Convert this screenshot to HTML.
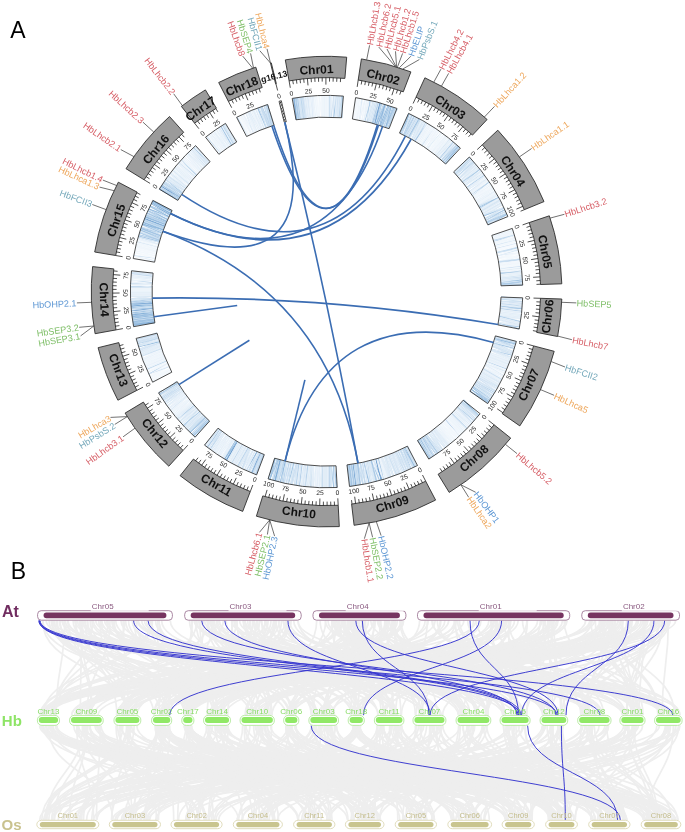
<!DOCTYPE html>
<html><head><meta charset="utf-8"><title>Figure</title>
<style>html,body{margin:0;padding:0;background:#fff;}svg{display:block;}</style>
</head><body>
<svg width="685" height="832" viewBox="0 0 685 832">
<rect width="685" height="832" fill="#fff"/>
<g id="circos">
<g fill="none" stroke-width="21.7">
<path d="M294.1,109.1A185.35,185.35 0 0 1 294.9,109.0" stroke="#b6d1ea"/>
<path d="M294.7,109.0A185.35,185.35 0 0 1 295.5,108.9" stroke="#6b9dcf"/>
<path d="M295.4,108.9A185.35,185.35 0 0 1 296.2,108.8" stroke="#7fadd8"/>
<path d="M296.0,108.8A185.35,185.35 0 0 1 296.8,108.7" stroke="#cde0f1"/>
<path d="M296.6,108.7A185.35,185.35 0 0 1 297.4,108.6" stroke="#9ec1e2"/>
<path d="M297.3,108.6A185.35,185.35 0 0 1 298.1,108.5" stroke="#9fc2e2"/>
<path d="M297.9,108.5A185.35,185.35 0 0 1 298.7,108.4" stroke="#cadef1"/>
<path d="M298.6,108.4A185.35,185.35 0 0 1 299.4,108.3" stroke="#a0c3e3"/>
<path d="M299.2,108.3A185.35,185.35 0 0 1 300.0,108.2" stroke="#c5dbef"/>
<path d="M299.8,108.2A185.35,185.35 0 0 1 300.6,108.1" stroke="#d4e5f4"/>
<path d="M300.5,108.1A185.35,185.35 0 0 1 301.3,108.0" stroke="#cce0f1"/>
<path d="M301.1,108.0A185.35,185.35 0 0 1 301.9,107.9" stroke="#d3e4f3"/>
<path d="M301.8,107.9A185.35,185.35 0 0 1 302.6,107.8" stroke="#b2cfe9"/>
<path d="M302.4,107.8A185.35,185.35 0 0 1 303.2,107.7" stroke="#c3daee"/>
<path d="M303.0,107.8A185.35,185.35 0 0 1 303.9,107.7" stroke="#cee1f2"/>
<path d="M303.7,107.7A185.35,185.35 0 0 1 304.5,107.6" stroke="#c1d8ee"/>
<path d="M304.3,107.6A185.35,185.35 0 0 1 305.1,107.5" stroke="#cde0f1"/>
<path d="M305.0,107.5A185.35,185.35 0 0 1 305.8,107.4" stroke="#dae8f5"/>
<path d="M305.6,107.4A185.35,185.35 0 0 1 306.4,107.4" stroke="#dbe9f5"/>
<path d="M306.3,107.4A185.35,185.35 0 0 1 307.1,107.3" stroke="#d7e7f4"/>
<path d="M306.9,107.3A185.35,185.35 0 0 1 307.7,107.2" stroke="#e4eef8"/>
<path d="M307.5,107.2A185.35,185.35 0 0 1 308.4,107.2" stroke="#e1ecf7"/>
<path d="M308.2,107.2A185.35,185.35 0 0 1 309.0,107.1" stroke="#deebf6"/>
<path d="M308.8,107.1A185.35,185.35 0 0 1 309.6,107.0" stroke="#dae8f5"/>
<path d="M309.5,107.0A185.35,185.35 0 0 1 310.3,107.0" stroke="#e3eef8"/>
<path d="M310.1,107.0A185.35,185.35 0 0 1 310.9,106.9" stroke="#e8f1f9"/>
<path d="M310.8,106.9A185.35,185.35 0 0 1 311.6,106.9" stroke="#eaf3fa"/>
<path d="M311.4,106.9A185.35,185.35 0 0 1 312.2,106.8" stroke="#e2edf8"/>
<path d="M312.1,106.8A185.35,185.35 0 0 1 312.9,106.8" stroke="#e2edf8"/>
<path d="M312.7,106.8A185.35,185.35 0 0 1 313.5,106.7" stroke="#e6f0f9"/>
<path d="M313.3,106.7A185.35,185.35 0 0 1 314.2,106.7" stroke="#e9f1fa"/>
<path d="M314.0,106.7A185.35,185.35 0 0 1 314.8,106.6" stroke="#e8f1f9"/>
<path d="M314.6,106.6A185.35,185.35 0 0 1 315.4,106.6" stroke="#edf4fb"/>
<path d="M315.3,106.6A185.35,185.35 0 0 1 316.1,106.5" stroke="#f1f7fc"/>
<path d="M315.9,106.6A185.35,185.35 0 0 1 316.7,106.5" stroke="#eef5fb"/>
<path d="M316.6,106.5A185.35,185.35 0 0 1 317.4,106.5" stroke="#edf4fb"/>
<path d="M317.2,106.5A185.35,185.35 0 0 1 318.0,106.4" stroke="#f0f6fc"/>
<path d="M317.9,106.5A185.35,185.35 0 0 1 318.7,106.4" stroke="#f3f8fc"/>
<path d="M318.5,106.4A185.35,185.35 0 0 1 319.3,106.4" stroke="#f2f7fc"/>
<path d="M319.2,106.4A185.35,185.35 0 0 1 320.0,106.4" stroke="#f2f7fc"/>
<path d="M319.8,106.4A185.35,185.35 0 0 1 320.6,106.3" stroke="#f2f7fc"/>
<path d="M320.5,106.4A185.35,185.35 0 0 1 321.3,106.3" stroke="#f0f6fc"/>
<path d="M321.1,106.3A185.35,185.35 0 0 1 321.9,106.3" stroke="#f2f7fc"/>
<path d="M321.7,106.3A185.35,185.35 0 0 1 322.6,106.3" stroke="#eef5fb"/>
<path d="M322.4,106.3A185.35,185.35 0 0 1 323.2,106.3" stroke="#ecf3fa"/>
<path d="M323.0,106.3A185.35,185.35 0 0 1 323.9,106.3" stroke="#eff5fb"/>
<path d="M323.7,106.3A185.35,185.35 0 0 1 324.5,106.3" stroke="#eef5fb"/>
<path d="M324.3,106.3A185.35,185.35 0 0 1 325.1,106.3" stroke="#e9f1fa"/>
<path d="M325.0,106.3A185.35,185.35 0 0 1 325.8,106.3" stroke="#eff5fb"/>
<path d="M325.6,106.3A185.35,185.35 0 0 1 326.4,106.3" stroke="#eef5fb"/>
<path d="M326.3,106.3A185.35,185.35 0 0 1 327.1,106.3" stroke="#ebf3fa"/>
<path d="M326.9,106.3A185.35,185.35 0 0 1 327.7,106.3" stroke="#f0f6fc"/>
<path d="M327.6,106.3A185.35,185.35 0 0 1 328.4,106.3" stroke="#ecf4fb"/>
<path d="M328.2,106.3A185.35,185.35 0 0 1 329.0,106.3" stroke="#e7f0f9"/>
<path d="M328.9,106.3A185.35,185.35 0 0 1 329.7,106.3" stroke="#eaf2fa"/>
<path d="M329.5,106.3A185.35,185.35 0 0 1 330.3,106.3" stroke="#accbe7"/>
<path d="M330.2,106.3A185.35,185.35 0 0 1 331.0,106.3" stroke="#e3eef8"/>
<path d="M330.8,106.3A185.35,185.35 0 0 1 331.6,106.3" stroke="#e1ecf7"/>
<path d="M331.5,106.3A185.35,185.35 0 0 1 332.3,106.3" stroke="#e4eef8"/>
<path d="M332.1,106.3A185.35,185.35 0 0 1 332.9,106.4" stroke="#ccdff1"/>
<path d="M332.7,106.4A185.35,185.35 0 0 1 333.6,106.4" stroke="#e4eef8"/>
<path d="M333.4,106.4A185.35,185.35 0 0 1 334.2,106.4" stroke="#d0e2f2"/>
<path d="M334.0,106.4A185.35,185.35 0 0 1 334.8,106.4" stroke="#e3eef8"/>
<path d="M334.7,106.4A185.35,185.35 0 0 1 335.5,106.5" stroke="#a0c3e3"/>
<path d="M335.3,106.5A185.35,185.35 0 0 1 336.1,106.5" stroke="#d9e7f5"/>
<path d="M336.0,106.5A185.35,185.35 0 0 1 336.8,106.5" stroke="#dfebf7"/>
<path d="M336.6,106.5A185.35,185.35 0 0 1 337.4,106.6" stroke="#dbe9f6"/>
<path d="M337.3,106.6A185.35,185.35 0 0 1 338.1,106.6" stroke="#cde0f2"/>
<path d="M337.9,106.6A185.35,185.35 0 0 1 338.7,106.6" stroke="#d4e4f3"/>
<path d="M338.6,106.6A185.35,185.35 0 0 1 339.4,106.7" stroke="#dbe9f6"/>
<path d="M339.2,106.7A185.35,185.35 0 0 1 340.0,106.7" stroke="#d1e3f3"/>
<path d="M339.9,106.7A185.35,185.35 0 0 1 340.7,106.8" stroke="#bad4eb"/>
<path d="M340.5,106.8A185.35,185.35 0 0 1 341.3,106.8" stroke="#d8e7f5"/>
<path d="M341.1,106.8A185.35,185.35 0 0 1 341.9,106.9" stroke="#c3daee"/>
<path d="M341.8,106.9A185.35,185.35 0 0 1 342.4,106.9" stroke="#88b3db"/>
<path d="M354.0,108.3A185.35,185.35 0 0 1 354.8,108.4" stroke="#f2f7fc"/>
<path d="M354.6,108.4A185.35,185.35 0 0 1 355.4,108.5" stroke="#f2f8fc"/>
<path d="M355.3,108.5A185.35,185.35 0 0 1 356.1,108.6" stroke="#f3f8fd"/>
<path d="M355.9,108.6A185.35,185.35 0 0 1 356.7,108.7" stroke="#f2f7fc"/>
<path d="M356.6,108.7A185.35,185.35 0 0 1 357.4,108.8" stroke="#f1f7fc"/>
<path d="M357.2,108.8A185.35,185.35 0 0 1 358.0,108.9" stroke="#f3f8fd"/>
<path d="M357.9,108.9A185.35,185.35 0 0 1 358.7,109.0" stroke="#eff5fb"/>
<path d="M358.5,109.0A185.35,185.35 0 0 1 359.3,109.2" stroke="#eff6fb"/>
<path d="M359.1,109.1A185.35,185.35 0 0 1 359.9,109.3" stroke="#eff5fb"/>
<path d="M359.8,109.2A185.35,185.35 0 0 1 360.6,109.4" stroke="#f0f6fc"/>
<path d="M360.4,109.4A185.35,185.35 0 0 1 361.2,109.5" stroke="#d8e7f5"/>
<path d="M361.1,109.5A185.35,185.35 0 0 1 361.9,109.6" stroke="#f1f6fc"/>
<path d="M361.7,109.6A185.35,185.35 0 0 1 362.5,109.8" stroke="#ecf3fa"/>
<path d="M362.4,109.7A185.35,185.35 0 0 1 363.1,109.9" stroke="#ecf3fa"/>
<path d="M363.0,109.9A185.35,185.35 0 0 1 363.8,110.0" stroke="#ebf3fa"/>
<path d="M363.6,110.0A185.35,185.35 0 0 1 364.4,110.2" stroke="#f0f6fc"/>
<path d="M364.3,110.1A185.35,185.35 0 0 1 365.1,110.3" stroke="#f0f6fc"/>
<path d="M364.9,110.3A185.35,185.35 0 0 1 365.7,110.4" stroke="#ecf4fb"/>
<path d="M365.5,110.4A185.35,185.35 0 0 1 366.3,110.6" stroke="#e8f1f9"/>
<path d="M366.2,110.5A185.35,185.35 0 0 1 367.0,110.7" stroke="#e8f1f9"/>
<path d="M366.8,110.7A185.35,185.35 0 0 1 367.6,110.8" stroke="#ecf3fa"/>
<path d="M367.5,110.8A185.35,185.35 0 0 1 368.2,111.0" stroke="#abcae6"/>
<path d="M368.1,111.0A185.35,185.35 0 0 1 368.9,111.1" stroke="#a9c9e6"/>
<path d="M368.7,111.1A185.35,185.35 0 0 1 369.5,111.3" stroke="#e4eff8"/>
<path d="M369.4,111.3A185.35,185.35 0 0 1 370.2,111.4" stroke="#dfebf7"/>
<path d="M370.0,111.4A185.35,185.35 0 0 1 370.8,111.6" stroke="#d0e2f2"/>
<path d="M370.6,111.6A185.35,185.35 0 0 1 371.4,111.8" stroke="#dbe9f6"/>
<path d="M371.3,111.7A185.35,185.35 0 0 1 372.1,111.9" stroke="#d3e4f3"/>
<path d="M371.9,111.9A185.35,185.35 0 0 1 372.7,112.1" stroke="#e0ecf7"/>
<path d="M372.5,112.0A185.35,185.35 0 0 1 373.3,112.2" stroke="#cee1f2"/>
<path d="M373.2,112.2A185.35,185.35 0 0 1 373.9,112.4" stroke="#deebf6"/>
<path d="M373.8,112.4A185.35,185.35 0 0 1 374.6,112.6" stroke="#c7dcf0"/>
<path d="M374.4,112.5A185.35,185.35 0 0 1 375.2,112.7" stroke="#d5e5f4"/>
<path d="M375.1,112.7A185.35,185.35 0 0 1 375.8,112.9" stroke="#92b9de"/>
<path d="M375.7,112.9A185.35,185.35 0 0 1 376.5,113.1" stroke="#c4dbef"/>
<path d="M376.3,113.0A185.35,185.35 0 0 1 377.1,113.3" stroke="#aecce7"/>
<path d="M376.9,113.2A185.35,185.35 0 0 1 377.7,113.4" stroke="#6497cc"/>
<path d="M377.6,113.4A185.35,185.35 0 0 1 378.3,113.6" stroke="#7fadd8"/>
<path d="M378.2,113.6A185.35,185.35 0 0 1 379.0,113.8" stroke="#c4daef"/>
<path d="M378.8,113.8A185.35,185.35 0 0 1 379.6,114.0" stroke="#abcae6"/>
<path d="M379.4,113.9A185.35,185.35 0 0 1 380.2,114.2" stroke="#b4d0e9"/>
<path d="M380.1,114.1A185.35,185.35 0 0 1 380.8,114.4" stroke="#8cb6dc"/>
<path d="M380.7,114.3A185.35,185.35 0 0 1 381.5,114.6" stroke="#accbe7"/>
<path d="M381.3,114.5A185.35,185.35 0 0 1 382.1,114.8" stroke="#8ab4db"/>
<path d="M381.9,114.7A185.35,185.35 0 0 1 382.7,114.9" stroke="#89b3db"/>
<path d="M382.6,114.9A185.35,185.35 0 0 1 383.3,115.1" stroke="#a5c6e4"/>
<path d="M383.2,115.1A185.35,185.35 0 0 1 384.0,115.3" stroke="#cbdff1"/>
<path d="M383.8,115.3A185.35,185.35 0 0 1 384.6,115.6" stroke="#78a8d5"/>
<path d="M384.4,115.5A185.35,185.35 0 0 1 385.2,115.8" stroke="#bed7ed"/>
<path d="M385.0,115.7A185.35,185.35 0 0 1 385.8,116.0" stroke="#91b9de"/>
<path d="M385.7,115.9A185.35,185.35 0 0 1 386.4,116.2" stroke="#b0cde8"/>
<path d="M386.3,116.1A185.35,185.35 0 0 1 387.0,116.4" stroke="#9dc1e2"/>
<path d="M386.9,116.3A185.35,185.35 0 0 1 387.7,116.6" stroke="#c1d9ee"/>
<path d="M387.5,116.5A185.35,185.35 0 0 1 388.3,116.8" stroke="#b6d1ea"/>
<path d="M388.1,116.8A185.35,185.35 0 0 1 388.9,117.0" stroke="#8db7dc"/>
<path d="M388.7,117.0A185.35,185.35 0 0 1 389.5,117.3" stroke="#a2c4e3"/>
<path d="M389.4,117.2A185.35,185.35 0 0 1 390.1,117.5" stroke="#8bb5dc"/>
<path d="M390.0,117.4A185.35,185.35 0 0 1 390.7,117.7" stroke="#a7c7e5"/>
<path d="M390.6,117.6A185.35,185.35 0 0 1 391.3,117.9" stroke="#b2cfe9"/>
<path d="M391.2,117.9A185.35,185.35 0 0 1 392.0,118.2" stroke="#bad4eb"/>
<path d="M391.8,118.1A185.35,185.35 0 0 1 392.6,118.4" stroke="#bbd4ec"/>
<path d="M392.4,118.3A185.35,185.35 0 0 1 393.0,118.6" stroke="#aecce7"/>
<path d="M404.1,123.2A185.35,185.35 0 0 1 404.8,123.5" stroke="#8eb7dd"/>
<path d="M404.6,123.5A185.35,185.35 0 0 1 405.4,123.8" stroke="#aacae6"/>
<path d="M405.2,123.8A185.35,185.35 0 0 1 406.0,124.1" stroke="#97bde0"/>
<path d="M405.8,124.0A185.35,185.35 0 0 1 406.6,124.4" stroke="#cbdff1"/>
<path d="M406.4,124.3A185.35,185.35 0 0 1 407.1,124.7" stroke="#cee0f2"/>
<path d="M407.0,124.6A185.35,185.35 0 0 1 407.7,124.9" stroke="#cfe1f2"/>
<path d="M407.6,124.9A185.35,185.35 0 0 1 408.3,125.2" stroke="#a7c7e5"/>
<path d="M408.2,125.2A185.35,185.35 0 0 1 408.9,125.5" stroke="#cee1f2"/>
<path d="M408.7,125.4A185.35,185.35 0 0 1 409.5,125.8" stroke="#b6d1ea"/>
<path d="M409.3,125.7A185.35,185.35 0 0 1 410.1,126.1" stroke="#adcbe7"/>
<path d="M409.9,126.0A185.35,185.35 0 0 1 410.6,126.4" stroke="#d1e2f2"/>
<path d="M410.5,126.3A185.35,185.35 0 0 1 411.2,126.7" stroke="#cce0f1"/>
<path d="M411.1,126.6A185.35,185.35 0 0 1 411.8,127.0" stroke="#b3cfe9"/>
<path d="M411.7,126.9A185.35,185.35 0 0 1 412.4,127.3" stroke="#d7e6f4"/>
<path d="M412.2,127.2A185.35,185.35 0 0 1 412.9,127.6" stroke="#cde0f2"/>
<path d="M412.8,127.5A185.35,185.35 0 0 1 413.5,127.9" stroke="#d8e7f5"/>
<path d="M413.4,127.8A185.35,185.35 0 0 1 414.1,128.2" stroke="#90b9dd"/>
<path d="M414.0,128.1A185.35,185.35 0 0 1 414.7,128.5" stroke="#abcae6"/>
<path d="M414.5,128.4A185.35,185.35 0 0 1 415.2,128.8" stroke="#cde0f1"/>
<path d="M415.1,128.7A185.35,185.35 0 0 1 415.8,129.1" stroke="#dceaf6"/>
<path d="M415.7,129.1A185.35,185.35 0 0 1 416.4,129.4" stroke="#c9def0"/>
<path d="M416.2,129.4A185.35,185.35 0 0 1 417.0,129.8" stroke="#ddeaf6"/>
<path d="M416.8,129.7A185.35,185.35 0 0 1 417.5,130.1" stroke="#dfecf7"/>
<path d="M417.4,130.0A185.35,185.35 0 0 1 418.1,130.4" stroke="#dbe9f6"/>
<path d="M417.9,130.3A185.35,185.35 0 0 1 418.7,130.7" stroke="#d9e8f5"/>
<path d="M418.5,130.6A185.35,185.35 0 0 1 419.2,131.0" stroke="#d3e4f3"/>
<path d="M419.1,131.0A185.35,185.35 0 0 1 419.8,131.4" stroke="#e3eef8"/>
<path d="M419.6,131.3A185.35,185.35 0 0 1 420.3,131.7" stroke="#ddeaf6"/>
<path d="M420.2,131.6A185.35,185.35 0 0 1 420.9,132.0" stroke="#b9d3eb"/>
<path d="M420.8,131.9A185.35,185.35 0 0 1 421.5,132.4" stroke="#a5c6e4"/>
<path d="M421.3,132.3A185.35,185.35 0 0 1 422.0,132.7" stroke="#e3eef8"/>
<path d="M421.9,132.6A185.35,185.35 0 0 1 422.6,133.0" stroke="#ecf3fa"/>
<path d="M422.4,132.9A185.35,185.35 0 0 1 423.1,133.4" stroke="#edf4fb"/>
<path d="M423.0,133.3A185.35,185.35 0 0 1 423.7,133.7" stroke="#eaf2fa"/>
<path d="M423.5,133.6A185.35,185.35 0 0 1 424.2,134.1" stroke="#eaf2fa"/>
<path d="M424.1,134.0A185.35,185.35 0 0 1 424.8,134.4" stroke="#edf4fb"/>
<path d="M424.7,134.3A185.35,185.35 0 0 1 425.3,134.7" stroke="#ebf3fa"/>
<path d="M425.2,134.7A185.35,185.35 0 0 1 425.9,135.1" stroke="#eff5fb"/>
<path d="M425.8,135.0A185.35,185.35 0 0 1 426.4,135.4" stroke="#eff6fb"/>
<path d="M426.3,135.4A185.35,185.35 0 0 1 427.0,135.8" stroke="#edf4fb"/>
<path d="M426.9,135.7A185.35,185.35 0 0 1 427.5,136.1" stroke="#eaf2fa"/>
<path d="M427.4,136.1A185.35,185.35 0 0 1 428.1,136.5" stroke="#ecf4fb"/>
<path d="M427.9,136.4A185.35,185.35 0 0 1 428.6,136.9" stroke="#d5e5f4"/>
<path d="M428.5,136.8A185.35,185.35 0 0 1 429.2,137.2" stroke="#f1f6fc"/>
<path d="M429.0,137.1A185.35,185.35 0 0 1 429.7,137.6" stroke="#edf4fb"/>
<path d="M429.6,137.5A185.35,185.35 0 0 1 430.2,137.9" stroke="#eef5fb"/>
<path d="M430.1,137.8A185.35,185.35 0 0 1 430.8,138.3" stroke="#f1f6fc"/>
<path d="M430.7,138.2A185.35,185.35 0 0 1 431.3,138.7" stroke="#eff5fb"/>
<path d="M431.2,138.6A185.35,185.35 0 0 1 431.9,139.0" stroke="#edf4fb"/>
<path d="M431.7,138.9A185.35,185.35 0 0 1 432.4,139.4" stroke="#eff5fb"/>
<path d="M432.3,139.3A185.35,185.35 0 0 1 432.9,139.8" stroke="#edf4fb"/>
<path d="M432.8,139.7A185.35,185.35 0 0 1 433.5,140.2" stroke="#eef5fb"/>
<path d="M433.3,140.1A185.35,185.35 0 0 1 434.0,140.5" stroke="#eff5fb"/>
<path d="M433.9,140.4A185.35,185.35 0 0 1 434.5,140.9" stroke="#dceaf6"/>
<path d="M434.4,140.8A185.35,185.35 0 0 1 435.0,141.3" stroke="#f2f8fc"/>
<path d="M434.9,141.2A185.35,185.35 0 0 1 435.6,141.7" stroke="#f1f7fc"/>
<path d="M435.4,141.6A185.35,185.35 0 0 1 436.1,142.1" stroke="#f2f7fc"/>
<path d="M436.0,142.0A185.35,185.35 0 0 1 436.6,142.4" stroke="#edf4fb"/>
<path d="M436.5,142.3A185.35,185.35 0 0 1 437.1,142.8" stroke="#f0f6fc"/>
<path d="M437.0,142.7A185.35,185.35 0 0 1 437.7,143.2" stroke="#f0f6fc"/>
<path d="M437.5,143.1A185.35,185.35 0 0 1 438.2,143.6" stroke="#f0f6fc"/>
<path d="M438.1,143.5A185.35,185.35 0 0 1 438.7,144.0" stroke="#eef5fb"/>
<path d="M438.6,143.9A185.35,185.35 0 0 1 439.2,144.4" stroke="#e7f1f9"/>
<path d="M439.1,144.3A185.35,185.35 0 0 1 439.7,144.8" stroke="#edf4fb"/>
<path d="M439.6,144.7A185.35,185.35 0 0 1 440.3,145.2" stroke="#ecf3fa"/>
<path d="M440.1,145.1A185.35,185.35 0 0 1 440.8,145.6" stroke="#eef5fb"/>
<path d="M440.6,145.5A185.35,185.35 0 0 1 441.3,146.0" stroke="#e8f1f9"/>
<path d="M441.2,145.9A185.35,185.35 0 0 1 441.8,146.4" stroke="#ebf3fa"/>
<path d="M441.7,146.3A185.35,185.35 0 0 1 442.3,146.8" stroke="#ecf4fb"/>
<path d="M442.2,146.7A185.35,185.35 0 0 1 442.8,147.2" stroke="#ebf3fa"/>
<path d="M442.7,147.1A185.35,185.35 0 0 1 443.3,147.6" stroke="#d1e2f2"/>
<path d="M443.2,147.5A185.35,185.35 0 0 1 443.8,148.0" stroke="#e9f1f9"/>
<path d="M443.7,147.9A185.35,185.35 0 0 1 444.3,148.4" stroke="#e4eff8"/>
<path d="M444.2,148.3A185.35,185.35 0 0 1 444.8,148.8" stroke="#e2eef8"/>
<path d="M444.7,148.7A185.35,185.35 0 0 1 445.3,149.3" stroke="#deebf7"/>
<path d="M445.2,149.2A185.35,185.35 0 0 1 445.8,149.7" stroke="#e5eff8"/>
<path d="M445.7,149.6A185.35,185.35 0 0 1 446.3,150.1" stroke="#e6f0f9"/>
<path d="M446.2,150.0A185.35,185.35 0 0 1 446.8,150.5" stroke="#9dc1e2"/>
<path d="M446.7,150.4A185.35,185.35 0 0 1 447.3,150.9" stroke="#d2e3f3"/>
<path d="M447.2,150.8A185.35,185.35 0 0 1 447.8,151.4" stroke="#d1e3f3"/>
<path d="M447.7,151.3A185.35,185.35 0 0 1 448.3,151.8" stroke="#dceaf6"/>
<path d="M448.2,151.7A185.35,185.35 0 0 1 448.8,152.2" stroke="#cee1f2"/>
<path d="M448.7,152.1A185.35,185.35 0 0 1 449.3,152.7" stroke="#bcd5ec"/>
<path d="M449.2,152.5A185.35,185.35 0 0 1 449.8,153.1" stroke="#c0d8ed"/>
<path d="M449.6,153.0A185.35,185.35 0 0 1 450.2,153.5" stroke="#b4d0e9"/>
<path d="M450.1,153.4A185.35,185.35 0 0 1 450.7,154.0" stroke="#a9c9e6"/>
<path d="M450.6,153.8A185.35,185.35 0 0 1 451.2,154.4" stroke="#bed6ed"/>
<path d="M451.1,154.3A185.35,185.35 0 0 1 451.7,154.8" stroke="#98bde0"/>
<path d="M451.6,154.7A185.35,185.35 0 0 1 452.2,155.3" stroke="#a3c5e4"/>
<path d="M452.1,155.2A185.35,185.35 0 0 1 452.7,155.7" stroke="#9cc1e1"/>
<path d="M452.5,155.6A185.35,185.35 0 0 1 453.0,156.0" stroke="#cce0f1"/>
<path d="M461.5,164.5A185.35,185.35 0 0 1 462.1,165.1" stroke="#c1d8ee"/>
<path d="M461.9,165.0A185.35,185.35 0 0 1 462.5,165.6" stroke="#cadef1"/>
<path d="M462.4,165.4A185.35,185.35 0 0 1 462.9,166.0" stroke="#d9e8f5"/>
<path d="M462.8,165.9A185.35,185.35 0 0 1 463.4,166.5" stroke="#b3cfe9"/>
<path d="M463.3,166.4A185.35,185.35 0 0 1 463.8,167.0" stroke="#c6dcef"/>
<path d="M463.7,166.9A185.35,185.35 0 0 1 464.3,167.5" stroke="#c8ddf0"/>
<path d="M464.2,167.4A185.35,185.35 0 0 1 464.7,168.0" stroke="#d0e2f2"/>
<path d="M464.6,167.8A185.35,185.35 0 0 1 465.1,168.5" stroke="#d2e3f3"/>
<path d="M465.0,168.3A185.35,185.35 0 0 1 465.6,168.9" stroke="#cde0f1"/>
<path d="M465.5,168.8A185.35,185.35 0 0 1 466.0,169.4" stroke="#b5d1ea"/>
<path d="M465.9,169.3A185.35,185.35 0 0 1 466.4,169.9" stroke="#dceaf6"/>
<path d="M466.3,169.8A185.35,185.35 0 0 1 466.9,170.4" stroke="#ddeaf6"/>
<path d="M466.7,170.3A185.35,185.35 0 0 1 467.3,170.9" stroke="#cbdff1"/>
<path d="M467.2,170.8A185.35,185.35 0 0 1 467.7,171.4" stroke="#d8e7f5"/>
<path d="M467.6,171.3A185.35,185.35 0 0 1 468.1,171.9" stroke="#dae8f5"/>
<path d="M468.0,171.8A185.35,185.35 0 0 1 468.5,172.4" stroke="#deebf6"/>
<path d="M468.4,172.3A185.35,185.35 0 0 1 469.0,172.9" stroke="#e0ecf7"/>
<path d="M468.9,172.8A185.35,185.35 0 0 1 469.4,173.4" stroke="#dae8f5"/>
<path d="M469.3,173.3A185.35,185.35 0 0 1 469.8,173.9" stroke="#d9e8f5"/>
<path d="M469.7,173.8A185.35,185.35 0 0 1 470.2,174.4" stroke="#e9f2fa"/>
<path d="M470.1,174.3A185.35,185.35 0 0 1 470.6,174.9" stroke="#ddeaf6"/>
<path d="M470.5,174.8A185.35,185.35 0 0 1 471.0,175.4" stroke="#e2eef8"/>
<path d="M470.9,175.3A185.35,185.35 0 0 1 471.4,176.0" stroke="#b0cee8"/>
<path d="M471.3,175.8A185.35,185.35 0 0 1 471.9,176.5" stroke="#b0cee8"/>
<path d="M471.8,176.3A185.35,185.35 0 0 1 472.3,177.0" stroke="#e8f1f9"/>
<path d="M472.2,176.8A185.35,185.35 0 0 1 472.7,177.5" stroke="#dbe9f6"/>
<path d="M472.6,177.4A185.35,185.35 0 0 1 473.1,178.0" stroke="#deebf6"/>
<path d="M473.0,177.9A185.35,185.35 0 0 1 473.5,178.5" stroke="#ddeaf6"/>
<path d="M473.4,178.4A185.35,185.35 0 0 1 473.9,179.0" stroke="#e7f1f9"/>
<path d="M473.8,178.9A185.35,185.35 0 0 1 474.3,179.6" stroke="#d4e4f3"/>
<path d="M474.2,179.4A185.35,185.35 0 0 1 474.6,180.1" stroke="#e4eff8"/>
<path d="M474.5,180.0A185.35,185.35 0 0 1 475.0,180.6" stroke="#e7f1f9"/>
<path d="M474.9,180.5A185.35,185.35 0 0 1 475.4,181.1" stroke="#e7f1f9"/>
<path d="M475.3,181.0A185.35,185.35 0 0 1 475.8,181.7" stroke="#accbe7"/>
<path d="M475.7,181.5A185.35,185.35 0 0 1 476.2,182.2" stroke="#e2edf8"/>
<path d="M476.1,182.0A185.35,185.35 0 0 1 476.6,182.7" stroke="#e2edf8"/>
<path d="M476.5,182.6A185.35,185.35 0 0 1 477.0,183.2" stroke="#e3eef8"/>
<path d="M476.9,183.1A185.35,185.35 0 0 1 477.4,183.8" stroke="#e9f2fa"/>
<path d="M477.3,183.6A185.35,185.35 0 0 1 477.7,184.3" stroke="#e3eef8"/>
<path d="M477.6,184.2A185.35,185.35 0 0 1 478.1,184.8" stroke="#ebf3fa"/>
<path d="M478.0,184.7A185.35,185.35 0 0 1 478.5,185.4" stroke="#d8e7f5"/>
<path d="M478.4,185.2A185.35,185.35 0 0 1 478.9,185.9" stroke="#e7f0f9"/>
<path d="M478.8,185.8A185.35,185.35 0 0 1 479.2,186.4" stroke="#e7f0f9"/>
<path d="M479.1,186.3A185.35,185.35 0 0 1 479.6,187.0" stroke="#edf4fb"/>
<path d="M479.5,186.8A185.35,185.35 0 0 1 480.0,187.5" stroke="#eef5fb"/>
<path d="M479.9,187.4A185.35,185.35 0 0 1 480.3,188.1" stroke="#e8f1f9"/>
<path d="M480.2,187.9A185.35,185.35 0 0 1 480.7,188.6" stroke="#bdd6ec"/>
<path d="M480.6,188.5A185.35,185.35 0 0 1 481.1,189.1" stroke="#bdd6ec"/>
<path d="M481.0,189.0A185.35,185.35 0 0 1 481.4,189.7" stroke="#ecf4fb"/>
<path d="M481.3,189.6A185.35,185.35 0 0 1 481.8,190.2" stroke="#f0f6fc"/>
<path d="M481.7,190.1A185.35,185.35 0 0 1 482.1,190.8" stroke="#edf4fb"/>
<path d="M482.0,190.6A185.35,185.35 0 0 1 482.5,191.3" stroke="#ecf3fa"/>
<path d="M482.4,191.2A185.35,185.35 0 0 1 482.8,191.9" stroke="#f0f6fc"/>
<path d="M482.8,191.7A185.35,185.35 0 0 1 483.2,192.4" stroke="#f0f6fc"/>
<path d="M483.1,192.3A185.35,185.35 0 0 1 483.5,193.0" stroke="#eef5fb"/>
<path d="M483.5,192.8A185.35,185.35 0 0 1 483.9,193.5" stroke="#eaf2fa"/>
<path d="M483.8,193.4A185.35,185.35 0 0 1 484.2,194.1" stroke="#eef5fb"/>
<path d="M484.1,194.0A185.35,185.35 0 0 1 484.6,194.7" stroke="#edf4fb"/>
<path d="M484.5,194.5A185.35,185.35 0 0 1 484.9,195.2" stroke="#ecf4fb"/>
<path d="M484.8,195.1A185.35,185.35 0 0 1 485.3,195.8" stroke="#eef5fb"/>
<path d="M485.2,195.6A185.35,185.35 0 0 1 485.6,196.3" stroke="#e6f0f9"/>
<path d="M485.5,196.2A185.35,185.35 0 0 1 485.9,196.9" stroke="#edf4fb"/>
<path d="M485.8,196.7A185.35,185.35 0 0 1 486.3,197.5" stroke="#e4eff8"/>
<path d="M486.2,197.3A185.35,185.35 0 0 1 486.6,198.0" stroke="#ecf4fb"/>
<path d="M486.5,197.9A185.35,185.35 0 0 1 486.9,198.6" stroke="#edf4fb"/>
<path d="M486.8,198.4A185.35,185.35 0 0 1 487.2,199.1" stroke="#ecf4fb"/>
<path d="M487.2,199.0A185.35,185.35 0 0 1 487.6,199.7" stroke="#eaf2fa"/>
<path d="M487.5,199.6A185.35,185.35 0 0 1 487.9,200.3" stroke="#e1edf7"/>
<path d="M487.8,200.1A185.35,185.35 0 0 1 488.2,200.8" stroke="#e7f0f9"/>
<path d="M488.1,200.7A185.35,185.35 0 0 1 488.5,201.4" stroke="#e4eff8"/>
<path d="M488.5,201.3A185.35,185.35 0 0 1 488.8,202.0" stroke="#cde0f1"/>
<path d="M488.8,201.8A185.35,185.35 0 0 1 489.2,202.6" stroke="#9cc0e1"/>
<path d="M489.1,202.4A185.35,185.35 0 0 1 489.5,203.1" stroke="#a6c7e5"/>
<path d="M489.4,203.0A185.35,185.35 0 0 1 489.8,203.7" stroke="#ddeaf6"/>
<path d="M489.7,203.6A185.35,185.35 0 0 1 490.1,204.3" stroke="#e5eff9"/>
<path d="M490.0,204.1A185.35,185.35 0 0 1 490.4,204.9" stroke="#e3eef8"/>
<path d="M490.3,204.7A185.35,185.35 0 0 1 490.7,205.4" stroke="#dae8f5"/>
<path d="M490.6,205.3A185.35,185.35 0 0 1 491.0,206.0" stroke="#cadef0"/>
<path d="M490.9,205.9A185.35,185.35 0 0 1 491.3,206.6" stroke="#ddeaf6"/>
<path d="M491.2,206.5A185.35,185.35 0 0 1 491.6,207.2" stroke="#e1ecf7"/>
<path d="M491.5,207.0A185.35,185.35 0 0 1 491.9,207.8" stroke="#e8f1f9"/>
<path d="M491.8,207.6A185.35,185.35 0 0 1 492.2,208.3" stroke="#d9e8f5"/>
<path d="M492.1,208.2A185.35,185.35 0 0 1 492.5,208.9" stroke="#dae8f5"/>
<path d="M492.4,208.8A185.35,185.35 0 0 1 492.8,209.5" stroke="#e4eef8"/>
<path d="M492.7,209.4A185.35,185.35 0 0 1 493.1,210.1" stroke="#e5eff8"/>
<path d="M493.0,210.0A185.35,185.35 0 0 1 493.4,210.7" stroke="#dae8f5"/>
<path d="M493.3,210.5A185.35,185.35 0 0 1 493.6,211.3" stroke="#d8e7f5"/>
<path d="M493.6,211.1A185.35,185.35 0 0 1 493.9,211.9" stroke="#d4e5f4"/>
<path d="M493.9,211.7A185.35,185.35 0 0 1 494.2,212.5" stroke="#98bee0"/>
<path d="M494.1,212.3A185.35,185.35 0 0 1 494.5,213.0" stroke="#dbe9f6"/>
<path d="M494.4,212.9A185.35,185.35 0 0 1 494.8,213.6" stroke="#cee0f2"/>
<path d="M494.7,213.5A185.35,185.35 0 0 1 495.0,214.2" stroke="#d9e8f5"/>
<path d="M495.0,214.1A185.35,185.35 0 0 1 495.3,214.8" stroke="#c6dcef"/>
<path d="M495.2,214.7A185.35,185.35 0 0 1 495.6,215.4" stroke="#a5c6e4"/>
<path d="M495.5,215.3A185.35,185.35 0 0 1 495.8,216.0" stroke="#bed6ed"/>
<path d="M495.8,215.9A185.35,185.35 0 0 1 496.1,216.6" stroke="#cce0f1"/>
<path d="M496.0,216.5A185.35,185.35 0 0 1 496.4,217.2" stroke="#d2e3f3"/>
<path d="M496.3,217.1A185.35,185.35 0 0 1 496.6,217.8" stroke="#b7d2ea"/>
<path d="M496.6,217.7A185.35,185.35 0 0 1 496.9,218.4" stroke="#a6c7e5"/>
<path d="M496.8,218.3A185.35,185.35 0 0 1 497.1,219.0" stroke="#afcde8"/>
<path d="M497.1,218.9A185.35,185.35 0 0 1 497.4,219.6" stroke="#bed7ed"/>
<path d="M497.3,219.5A185.35,185.35 0 0 1 497.7,220.2" stroke="#9abfe1"/>
<path d="M497.6,220.1A185.35,185.35 0 0 1 497.8,220.7" stroke="#cbdff1"/>
<path d="M502.1,231.9A185.35,185.35 0 0 1 502.3,232.6" stroke="#eaf2fa"/>
<path d="M502.3,232.5A185.35,185.35 0 0 1 502.5,233.3" stroke="#edf4fb"/>
<path d="M502.5,233.1A185.35,185.35 0 0 1 502.7,233.9" stroke="#e8f1f9"/>
<path d="M502.7,233.7A185.35,185.35 0 0 1 502.9,234.5" stroke="#f0f6fc"/>
<path d="M502.9,234.3A185.35,185.35 0 0 1 503.1,235.1" stroke="#ecf4fb"/>
<path d="M503.1,235.0A185.35,185.35 0 0 1 503.3,235.7" stroke="#eff5fb"/>
<path d="M503.3,235.6A185.35,185.35 0 0 1 503.5,236.4" stroke="#ebf3fa"/>
<path d="M503.5,236.2A185.35,185.35 0 0 1 503.7,237.0" stroke="#eff5fb"/>
<path d="M503.7,236.8A185.35,185.35 0 0 1 503.9,237.6" stroke="#eff5fb"/>
<path d="M503.9,237.4A185.35,185.35 0 0 1 504.1,238.2" stroke="#bad4eb"/>
<path d="M504.1,238.1A185.35,185.35 0 0 1 504.3,238.8" stroke="#b5d1ea"/>
<path d="M504.2,238.7A185.35,185.35 0 0 1 504.5,239.5" stroke="#ecf3fa"/>
<path d="M504.4,239.3A185.35,185.35 0 0 1 504.6,240.1" stroke="#f1f7fc"/>
<path d="M504.6,239.9A185.35,185.35 0 0 1 504.8,240.7" stroke="#f0f6fc"/>
<path d="M504.8,240.6A185.35,185.35 0 0 1 505.0,241.3" stroke="#eef5fb"/>
<path d="M505.0,241.2A185.35,185.35 0 0 1 505.2,242.0" stroke="#f1f7fc"/>
<path d="M505.1,241.8A185.35,185.35 0 0 1 505.4,242.6" stroke="#eff5fb"/>
<path d="M505.3,242.4A185.35,185.35 0 0 1 505.5,243.2" stroke="#d6e6f4"/>
<path d="M505.5,243.1A185.35,185.35 0 0 1 505.7,243.9" stroke="#f0f6fc"/>
<path d="M505.7,243.7A185.35,185.35 0 0 1 505.9,244.5" stroke="#f1f7fc"/>
<path d="M505.8,244.3A185.35,185.35 0 0 1 506.0,245.1" stroke="#f1f7fc"/>
<path d="M506.0,245.0A185.35,185.35 0 0 1 506.2,245.7" stroke="#f4f8fd"/>
<path d="M506.1,245.6A185.35,185.35 0 0 1 506.3,246.4" stroke="#cbdff1"/>
<path d="M506.3,246.2A185.35,185.35 0 0 1 506.5,247.0" stroke="#f4f8fd"/>
<path d="M506.5,246.8A185.35,185.35 0 0 1 506.7,247.6" stroke="#f4f8fd"/>
<path d="M506.6,247.5A185.35,185.35 0 0 1 506.8,248.3" stroke="#f5f9fd"/>
<path d="M506.8,248.1A185.35,185.35 0 0 1 507.0,248.9" stroke="#f4f8fd"/>
<path d="M506.9,248.7A185.35,185.35 0 0 1 507.1,249.5" stroke="#f4f9fd"/>
<path d="M507.1,249.4A185.35,185.35 0 0 1 507.3,250.2" stroke="#c2d9ee"/>
<path d="M507.2,250.0A185.35,185.35 0 0 1 507.4,250.8" stroke="#bed7ed"/>
<path d="M507.4,250.6A185.35,185.35 0 0 1 507.5,251.4" stroke="#d3e4f3"/>
<path d="M507.5,251.3A185.35,185.35 0 0 1 507.7,252.1" stroke="#f3f8fd"/>
<path d="M507.7,251.9A185.35,185.35 0 0 1 507.8,252.7" stroke="#f4f8fd"/>
<path d="M507.8,252.6A185.35,185.35 0 0 1 508.0,253.3" stroke="#d3e4f3"/>
<path d="M507.9,253.2A185.35,185.35 0 0 1 508.1,254.0" stroke="#f1f7fc"/>
<path d="M508.1,253.8A185.35,185.35 0 0 1 508.2,254.6" stroke="#e2edf8"/>
<path d="M508.2,254.5A185.35,185.35 0 0 1 508.4,255.3" stroke="#f1f6fc"/>
<path d="M508.3,255.1A185.35,185.35 0 0 1 508.5,255.9" stroke="#f1f7fc"/>
<path d="M508.4,255.7A185.35,185.35 0 0 1 508.6,256.5" stroke="#f3f8fc"/>
<path d="M508.6,256.4A185.35,185.35 0 0 1 508.7,257.2" stroke="#f0f6fc"/>
<path d="M508.7,257.0A185.35,185.35 0 0 1 508.8,257.8" stroke="#f3f8fc"/>
<path d="M508.8,257.7A185.35,185.35 0 0 1 509.0,258.5" stroke="#f2f8fc"/>
<path d="M508.9,258.3A185.35,185.35 0 0 1 509.1,259.1" stroke="#f4f8fd"/>
<path d="M509.0,258.9A185.35,185.35 0 0 1 509.2,259.7" stroke="#eff6fc"/>
<path d="M509.2,259.6A185.35,185.35 0 0 1 509.3,260.4" stroke="#d7e6f4"/>
<path d="M509.3,260.2A185.35,185.35 0 0 1 509.4,261.0" stroke="#c2d9ee"/>
<path d="M509.4,260.9A185.35,185.35 0 0 1 509.5,261.7" stroke="#bed7ed"/>
<path d="M509.5,261.5A185.35,185.35 0 0 1 509.6,262.3" stroke="#f2f7fc"/>
<path d="M509.6,262.1A185.35,185.35 0 0 1 509.7,263.0" stroke="#f1f6fc"/>
<path d="M509.7,262.8A185.35,185.35 0 0 1 509.8,263.6" stroke="#f2f7fc"/>
<path d="M509.8,263.4A185.35,185.35 0 0 1 509.9,264.2" stroke="#eff5fb"/>
<path d="M509.9,264.1A185.35,185.35 0 0 1 510.0,264.9" stroke="#eff5fb"/>
<path d="M510.0,264.7A185.35,185.35 0 0 1 510.1,265.5" stroke="#f1f7fc"/>
<path d="M510.1,265.4A185.35,185.35 0 0 1 510.2,266.2" stroke="#f1f7fc"/>
<path d="M510.2,266.0A185.35,185.35 0 0 1 510.3,266.8" stroke="#f2f8fc"/>
<path d="M510.3,266.7A185.35,185.35 0 0 1 510.4,267.5" stroke="#eff5fb"/>
<path d="M510.4,267.3A185.35,185.35 0 0 1 510.5,268.1" stroke="#cfe1f2"/>
<path d="M510.4,267.9A185.35,185.35 0 0 1 510.5,268.8" stroke="#f1f7fc"/>
<path d="M510.5,268.6A185.35,185.35 0 0 1 510.6,269.4" stroke="#eef5fb"/>
<path d="M510.6,269.2A185.35,185.35 0 0 1 510.7,270.0" stroke="#deebf6"/>
<path d="M510.7,269.9A185.35,185.35 0 0 1 510.8,270.7" stroke="#eff6fb"/>
<path d="M510.7,270.5A185.35,185.35 0 0 1 510.8,271.3" stroke="#eff5fb"/>
<path d="M510.8,271.2A185.35,185.35 0 0 1 510.9,272.0" stroke="#eef4fb"/>
<path d="M510.9,271.8A185.35,185.35 0 0 1 511.0,272.6" stroke="#b0cee8"/>
<path d="M511.0,272.5A185.35,185.35 0 0 1 511.0,273.3" stroke="#aac9e6"/>
<path d="M511.0,273.1A185.35,185.35 0 0 1 511.1,273.9" stroke="#ebf3fa"/>
<path d="M511.1,273.8A185.35,185.35 0 0 1 511.2,274.6" stroke="#e7f0f9"/>
<path d="M511.2,274.4A185.35,185.35 0 0 1 511.2,275.2" stroke="#e4eef8"/>
<path d="M511.2,275.1A185.35,185.35 0 0 1 511.3,275.9" stroke="#e4eff8"/>
<path d="M511.3,275.7A185.35,185.35 0 0 1 511.3,276.5" stroke="#e2edf7"/>
<path d="M511.3,276.4A185.35,185.35 0 0 1 511.4,277.2" stroke="#d3e4f3"/>
<path d="M511.4,277.0A185.35,185.35 0 0 1 511.4,277.8" stroke="#dceaf6"/>
<path d="M511.4,277.7A185.35,185.35 0 0 1 511.5,278.5" stroke="#ccdff1"/>
<path d="M511.5,278.3A185.35,185.35 0 0 1 511.5,279.1" stroke="#dceaf6"/>
<path d="M511.5,279.0A185.35,185.35 0 0 1 511.6,279.8" stroke="#d1e3f3"/>
<path d="M511.6,279.6A185.35,185.35 0 0 1 511.6,280.4" stroke="#dfebf7"/>
<path d="M511.6,280.3A185.35,185.35 0 0 1 511.7,281.1" stroke="#cce0f1"/>
<path d="M511.6,280.9A185.35,185.35 0 0 1 511.7,281.7" stroke="#9bc0e1"/>
<path d="M511.7,281.6A185.35,185.35 0 0 1 511.7,282.4" stroke="#d9e8f5"/>
<path d="M511.7,282.2A185.35,185.35 0 0 1 511.8,283.0" stroke="#b1cee8"/>
<path d="M511.7,282.9A185.35,185.35 0 0 1 511.8,283.7" stroke="#aac9e6"/>
<path d="M511.8,283.5A185.35,185.35 0 0 1 511.8,284.3" stroke="#a4c6e4"/>
<path d="M511.8,284.2A185.35,185.35 0 0 1 511.8,285.0" stroke="#c6dcef"/>
<path d="M511.8,284.8A185.35,185.35 0 0 1 511.8,285.5" stroke="#95bcdf"/>
<path d="M511.9,297.4A185.35,185.35 0 0 1 511.8,298.2" stroke="#c3daee"/>
<path d="M511.8,298.1A185.35,185.35 0 0 1 511.8,298.9" stroke="#d2e3f3"/>
<path d="M511.8,298.7A185.35,185.35 0 0 1 511.8,299.5" stroke="#d5e5f4"/>
<path d="M511.8,299.4A185.35,185.35 0 0 1 511.8,300.2" stroke="#d2e3f3"/>
<path d="M511.8,300.0A185.35,185.35 0 0 1 511.7,300.8" stroke="#c6dcef"/>
<path d="M511.7,300.7A185.35,185.35 0 0 1 511.7,301.5" stroke="#dce9f6"/>
<path d="M511.7,301.3A185.35,185.35 0 0 1 511.7,302.1" stroke="#cadef1"/>
<path d="M511.7,301.9A185.35,185.35 0 0 1 511.6,302.8" stroke="#d6e6f4"/>
<path d="M511.6,302.6A185.35,185.35 0 0 1 511.6,303.4" stroke="#ccdff1"/>
<path d="M511.6,303.2A185.35,185.35 0 0 1 511.5,304.0" stroke="#e0ecf7"/>
<path d="M511.5,303.9A185.35,185.35 0 0 1 511.5,304.7" stroke="#dae8f5"/>
<path d="M511.5,304.5A185.35,185.35 0 0 1 511.4,305.3" stroke="#bdd6ec"/>
<path d="M511.5,305.2A185.35,185.35 0 0 1 511.4,306.0" stroke="#d8e7f5"/>
<path d="M511.4,305.8A185.35,185.35 0 0 1 511.3,306.6" stroke="#e1edf7"/>
<path d="M511.4,306.5A185.35,185.35 0 0 1 511.3,307.3" stroke="#d7e6f4"/>
<path d="M511.3,307.1A185.35,185.35 0 0 1 511.2,307.9" stroke="#9fc2e2"/>
<path d="M511.2,307.8A185.35,185.35 0 0 1 511.2,308.6" stroke="#a5c6e4"/>
<path d="M511.2,308.4A185.35,185.35 0 0 1 511.1,309.2" stroke="#dae8f5"/>
<path d="M511.1,309.0A185.35,185.35 0 0 1 511.0,309.8" stroke="#e6f0f9"/>
<path d="M511.1,309.7A185.35,185.35 0 0 1 511.0,310.5" stroke="#accae7"/>
<path d="M511.0,310.3A185.35,185.35 0 0 1 510.9,311.1" stroke="#e3eef8"/>
<path d="M510.9,311.0A185.35,185.35 0 0 1 510.8,311.8" stroke="#e3eef8"/>
<path d="M510.9,311.6A185.35,185.35 0 0 1 510.8,312.4" stroke="#e2edf8"/>
<path d="M510.8,312.3A185.35,185.35 0 0 1 510.7,313.1" stroke="#e9f2fa"/>
<path d="M510.7,312.9A185.35,185.35 0 0 1 510.6,313.7" stroke="#dfebf7"/>
<path d="M510.6,313.5A185.35,185.35 0 0 1 510.5,314.3" stroke="#e7f1f9"/>
<path d="M510.6,314.2A185.35,185.35 0 0 1 510.5,315.0" stroke="#e2eef8"/>
<path d="M510.5,314.8A185.35,185.35 0 0 1 510.4,315.6" stroke="#e6f0f9"/>
<path d="M510.4,315.5A185.35,185.35 0 0 1 510.3,316.3" stroke="#dfecf7"/>
<path d="M510.3,316.1A185.35,185.35 0 0 1 510.2,316.9" stroke="#e6f0f9"/>
<path d="M510.2,316.8A185.35,185.35 0 0 1 510.1,317.6" stroke="#dae8f5"/>
<path d="M510.1,317.4A185.35,185.35 0 0 1 510.0,318.2" stroke="#e4eff8"/>
<path d="M510.1,318.0A185.35,185.35 0 0 1 509.9,318.8" stroke="#d6e6f4"/>
<path d="M510.0,318.7A185.35,185.35 0 0 1 509.8,319.5" stroke="#9dc1e2"/>
<path d="M509.9,319.3A185.35,185.35 0 0 1 509.7,320.1" stroke="#e0ecf7"/>
<path d="M509.8,320.0A185.35,185.35 0 0 1 509.6,320.8" stroke="#dbe9f6"/>
<path d="M509.7,320.6A185.35,185.35 0 0 1 509.5,321.4" stroke="#e3eef8"/>
<path d="M509.6,321.2A185.35,185.35 0 0 1 509.4,322.0" stroke="#e2edf8"/>
<path d="M509.5,321.9A185.35,185.35 0 0 1 509.3,322.7" stroke="#d6e5f4"/>
<path d="M509.4,322.5A185.35,185.35 0 0 1 509.2,323.3" stroke="#e2edf8"/>
<path d="M509.2,323.1A185.35,185.35 0 0 1 509.1,323.9" stroke="#deebf6"/>
<path d="M509.1,323.8A185.35,185.35 0 0 1 509.0,324.6" stroke="#deebf6"/>
<path d="M509.0,324.4A185.35,185.35 0 0 1 508.9,325.2" stroke="#e1ecf7"/>
<path d="M508.9,325.1A185.35,185.35 0 0 1 508.8,325.9" stroke="#a0c3e3"/>
<path d="M508.8,325.7A185.35,185.35 0 0 1 508.6,326.5" stroke="#95bcdf"/>
<path d="M508.7,326.3A185.35,185.35 0 0 1 508.5,327.0" stroke="#e3eef8"/>
<path d="M505.9,338.6A185.35,185.35 0 0 1 505.7,339.4" stroke="#c0d8ed"/>
<path d="M505.7,339.3A185.35,185.35 0 0 1 505.5,340.0" stroke="#ccdff1"/>
<path d="M505.5,339.9A185.35,185.35 0 0 1 505.3,340.7" stroke="#bfd7ed"/>
<path d="M505.4,340.5A185.35,185.35 0 0 1 505.2,341.3" stroke="#bbd5ec"/>
<path d="M505.2,341.1A185.35,185.35 0 0 1 505.0,341.9" stroke="#8bb5dc"/>
<path d="M505.0,341.8A185.35,185.35 0 0 1 504.8,342.6" stroke="#c7dcf0"/>
<path d="M504.9,342.4A185.35,185.35 0 0 1 504.6,343.2" stroke="#bad4eb"/>
<path d="M504.7,343.0A185.35,185.35 0 0 1 504.4,343.8" stroke="#cadef1"/>
<path d="M504.5,343.6A185.35,185.35 0 0 1 504.3,344.4" stroke="#cbdff1"/>
<path d="M504.3,344.3A185.35,185.35 0 0 1 504.1,345.0" stroke="#d7e6f4"/>
<path d="M504.1,344.9A185.35,185.35 0 0 1 503.9,345.7" stroke="#d9e8f5"/>
<path d="M503.9,345.5A185.35,185.35 0 0 1 503.7,346.3" stroke="#93bade"/>
<path d="M503.7,346.1A185.35,185.35 0 0 1 503.5,346.9" stroke="#dbe9f6"/>
<path d="M503.6,346.8A185.35,185.35 0 0 1 503.3,347.5" stroke="#c9def0"/>
<path d="M503.4,347.4A185.35,185.35 0 0 1 503.1,348.2" stroke="#deebf6"/>
<path d="M503.2,348.0A185.35,185.35 0 0 1 502.9,348.8" stroke="#d7e6f4"/>
<path d="M503.0,348.6A185.35,185.35 0 0 1 502.7,349.4" stroke="#deebf6"/>
<path d="M502.8,349.2A185.35,185.35 0 0 1 502.5,350.0" stroke="#cbdff1"/>
<path d="M502.6,349.9A185.35,185.35 0 0 1 502.3,350.6" stroke="#d1e3f3"/>
<path d="M502.4,350.5A185.35,185.35 0 0 1 502.1,351.2" stroke="#d0e2f2"/>
<path d="M502.1,351.1A185.35,185.35 0 0 1 501.9,351.9" stroke="#d2e3f3"/>
<path d="M501.9,351.7A185.35,185.35 0 0 1 501.7,352.5" stroke="#e3eef8"/>
<path d="M501.7,352.3A185.35,185.35 0 0 1 501.5,353.1" stroke="#b0cde8"/>
<path d="M501.5,352.9A185.35,185.35 0 0 1 501.2,353.7" stroke="#dae8f5"/>
<path d="M501.3,353.5A185.35,185.35 0 0 1 501.0,354.3" stroke="#d8e7f5"/>
<path d="M501.1,354.2A185.35,185.35 0 0 1 500.8,354.9" stroke="#dbe9f5"/>
<path d="M500.9,354.8A185.35,185.35 0 0 1 500.6,355.5" stroke="#e1ecf7"/>
<path d="M500.6,355.4A185.35,185.35 0 0 1 500.4,356.1" stroke="#e6f0f9"/>
<path d="M500.4,356.0A185.35,185.35 0 0 1 500.1,356.8" stroke="#e1edf7"/>
<path d="M500.2,356.6A185.35,185.35 0 0 1 499.9,357.4" stroke="#e9f2fa"/>
<path d="M500.0,357.2A185.35,185.35 0 0 1 499.7,358.0" stroke="#e7f0f9"/>
<path d="M499.7,357.8A185.35,185.35 0 0 1 499.4,358.6" stroke="#dfebf7"/>
<path d="M499.5,358.4A185.35,185.35 0 0 1 499.2,359.2" stroke="#e7f0f9"/>
<path d="M499.3,359.0A185.35,185.35 0 0 1 499.0,359.8" stroke="#e8f1f9"/>
<path d="M499.0,359.6A185.35,185.35 0 0 1 498.7,360.4" stroke="#e1edf7"/>
<path d="M498.8,360.2A185.35,185.35 0 0 1 498.5,361.0" stroke="#deebf6"/>
<path d="M498.5,360.8A185.35,185.35 0 0 1 498.2,361.6" stroke="#e3eef8"/>
<path d="M498.3,361.4A185.35,185.35 0 0 1 498.0,362.2" stroke="#eaf2fa"/>
<path d="M498.0,362.0A185.35,185.35 0 0 1 497.7,362.8" stroke="#e4eff8"/>
<path d="M497.8,362.6A185.35,185.35 0 0 1 497.5,363.4" stroke="#e3eef8"/>
<path d="M497.5,363.2A185.35,185.35 0 0 1 497.2,364.0" stroke="#e2edf8"/>
<path d="M497.3,363.8A185.35,185.35 0 0 1 497.0,364.6" stroke="#eaf2fa"/>
<path d="M497.0,364.4A185.35,185.35 0 0 1 496.7,365.2" stroke="#eaf2fa"/>
<path d="M496.8,365.0A185.35,185.35 0 0 1 496.5,365.8" stroke="#b3cfe9"/>
<path d="M496.5,365.6A185.35,185.35 0 0 1 496.2,366.4" stroke="#edf4fb"/>
<path d="M496.3,366.2A185.35,185.35 0 0 1 495.9,367.0" stroke="#e7f1f9"/>
<path d="M496.0,366.8A185.35,185.35 0 0 1 495.7,367.6" stroke="#ebf3fa"/>
<path d="M495.7,367.4A185.35,185.35 0 0 1 495.4,368.2" stroke="#dbe9f6"/>
<path d="M495.5,368.0A185.35,185.35 0 0 1 495.1,368.8" stroke="#ecf3fa"/>
<path d="M495.2,368.6A185.35,185.35 0 0 1 494.9,369.3" stroke="#edf4fb"/>
<path d="M494.9,369.2A185.35,185.35 0 0 1 494.6,369.9" stroke="#f0f6fc"/>
<path d="M494.7,369.8A185.35,185.35 0 0 1 494.3,370.5" stroke="#dbe9f6"/>
<path d="M494.4,370.4A185.35,185.35 0 0 1 494.0,371.1" stroke="#edf4fb"/>
<path d="M494.1,371.0A185.35,185.35 0 0 1 493.7,371.7" stroke="#edf4fb"/>
<path d="M493.8,371.6A185.35,185.35 0 0 1 493.5,372.3" stroke="#eaf2fa"/>
<path d="M493.5,372.1A185.35,185.35 0 0 1 493.2,372.9" stroke="#edf4fb"/>
<path d="M493.3,372.7A185.35,185.35 0 0 1 492.9,373.5" stroke="#e9f2fa"/>
<path d="M493.0,373.3A185.35,185.35 0 0 1 492.6,374.0" stroke="#e3eef8"/>
<path d="M492.7,373.9A185.35,185.35 0 0 1 492.3,374.6" stroke="#c2d9ee"/>
<path d="M492.4,374.5A185.35,185.35 0 0 1 492.0,375.2" stroke="#e0ecf7"/>
<path d="M492.1,375.1A185.35,185.35 0 0 1 491.7,375.8" stroke="#e5eff9"/>
<path d="M491.8,375.6A185.35,185.35 0 0 1 491.4,376.4" stroke="#eaf2fa"/>
<path d="M491.5,376.2A185.35,185.35 0 0 1 491.1,376.9" stroke="#e0ecf7"/>
<path d="M491.2,376.8A185.35,185.35 0 0 1 490.8,377.5" stroke="#ddeaf6"/>
<path d="M490.9,377.4A185.35,185.35 0 0 1 490.5,378.1" stroke="#d6e6f4"/>
<path d="M490.6,377.9A185.35,185.35 0 0 1 490.2,378.7" stroke="#e1edf7"/>
<path d="M490.3,378.5A185.35,185.35 0 0 1 489.9,379.2" stroke="#e4eff8"/>
<path d="M490.0,379.1A185.35,185.35 0 0 1 489.6,379.8" stroke="#dce9f6"/>
<path d="M489.7,379.7A185.35,185.35 0 0 1 489.3,380.4" stroke="#e2edf8"/>
<path d="M489.4,380.2A185.35,185.35 0 0 1 489.0,380.9" stroke="#e3eef8"/>
<path d="M489.1,380.8A185.35,185.35 0 0 1 488.7,381.5" stroke="#cce0f1"/>
<path d="M488.8,381.4A185.35,185.35 0 0 1 488.4,382.1" stroke="#ddeaf6"/>
<path d="M488.4,381.9A185.35,185.35 0 0 1 488.0,382.7" stroke="#d5e5f4"/>
<path d="M488.1,382.5A185.35,185.35 0 0 1 487.7,383.2" stroke="#cde0f2"/>
<path d="M487.8,383.1A185.35,185.35 0 0 1 487.4,383.8" stroke="#dae8f5"/>
<path d="M487.5,383.6A185.35,185.35 0 0 1 487.1,384.3" stroke="#e0ecf7"/>
<path d="M487.2,384.2A185.35,185.35 0 0 1 486.7,384.9" stroke="#cee0f2"/>
<path d="M486.8,384.8A185.35,185.35 0 0 1 486.4,385.5" stroke="#e1ecf7"/>
<path d="M486.5,385.3A185.35,185.35 0 0 1 486.1,386.0" stroke="#cde0f2"/>
<path d="M486.2,385.9A185.35,185.35 0 0 1 485.8,386.6" stroke="#cde0f1"/>
<path d="M485.8,386.5A185.35,185.35 0 0 1 485.4,387.1" stroke="#d9e8f5"/>
<path d="M485.5,387.0A185.35,185.35 0 0 1 485.1,387.7" stroke="#b5d1ea"/>
<path d="M485.2,387.6A185.35,185.35 0 0 1 484.7,388.3" stroke="#c8ddf0"/>
<path d="M484.8,388.1A185.35,185.35 0 0 1 484.4,388.8" stroke="#c2d9ee"/>
<path d="M484.5,388.7A185.35,185.35 0 0 1 484.1,389.4" stroke="#d4e4f3"/>
<path d="M484.2,389.2A185.35,185.35 0 0 1 483.7,389.9" stroke="#cde0f2"/>
<path d="M483.8,389.8A185.35,185.35 0 0 1 483.4,390.5" stroke="#c9def0"/>
<path d="M483.5,390.3A185.35,185.35 0 0 1 483.0,391.0" stroke="#c0d8ed"/>
<path d="M483.1,390.9A185.35,185.35 0 0 1 482.7,391.6" stroke="#d0e2f2"/>
<path d="M482.8,391.4A185.35,185.35 0 0 1 482.3,392.1" stroke="#d6e6f4"/>
<path d="M482.4,392.0A185.35,185.35 0 0 1 482.0,392.7" stroke="#cde0f1"/>
<path d="M482.1,392.5A185.35,185.35 0 0 1 481.6,393.2" stroke="#a3c5e4"/>
<path d="M481.7,393.1A185.35,185.35 0 0 1 481.3,393.7" stroke="#c7dcf0"/>
<path d="M481.4,393.6A185.35,185.35 0 0 1 480.9,394.3" stroke="#c5dbef"/>
<path d="M481.0,394.2A185.35,185.35 0 0 1 480.5,394.8" stroke="#9dc1e2"/>
<path d="M480.6,394.7A185.35,185.35 0 0 1 480.2,395.4" stroke="#aac9e6"/>
<path d="M480.3,395.2A185.35,185.35 0 0 1 479.8,395.9" stroke="#95bbdf"/>
<path d="M479.9,395.8A185.35,185.35 0 0 1 479.4,396.4" stroke="#9dc1e2"/>
<path d="M479.5,396.3A185.35,185.35 0 0 1 479.1,397.0" stroke="#9bc0e1"/>
<path d="M479.2,396.8A185.35,185.35 0 0 1 478.8,397.4" stroke="#a4c5e4"/>
<path d="M471.7,407.0A185.35,185.35 0 0 1 471.1,407.6" stroke="#d1e3f3"/>
<path d="M471.3,407.5A185.35,185.35 0 0 1 470.7,408.1" stroke="#79aad6"/>
<path d="M470.8,408.0A185.35,185.35 0 0 1 470.3,408.6" stroke="#c0d8ed"/>
<path d="M470.4,408.5A185.35,185.35 0 0 1 469.9,409.1" stroke="#bad4eb"/>
<path d="M470.0,409.0A185.35,185.35 0 0 1 469.5,409.6" stroke="#c5dbef"/>
<path d="M469.6,409.5A185.35,185.35 0 0 1 469.1,410.1" stroke="#c8ddf0"/>
<path d="M469.2,410.0A185.35,185.35 0 0 1 468.7,410.6" stroke="#cadef0"/>
<path d="M468.8,410.5A185.35,185.35 0 0 1 468.3,411.1" stroke="#dceaf6"/>
<path d="M468.4,411.0A185.35,185.35 0 0 1 467.8,411.6" stroke="#d5e5f4"/>
<path d="M467.9,411.5A185.35,185.35 0 0 1 467.4,412.1" stroke="#cbdff1"/>
<path d="M467.5,412.0A185.35,185.35 0 0 1 467.0,412.6" stroke="#e0ecf7"/>
<path d="M467.1,412.5A185.35,185.35 0 0 1 466.6,413.1" stroke="#cde0f1"/>
<path d="M466.7,413.0A185.35,185.35 0 0 1 466.1,413.6" stroke="#e1edf7"/>
<path d="M466.2,413.5A185.35,185.35 0 0 1 465.7,414.1" stroke="#a8c8e5"/>
<path d="M465.8,414.0A185.35,185.35 0 0 1 465.3,414.6" stroke="#d5e5f4"/>
<path d="M465.4,414.5A185.35,185.35 0 0 1 464.8,415.1" stroke="#d7e6f4"/>
<path d="M465.0,414.9A185.35,185.35 0 0 1 464.4,415.5" stroke="#cfe1f2"/>
<path d="M464.5,415.4A185.35,185.35 0 0 1 464.0,416.0" stroke="#dbe9f6"/>
<path d="M464.1,415.9A185.35,185.35 0 0 1 463.5,416.5" stroke="#e4eef8"/>
<path d="M463.6,416.4A185.35,185.35 0 0 1 463.1,417.0" stroke="#e9f2fa"/>
<path d="M463.2,416.9A185.35,185.35 0 0 1 462.7,417.5" stroke="#e6f0f9"/>
<path d="M462.8,417.3A185.35,185.35 0 0 1 462.2,417.9" stroke="#e5eff9"/>
<path d="M462.3,417.8A185.35,185.35 0 0 1 461.8,418.4" stroke="#deebf6"/>
<path d="M461.9,418.3A185.35,185.35 0 0 1 461.3,418.9" stroke="#e0ecf7"/>
<path d="M461.4,418.8A185.35,185.35 0 0 1 460.9,419.4" stroke="#ebf3fa"/>
<path d="M461.0,419.2A185.35,185.35 0 0 1 460.4,419.8" stroke="#e6f0f9"/>
<path d="M460.5,419.7A185.35,185.35 0 0 1 460.0,420.3" stroke="#e7f0f9"/>
<path d="M460.1,420.2A185.35,185.35 0 0 1 459.5,420.8" stroke="#e5eff8"/>
<path d="M459.6,420.7A185.35,185.35 0 0 1 459.1,421.2" stroke="#a7c8e5"/>
<path d="M459.2,421.1A185.35,185.35 0 0 1 458.6,421.7" stroke="#d3e4f3"/>
<path d="M458.7,421.6A185.35,185.35 0 0 1 458.2,422.2" stroke="#e3eef8"/>
<path d="M458.3,422.0A185.35,185.35 0 0 1 457.7,422.6" stroke="#edf4fb"/>
<path d="M457.8,422.5A185.35,185.35 0 0 1 457.2,423.1" stroke="#e8f1f9"/>
<path d="M457.4,423.0A185.35,185.35 0 0 1 456.8,423.5" stroke="#ecf3fa"/>
<path d="M456.9,423.4A185.35,185.35 0 0 1 456.3,424.0" stroke="#eaf3fa"/>
<path d="M456.4,423.9A185.35,185.35 0 0 1 455.9,424.4" stroke="#ecf4fb"/>
<path d="M456.0,424.3A185.35,185.35 0 0 1 455.4,424.9" stroke="#ecf4fb"/>
<path d="M455.5,424.8A185.35,185.35 0 0 1 454.9,425.4" stroke="#e9f2fa"/>
<path d="M455.0,425.2A185.35,185.35 0 0 1 454.4,425.8" stroke="#eff6fb"/>
<path d="M454.6,425.7A185.35,185.35 0 0 1 454.0,426.2" stroke="#f0f6fc"/>
<path d="M454.1,426.1A185.35,185.35 0 0 1 453.5,426.7" stroke="#ecf4fb"/>
<path d="M453.6,426.6A185.35,185.35 0 0 1 453.0,427.1" stroke="#edf4fb"/>
<path d="M453.1,427.0A185.35,185.35 0 0 1 452.6,427.6" stroke="#f0f6fc"/>
<path d="M452.7,427.5A185.35,185.35 0 0 1 452.1,428.0" stroke="#b8d2eb"/>
<path d="M452.2,427.9A185.35,185.35 0 0 1 451.6,428.5" stroke="#f3f8fc"/>
<path d="M451.7,428.4A185.35,185.35 0 0 1 451.1,428.9" stroke="#f2f7fc"/>
<path d="M451.2,428.8A185.35,185.35 0 0 1 450.6,429.3" stroke="#f1f7fc"/>
<path d="M450.8,429.2A185.35,185.35 0 0 1 450.1,429.8" stroke="#eff6fc"/>
<path d="M450.3,429.7A185.35,185.35 0 0 1 449.7,430.2" stroke="#f2f7fc"/>
<path d="M449.8,430.1A185.35,185.35 0 0 1 449.2,430.6" stroke="#f0f6fc"/>
<path d="M449.3,430.5A185.35,185.35 0 0 1 448.7,431.1" stroke="#f1f7fc"/>
<path d="M448.8,431.0A185.35,185.35 0 0 1 448.2,431.5" stroke="#f2f7fc"/>
<path d="M448.3,431.4A185.35,185.35 0 0 1 447.7,431.9" stroke="#eff6fb"/>
<path d="M447.8,431.8A185.35,185.35 0 0 1 447.2,432.3" stroke="#eff6fb"/>
<path d="M447.3,432.2A185.35,185.35 0 0 1 446.7,432.8" stroke="#f0f6fc"/>
<path d="M446.8,432.7A185.35,185.35 0 0 1 446.2,433.2" stroke="#eff5fb"/>
<path d="M446.3,433.1A185.35,185.35 0 0 1 445.7,433.6" stroke="#eef5fb"/>
<path d="M445.8,433.5A185.35,185.35 0 0 1 445.2,434.0" stroke="#eff5fb"/>
<path d="M445.3,433.9A185.35,185.35 0 0 1 444.7,434.4" stroke="#edf4fb"/>
<path d="M444.8,434.3A185.35,185.35 0 0 1 444.2,434.8" stroke="#e7f1f9"/>
<path d="M444.3,434.7A185.35,185.35 0 0 1 443.7,435.3" stroke="#edf4fb"/>
<path d="M443.8,435.2A185.35,185.35 0 0 1 443.2,435.7" stroke="#eaf2fa"/>
<path d="M443.3,435.6A185.35,185.35 0 0 1 442.7,436.1" stroke="#ebf3fa"/>
<path d="M442.8,436.0A185.35,185.35 0 0 1 442.2,436.5" stroke="#e9f2fa"/>
<path d="M442.3,436.4A185.35,185.35 0 0 1 441.7,436.9" stroke="#e0ecf7"/>
<path d="M441.8,436.8A185.35,185.35 0 0 1 441.2,437.3" stroke="#dbe9f6"/>
<path d="M441.3,437.2A185.35,185.35 0 0 1 440.7,437.7" stroke="#e3eef8"/>
<path d="M440.8,437.6A185.35,185.35 0 0 1 440.2,438.1" stroke="#dbe9f5"/>
<path d="M440.3,438.0A185.35,185.35 0 0 1 439.6,438.5" stroke="#e0ecf7"/>
<path d="M439.8,438.4A185.35,185.35 0 0 1 439.1,438.9" stroke="#dbe9f6"/>
<path d="M439.3,438.8A185.35,185.35 0 0 1 438.6,439.3" stroke="#e3eef8"/>
<path d="M438.7,439.2A185.35,185.35 0 0 1 438.1,439.7" stroke="#e5eff9"/>
<path d="M438.2,439.6A185.35,185.35 0 0 1 437.6,440.1" stroke="#d6e6f4"/>
<path d="M437.7,440.0A185.35,185.35 0 0 1 437.0,440.4" stroke="#dbe9f6"/>
<path d="M437.2,440.4A185.35,185.35 0 0 1 436.5,440.8" stroke="#dce9f6"/>
<path d="M436.7,440.7A185.35,185.35 0 0 1 436.0,441.2" stroke="#d9e8f5"/>
<path d="M436.1,441.1A185.35,185.35 0 0 1 435.5,441.6" stroke="#d6e6f4"/>
<path d="M435.6,441.5A185.35,185.35 0 0 1 434.9,442.0" stroke="#dce9f6"/>
<path d="M435.1,441.9A185.35,185.35 0 0 1 434.4,442.4" stroke="#d4e5f4"/>
<path d="M434.6,442.3A185.35,185.35 0 0 1 433.9,442.7" stroke="#deebf6"/>
<path d="M434.0,442.6A185.35,185.35 0 0 1 433.4,443.1" stroke="#cee1f2"/>
<path d="M433.5,443.0A185.35,185.35 0 0 1 432.8,443.5" stroke="#d0e2f2"/>
<path d="M433.0,443.4A185.35,185.35 0 0 1 432.3,443.9" stroke="#cfe1f2"/>
<path d="M432.4,443.8A185.35,185.35 0 0 1 431.8,444.2" stroke="#d3e4f3"/>
<path d="M431.9,444.1A185.35,185.35 0 0 1 431.2,444.6" stroke="#9cc0e1"/>
<path d="M431.4,444.5A185.35,185.35 0 0 1 430.7,445.0" stroke="#c2d9ee"/>
<path d="M430.8,444.9A185.35,185.35 0 0 1 430.1,445.3" stroke="#c5dbef"/>
<path d="M430.3,445.2A185.35,185.35 0 0 1 429.6,445.7" stroke="#cbdff1"/>
<path d="M429.7,445.6A185.35,185.35 0 0 1 429.1,446.1" stroke="#bdd6ec"/>
<path d="M429.2,446.0A185.35,185.35 0 0 1 428.5,446.4" stroke="#b6d1ea"/>
<path d="M428.7,446.3A185.35,185.35 0 0 1 428.0,446.8" stroke="#cde0f2"/>
<path d="M428.1,446.7A185.35,185.35 0 0 1 427.4,447.1" stroke="#a7c7e5"/>
<path d="M427.6,447.0A185.35,185.35 0 0 1 426.9,447.5" stroke="#b6d1ea"/>
<path d="M427.0,447.4A185.35,185.35 0 0 1 426.3,447.8" stroke="#cfe1f2"/>
<path d="M426.5,447.7A185.35,185.35 0 0 1 425.8,448.2" stroke="#c8ddf0"/>
<path d="M425.9,448.1A185.35,185.35 0 0 1 425.2,448.5" stroke="#8db7dc"/>
<path d="M425.4,448.4A185.35,185.35 0 0 1 424.7,448.9" stroke="#c9def0"/>
<path d="M424.8,448.8A185.35,185.35 0 0 1 424.1,449.2" stroke="#a7c8e5"/>
<path d="M424.3,449.1A185.35,185.35 0 0 1 423.6,449.6" stroke="#a8c8e5"/>
<path d="M423.7,449.5A185.35,185.35 0 0 1 423.2,449.8" stroke="#90b8dd"/>
<path d="M412.5,455.9A185.35,185.35 0 0 1 411.8,456.2" stroke="#c1d8ee"/>
<path d="M411.9,456.2A185.35,185.35 0 0 1 411.2,456.5" stroke="#cbdff1"/>
<path d="M411.3,456.5A185.35,185.35 0 0 1 410.6,456.8" stroke="#c2d9ee"/>
<path d="M410.7,456.8A185.35,185.35 0 0 1 410.0,457.1" stroke="#cfe2f2"/>
<path d="M410.2,457.0A185.35,185.35 0 0 1 409.4,457.4" stroke="#9cc0e1"/>
<path d="M409.6,457.3A185.35,185.35 0 0 1 408.9,457.7" stroke="#92bade"/>
<path d="M409.0,457.6A185.35,185.35 0 0 1 408.3,458.0" stroke="#c4daef"/>
<path d="M408.4,457.9A185.35,185.35 0 0 1 407.7,458.3" stroke="#c9ddf0"/>
<path d="M407.8,458.2A185.35,185.35 0 0 1 407.1,458.6" stroke="#cee1f2"/>
<path d="M407.2,458.5A185.35,185.35 0 0 1 406.5,458.8" stroke="#aac9e6"/>
<path d="M406.7,458.8A185.35,185.35 0 0 1 405.9,459.1" stroke="#d0e2f2"/>
<path d="M406.1,459.0A185.35,185.35 0 0 1 405.3,459.4" stroke="#cbdff1"/>
<path d="M405.5,459.3A185.35,185.35 0 0 1 404.7,459.7" stroke="#d5e5f4"/>
<path d="M404.9,459.6A185.35,185.35 0 0 1 404.2,459.9" stroke="#bad4eb"/>
<path d="M404.3,459.9A185.35,185.35 0 0 1 403.6,460.2" stroke="#ccdff1"/>
<path d="M403.7,460.1A185.35,185.35 0 0 1 403.0,460.5" stroke="#d4e5f4"/>
<path d="M403.1,460.4A185.35,185.35 0 0 1 402.4,460.7" stroke="#d1e3f3"/>
<path d="M402.5,460.7A185.35,185.35 0 0 1 401.8,461.0" stroke="#c3daee"/>
<path d="M401.9,460.9A185.35,185.35 0 0 1 401.2,461.3" stroke="#d0e2f2"/>
<path d="M401.3,461.2A185.35,185.35 0 0 1 400.6,461.5" stroke="#cfe2f2"/>
<path d="M400.7,461.5A185.35,185.35 0 0 1 400.0,461.8" stroke="#c9ddf0"/>
<path d="M400.2,461.7A185.35,185.35 0 0 1 399.4,462.1" stroke="#cadef0"/>
<path d="M399.6,462.0A185.35,185.35 0 0 1 398.8,462.3" stroke="#d7e6f4"/>
<path d="M399.0,462.2A185.35,185.35 0 0 1 398.2,462.6" stroke="#d6e6f4"/>
<path d="M398.4,462.5A185.35,185.35 0 0 1 397.6,462.8" stroke="#e1edf7"/>
<path d="M397.8,462.7A185.35,185.35 0 0 1 397.0,463.1" stroke="#dbe9f6"/>
<path d="M397.2,463.0A185.35,185.35 0 0 1 396.4,463.3" stroke="#dbe9f6"/>
<path d="M396.6,463.2A185.35,185.35 0 0 1 395.8,463.5" stroke="#d9e8f5"/>
<path d="M396.0,463.5A185.35,185.35 0 0 1 395.2,463.8" stroke="#d4e4f3"/>
<path d="M395.3,463.7A185.35,185.35 0 0 1 394.6,464.0" stroke="#cee1f2"/>
<path d="M394.7,464.0A185.35,185.35 0 0 1 394.0,464.3" stroke="#e2edf8"/>
<path d="M394.1,464.2A185.35,185.35 0 0 1 393.4,464.5" stroke="#cfe1f2"/>
<path d="M393.5,464.4A185.35,185.35 0 0 1 392.8,464.7" stroke="#e0ecf7"/>
<path d="M392.9,464.7A185.35,185.35 0 0 1 392.2,465.0" stroke="#c3daee"/>
<path d="M392.3,464.9A185.35,185.35 0 0 1 391.6,465.2" stroke="#cfe1f2"/>
<path d="M391.7,465.1A185.35,185.35 0 0 1 391.0,465.4" stroke="#dfebf7"/>
<path d="M391.1,465.4A185.35,185.35 0 0 1 390.3,465.6" stroke="#e1edf7"/>
<path d="M390.5,465.6A185.35,185.35 0 0 1 389.7,465.9" stroke="#d5e5f4"/>
<path d="M389.9,465.8A185.35,185.35 0 0 1 389.1,466.1" stroke="#e2eef8"/>
<path d="M389.3,466.0A185.35,185.35 0 0 1 388.5,466.3" stroke="#d7e6f4"/>
<path d="M388.7,466.3A185.35,185.35 0 0 1 387.9,466.5" stroke="#d6e6f4"/>
<path d="M388.0,466.5A185.35,185.35 0 0 1 387.3,466.7" stroke="#d9e8f5"/>
<path d="M387.4,466.7A185.35,185.35 0 0 1 386.7,466.9" stroke="#d8e7f5"/>
<path d="M386.8,466.9A185.35,185.35 0 0 1 386.0,467.2" stroke="#dbe9f5"/>
<path d="M386.2,467.1A185.35,185.35 0 0 1 385.4,467.4" stroke="#deebf6"/>
<path d="M385.6,467.3A185.35,185.35 0 0 1 384.8,467.6" stroke="#deebf6"/>
<path d="M385.0,467.5A185.35,185.35 0 0 1 384.2,467.8" stroke="#ddeaf6"/>
<path d="M384.4,467.7A185.35,185.35 0 0 1 383.6,468.0" stroke="#e7f0f9"/>
<path d="M383.7,467.9A185.35,185.35 0 0 1 383.0,468.2" stroke="#e9f2fa"/>
<path d="M383.1,468.1A185.35,185.35 0 0 1 382.3,468.4" stroke="#eaf3fa"/>
<path d="M382.5,468.3A185.35,185.35 0 0 1 381.7,468.6" stroke="#e9f2fa"/>
<path d="M381.9,468.5A185.35,185.35 0 0 1 381.1,468.8" stroke="#e5eff8"/>
<path d="M381.3,468.7A185.35,185.35 0 0 1 380.5,468.9" stroke="#a5c6e4"/>
<path d="M380.6,468.9A185.35,185.35 0 0 1 379.9,469.1" stroke="#e5eff8"/>
<path d="M380.0,469.1A185.35,185.35 0 0 1 379.2,469.3" stroke="#e2edf8"/>
<path d="M379.4,469.3A185.35,185.35 0 0 1 378.6,469.5" stroke="#e5eff9"/>
<path d="M378.8,469.5A185.35,185.35 0 0 1 378.0,469.7" stroke="#6498cc"/>
<path d="M378.1,469.6A185.35,185.35 0 0 1 377.4,469.9" stroke="#6a9cce"/>
<path d="M377.5,469.8A185.35,185.35 0 0 1 376.7,470.0" stroke="#deebf7"/>
<path d="M376.9,470.0A185.35,185.35 0 0 1 376.1,470.2" stroke="#e3eef8"/>
<path d="M376.3,470.2A185.35,185.35 0 0 1 375.5,470.4" stroke="#dfebf7"/>
<path d="M375.6,470.3A185.35,185.35 0 0 1 374.9,470.6" stroke="#9dc1e2"/>
<path d="M375.0,470.5A185.35,185.35 0 0 1 374.2,470.7" stroke="#dae8f5"/>
<path d="M374.4,470.7A185.35,185.35 0 0 1 373.6,470.9" stroke="#9bc0e1"/>
<path d="M373.8,470.9A185.35,185.35 0 0 1 373.0,471.1" stroke="#a6c7e5"/>
<path d="M373.1,471.0A185.35,185.35 0 0 1 372.3,471.2" stroke="#d3e4f3"/>
<path d="M372.5,471.2A185.35,185.35 0 0 1 371.7,471.4" stroke="#dae8f5"/>
<path d="M371.9,471.3A185.35,185.35 0 0 1 371.1,471.5" stroke="#d6e6f4"/>
<path d="M371.2,471.5A185.35,185.35 0 0 1 370.4,471.7" stroke="#dbe9f6"/>
<path d="M370.6,471.7A185.35,185.35 0 0 1 369.8,471.8" stroke="#d8e7f5"/>
<path d="M370.0,471.8A185.35,185.35 0 0 1 369.2,472.0" stroke="#dbe9f5"/>
<path d="M369.3,472.0A185.35,185.35 0 0 1 368.5,472.1" stroke="#c9def0"/>
<path d="M368.7,472.1A185.35,185.35 0 0 1 367.9,472.3" stroke="#cee1f2"/>
<path d="M368.1,472.3A185.35,185.35 0 0 1 367.3,472.4" stroke="#d9e8f5"/>
<path d="M367.4,472.4A185.35,185.35 0 0 1 366.6,472.6" stroke="#d2e4f3"/>
<path d="M366.8,472.5A185.35,185.35 0 0 1 366.0,472.7" stroke="#8db6dc"/>
<path d="M366.2,472.7A185.35,185.35 0 0 1 365.4,472.8" stroke="#cadef1"/>
<path d="M365.5,472.8A185.35,185.35 0 0 1 364.7,473.0" stroke="#dfebf7"/>
<path d="M364.9,472.9A185.35,185.35 0 0 1 364.1,473.1" stroke="#dfecf7"/>
<path d="M364.3,473.1A185.35,185.35 0 0 1 363.5,473.2" stroke="#c5dbef"/>
<path d="M363.6,473.2A185.35,185.35 0 0 1 362.8,473.4" stroke="#cce0f1"/>
<path d="M363.0,473.3A185.35,185.35 0 0 1 362.2,473.5" stroke="#c2d9ee"/>
<path d="M362.4,473.5A185.35,185.35 0 0 1 361.6,473.6" stroke="#cbdff1"/>
<path d="M361.7,473.6A185.35,185.35 0 0 1 360.9,473.7" stroke="#c7dcf0"/>
<path d="M361.1,473.7A185.35,185.35 0 0 1 360.3,473.9" stroke="#c5dbef"/>
<path d="M360.4,473.8A185.35,185.35 0 0 1 359.6,474.0" stroke="#c4daef"/>
<path d="M359.8,474.0A185.35,185.35 0 0 1 359.0,474.1" stroke="#bcd5ec"/>
<path d="M359.2,474.1A185.35,185.35 0 0 1 358.4,474.2" stroke="#93bade"/>
<path d="M358.5,474.2A185.35,185.35 0 0 1 357.7,474.3" stroke="#aecce7"/>
<path d="M357.9,474.3A185.35,185.35 0 0 1 357.1,474.4" stroke="#cadef0"/>
<path d="M357.2,474.4A185.35,185.35 0 0 1 356.4,474.5" stroke="#afcde8"/>
<path d="M356.6,474.5A185.35,185.35 0 0 1 355.8,474.6" stroke="#cbdff1"/>
<path d="M356.0,474.6A185.35,185.35 0 0 1 355.1,474.7" stroke="#c1d8ee"/>
<path d="M355.3,474.7A185.35,185.35 0 0 1 354.5,474.8" stroke="#bed7ed"/>
<path d="M354.7,474.8A185.35,185.35 0 0 1 353.9,474.9" stroke="#679acd"/>
<path d="M354.0,474.9A185.35,185.35 0 0 1 353.2,475.0" stroke="#d0e2f2"/>
<path d="M353.4,475.0A185.35,185.35 0 0 1 352.6,475.1" stroke="#9fc2e2"/>
<path d="M352.7,475.1A185.35,185.35 0 0 1 351.9,475.2" stroke="#96bcdf"/>
<path d="M352.1,475.2A185.35,185.35 0 0 1 351.3,475.3" stroke="#cfe1f2"/>
<path d="M351.4,475.3A185.35,185.35 0 0 1 350.6,475.4" stroke="#aac9e6"/>
<path d="M350.8,475.4A185.35,185.35 0 0 1 350.0,475.5" stroke="#8db6dc"/>
<path d="M350.2,475.4A185.35,185.35 0 0 1 349.4,475.5" stroke="#b5d1ea"/>
<path d="M349.5,475.5A185.35,185.35 0 0 1 348.7,475.6" stroke="#a4c5e4"/>
<path d="M348.9,475.6A185.35,185.35 0 0 1 348.2,475.7" stroke="#adcbe7"/>
<path d="M336.6,476.7A185.35,185.35 0 0 1 335.8,476.7" stroke="#d4e4f3"/>
<path d="M336.0,476.7A185.35,185.35 0 0 1 335.2,476.8" stroke="#85b1da"/>
<path d="M335.3,476.7A185.35,185.35 0 0 1 334.5,476.8" stroke="#adcbe7"/>
<path d="M334.7,476.8A185.35,185.35 0 0 1 333.9,476.8" stroke="#deebf6"/>
<path d="M334.0,476.8A185.35,185.35 0 0 1 333.2,476.8" stroke="#a8c8e5"/>
<path d="M333.4,476.8A185.35,185.35 0 0 1 332.6,476.9" stroke="#d4e5f4"/>
<path d="M332.7,476.8A185.35,185.35 0 0 1 331.9,476.9" stroke="#9ec2e2"/>
<path d="M332.1,476.9A185.35,185.35 0 0 1 331.3,476.9" stroke="#d5e5f4"/>
<path d="M331.4,476.9A185.35,185.35 0 0 1 330.6,476.9" stroke="#d1e3f3"/>
<path d="M330.8,476.9A185.35,185.35 0 0 1 330.0,476.9" stroke="#d1e3f3"/>
<path d="M330.1,476.9A185.35,185.35 0 0 1 329.3,476.9" stroke="#b8d3eb"/>
<path d="M329.5,476.9A185.35,185.35 0 0 1 328.7,476.9" stroke="#b3cfe9"/>
<path d="M328.8,476.9A185.35,185.35 0 0 1 328.0,476.9" stroke="#d8e7f5"/>
<path d="M328.2,476.9A185.35,185.35 0 0 1 327.4,476.9" stroke="#d6e6f4"/>
<path d="M327.5,476.9A185.35,185.35 0 0 1 326.7,476.9" stroke="#e6f0f9"/>
<path d="M326.9,476.9A185.35,185.35 0 0 1 326.1,476.9" stroke="#ddeaf6"/>
<path d="M326.3,476.9A185.35,185.35 0 0 1 325.4,476.9" stroke="#dceaf6"/>
<path d="M325.6,476.9A185.35,185.35 0 0 1 324.8,476.9" stroke="#dbe9f5"/>
<path d="M325.0,476.9A185.35,185.35 0 0 1 324.1,476.9" stroke="#deebf6"/>
<path d="M324.3,476.9A185.35,185.35 0 0 1 323.5,476.9" stroke="#e2edf8"/>
<path d="M323.7,476.9A185.35,185.35 0 0 1 322.8,476.9" stroke="#ddeaf6"/>
<path d="M323.0,476.9A185.35,185.35 0 0 1 322.2,476.9" stroke="#deebf6"/>
<path d="M322.4,476.9A185.35,185.35 0 0 1 321.5,476.9" stroke="#a7c7e5"/>
<path d="M321.7,476.9A185.35,185.35 0 0 1 320.9,476.9" stroke="#e0ecf7"/>
<path d="M321.1,476.9A185.35,185.35 0 0 1 320.3,476.8" stroke="#e6f0f9"/>
<path d="M320.4,476.8A185.35,185.35 0 0 1 319.6,476.8" stroke="#ddeaf6"/>
<path d="M319.8,476.8A185.35,185.35 0 0 1 319.0,476.8" stroke="#e3eef8"/>
<path d="M319.1,476.8A185.35,185.35 0 0 1 318.3,476.8" stroke="#e5eff9"/>
<path d="M318.5,476.8A185.35,185.35 0 0 1 317.7,476.7" stroke="#e6f0f9"/>
<path d="M317.8,476.7A185.35,185.35 0 0 1 317.0,476.7" stroke="#e3eef8"/>
<path d="M317.2,476.7A185.35,185.35 0 0 1 316.4,476.7" stroke="#e1ecf7"/>
<path d="M316.5,476.7A185.35,185.35 0 0 1 315.7,476.6" stroke="#ebf3fa"/>
<path d="M315.9,476.6A185.35,185.35 0 0 1 315.1,476.6" stroke="#e6f0f9"/>
<path d="M315.2,476.6A185.35,185.35 0 0 1 314.4,476.5" stroke="#e0ecf7"/>
<path d="M314.6,476.6A185.35,185.35 0 0 1 313.8,476.5" stroke="#ebf3fa"/>
<path d="M313.9,476.5A185.35,185.35 0 0 1 313.1,476.5" stroke="#e0ecf7"/>
<path d="M313.3,476.5A185.35,185.35 0 0 1 312.5,476.4" stroke="#e3eef8"/>
<path d="M312.6,476.4A185.35,185.35 0 0 1 311.8,476.4" stroke="#deebf6"/>
<path d="M312.0,476.4A185.35,185.35 0 0 1 311.2,476.3" stroke="#e0ecf7"/>
<path d="M311.4,476.3A185.35,185.35 0 0 1 310.5,476.3" stroke="#bdd6ec"/>
<path d="M310.7,476.3A185.35,185.35 0 0 1 309.9,476.2" stroke="#ddeaf6"/>
<path d="M310.1,476.2A185.35,185.35 0 0 1 309.3,476.1" stroke="#ddeaf6"/>
<path d="M309.4,476.2A185.35,185.35 0 0 1 308.6,476.1" stroke="#e5eff8"/>
<path d="M308.8,476.1A185.35,185.35 0 0 1 308.0,476.0" stroke="#ddeaf6"/>
<path d="M308.1,476.0A185.35,185.35 0 0 1 307.3,475.9" stroke="#e4eff8"/>
<path d="M307.5,476.0A185.35,185.35 0 0 1 306.7,475.9" stroke="#dae8f5"/>
<path d="M306.8,475.9A185.35,185.35 0 0 1 306.0,475.8" stroke="#a5c6e4"/>
<path d="M306.2,475.8A185.35,185.35 0 0 1 305.4,475.7" stroke="#d8e7f5"/>
<path d="M305.5,475.7A185.35,185.35 0 0 1 304.7,475.7" stroke="#dbe9f6"/>
<path d="M304.9,475.7A185.35,185.35 0 0 1 304.1,475.6" stroke="#d5e5f4"/>
<path d="M304.3,475.6A185.35,185.35 0 0 1 303.4,475.5" stroke="#dce9f6"/>
<path d="M303.6,475.5A185.35,185.35 0 0 1 302.8,475.4" stroke="#e1edf7"/>
<path d="M303.0,475.4A185.35,185.35 0 0 1 302.2,475.3" stroke="#e1edf7"/>
<path d="M302.3,475.4A185.35,185.35 0 0 1 301.5,475.2" stroke="#ddeaf6"/>
<path d="M301.7,475.3A185.35,185.35 0 0 1 300.9,475.2" stroke="#dce9f6"/>
<path d="M301.0,475.2A185.35,185.35 0 0 1 300.2,475.1" stroke="#9dc1e2"/>
<path d="M300.4,475.1A185.35,185.35 0 0 1 299.6,475.0" stroke="#dbe9f6"/>
<path d="M299.8,475.0A185.35,185.35 0 0 1 299.0,474.9" stroke="#d6e5f4"/>
<path d="M299.1,474.9A185.35,185.35 0 0 1 298.3,474.8" stroke="#e0ecf7"/>
<path d="M298.5,474.8A185.35,185.35 0 0 1 297.7,474.7" stroke="#dce9f6"/>
<path d="M297.8,474.7A185.35,185.35 0 0 1 297.0,474.6" stroke="#a1c3e3"/>
<path d="M297.2,474.6A185.35,185.35 0 0 1 296.4,474.5" stroke="#d0e2f2"/>
<path d="M296.5,474.5A185.35,185.35 0 0 1 295.8,474.4" stroke="#d6e6f4"/>
<path d="M295.9,474.4A185.35,185.35 0 0 1 295.1,474.3" stroke="#d1e3f3"/>
<path d="M295.3,474.3A185.35,185.35 0 0 1 294.5,474.1" stroke="#cde0f2"/>
<path d="M294.6,474.2A185.35,185.35 0 0 1 293.8,474.0" stroke="#d0e2f2"/>
<path d="M294.0,474.1A185.35,185.35 0 0 1 293.2,473.9" stroke="#c4daef"/>
<path d="M293.4,473.9A185.35,185.35 0 0 1 292.6,473.8" stroke="#ccdff1"/>
<path d="M292.7,473.8A185.35,185.35 0 0 1 291.9,473.7" stroke="#d4e5f4"/>
<path d="M292.1,473.7A185.35,185.35 0 0 1 291.3,473.6" stroke="#d6e6f4"/>
<path d="M291.4,473.6A185.35,185.35 0 0 1 290.6,473.4" stroke="#8fb8dd"/>
<path d="M290.8,473.5A185.35,185.35 0 0 1 290.0,473.3" stroke="#d6e6f4"/>
<path d="M290.2,473.3A185.35,185.35 0 0 1 289.4,473.2" stroke="#c5dbef"/>
<path d="M289.5,473.2A185.35,185.35 0 0 1 288.7,473.0" stroke="#d0e2f2"/>
<path d="M288.9,473.1A185.35,185.35 0 0 1 288.1,472.9" stroke="#c1d8ee"/>
<path d="M288.3,472.9A185.35,185.35 0 0 1 287.5,472.8" stroke="#d2e3f3"/>
<path d="M287.6,472.8A185.35,185.35 0 0 1 286.8,472.6" stroke="#d8e7f5"/>
<path d="M287.0,472.7A185.35,185.35 0 0 1 286.2,472.5" stroke="#b8d3eb"/>
<path d="M286.4,472.5A185.35,185.35 0 0 1 285.6,472.4" stroke="#dae8f5"/>
<path d="M285.7,472.4A185.35,185.35 0 0 1 284.9,472.2" stroke="#cfe2f2"/>
<path d="M285.1,472.2A185.35,185.35 0 0 1 284.3,472.1" stroke="#b5d0ea"/>
<path d="M284.5,472.1A185.35,185.35 0 0 1 283.7,471.9" stroke="#d7e7f4"/>
<path d="M283.8,471.9A185.35,185.35 0 0 1 283.0,471.8" stroke="#bad4eb"/>
<path d="M283.2,471.8A185.35,185.35 0 0 1 282.4,471.6" stroke="#86b2da"/>
<path d="M282.6,471.6A185.35,185.35 0 0 1 281.8,471.5" stroke="#b3cfe9"/>
<path d="M281.9,471.5A185.35,185.35 0 0 1 281.2,471.3" stroke="#b6d1ea"/>
<path d="M281.3,471.3A185.35,185.35 0 0 1 280.5,471.1" stroke="#b9d3eb"/>
<path d="M280.7,471.2A185.35,185.35 0 0 1 279.9,471.0" stroke="#d0e2f2"/>
<path d="M280.1,471.0A185.35,185.35 0 0 1 279.3,470.8" stroke="#c9def0"/>
<path d="M279.4,470.8A185.35,185.35 0 0 1 278.6,470.6" stroke="#bad4eb"/>
<path d="M278.8,470.7A185.35,185.35 0 0 1 278.0,470.5" stroke="#c9ddf0"/>
<path d="M278.2,470.5A185.35,185.35 0 0 1 277.4,470.3" stroke="#6c9ecf"/>
<path d="M277.6,470.3A185.35,185.35 0 0 1 276.8,470.1" stroke="#7aaad6"/>
<path d="M276.9,470.2A185.35,185.35 0 0 1 276.1,470.0" stroke="#c7dcf0"/>
<path d="M276.3,470.0A185.35,185.35 0 0 1 275.5,469.8" stroke="#99bee0"/>
<path d="M275.7,469.8A185.35,185.35 0 0 1 274.9,469.6" stroke="#cadef0"/>
<path d="M275.1,469.6A185.35,185.35 0 0 1 274.3,469.4" stroke="#cbdff1"/>
<path d="M274.4,469.5A185.35,185.35 0 0 1 273.7,469.2" stroke="#97bde0"/>
<path d="M273.8,469.3A185.35,185.35 0 0 1 273.0,469.0" stroke="#b2cfe9"/>
<path d="M273.2,469.1A185.35,185.35 0 0 1 272.4,468.9" stroke="#97bde0"/>
<path d="M272.6,468.9A185.35,185.35 0 0 1 271.8,468.7" stroke="#a5c6e4"/>
<path d="M271.9,468.7A185.35,185.35 0 0 1 271.3,468.5" stroke="#7faed8"/>
<path d="M260.5,464.8A185.35,185.35 0 0 1 259.7,464.5" stroke="#b8d2eb"/>
<path d="M259.9,464.5A185.35,185.35 0 0 1 259.1,464.2" stroke="#a4c5e4"/>
<path d="M259.3,464.3A185.35,185.35 0 0 1 258.5,464.0" stroke="#c2d9ee"/>
<path d="M258.6,464.0A185.35,185.35 0 0 1 257.9,463.7" stroke="#cadef1"/>
<path d="M258.0,463.8A185.35,185.35 0 0 1 257.3,463.5" stroke="#c9ddf0"/>
<path d="M257.4,463.6A185.35,185.35 0 0 1 256.7,463.3" stroke="#c1d9ee"/>
<path d="M256.8,463.3A185.35,185.35 0 0 1 256.1,463.0" stroke="#accae7"/>
<path d="M256.2,463.1A185.35,185.35 0 0 1 255.5,462.8" stroke="#6598cc"/>
<path d="M255.6,462.8A185.35,185.35 0 0 1 254.9,462.5" stroke="#bfd7ed"/>
<path d="M255.0,462.6A185.35,185.35 0 0 1 254.3,462.2" stroke="#cadef1"/>
<path d="M254.4,462.3A185.35,185.35 0 0 1 253.7,462.0" stroke="#d3e4f3"/>
<path d="M253.8,462.1A185.35,185.35 0 0 1 253.1,461.7" stroke="#d1e3f3"/>
<path d="M253.2,461.8A185.35,185.35 0 0 1 252.5,461.5" stroke="#bcd5ec"/>
<path d="M252.6,461.5A185.35,185.35 0 0 1 251.9,461.2" stroke="#dce9f6"/>
<path d="M252.0,461.3A185.35,185.35 0 0 1 251.3,460.9" stroke="#84b0d9"/>
<path d="M251.4,461.0A185.35,185.35 0 0 1 250.7,460.7" stroke="#d9e7f5"/>
<path d="M250.8,460.7A185.35,185.35 0 0 1 250.1,460.4" stroke="#e1ecf7"/>
<path d="M250.2,460.5A185.35,185.35 0 0 1 249.5,460.1" stroke="#dae8f5"/>
<path d="M249.6,460.2A185.35,185.35 0 0 1 248.9,459.9" stroke="#e2edf8"/>
<path d="M249.0,459.9A185.35,185.35 0 0 1 248.3,459.6" stroke="#d7e6f4"/>
<path d="M248.4,459.7A185.35,185.35 0 0 1 247.7,459.3" stroke="#d9e8f5"/>
<path d="M247.8,459.4A185.35,185.35 0 0 1 247.1,459.0" stroke="#deebf7"/>
<path d="M247.2,459.1A185.35,185.35 0 0 1 246.5,458.8" stroke="#e0ecf7"/>
<path d="M246.7,458.8A185.35,185.35 0 0 1 245.9,458.5" stroke="#d2e3f3"/>
<path d="M246.1,458.5A185.35,185.35 0 0 1 245.3,458.2" stroke="#ccdff1"/>
<path d="M245.5,458.3A185.35,185.35 0 0 1 244.7,457.9" stroke="#d6e6f4"/>
<path d="M244.9,458.0A185.35,185.35 0 0 1 244.2,457.6" stroke="#deebf6"/>
<path d="M244.3,457.7A185.35,185.35 0 0 1 243.6,457.3" stroke="#d7e6f4"/>
<path d="M243.7,457.4A185.35,185.35 0 0 1 243.0,457.0" stroke="#d3e4f3"/>
<path d="M243.1,457.1A185.35,185.35 0 0 1 242.4,456.7" stroke="#accbe7"/>
<path d="M242.5,456.8A185.35,185.35 0 0 1 241.8,456.4" stroke="#ddeaf6"/>
<path d="M242.0,456.5A185.35,185.35 0 0 1 241.2,456.1" stroke="#e4eff8"/>
<path d="M241.4,456.2A185.35,185.35 0 0 1 240.7,455.8" stroke="#dfebf7"/>
<path d="M240.8,455.9A185.35,185.35 0 0 1 240.1,455.5" stroke="#d5e5f4"/>
<path d="M240.2,455.6A185.35,185.35 0 0 1 239.5,455.2" stroke="#e6f0f9"/>
<path d="M239.6,455.3A185.35,185.35 0 0 1 238.9,454.9" stroke="#deebf6"/>
<path d="M239.1,455.0A185.35,185.35 0 0 1 238.3,454.6" stroke="#e2edf8"/>
<path d="M238.5,454.7A185.35,185.35 0 0 1 237.8,454.3" stroke="#d9e7f5"/>
<path d="M237.9,454.4A185.35,185.35 0 0 1 237.2,454.0" stroke="#e5eff8"/>
<path d="M237.3,454.0A185.35,185.35 0 0 1 236.6,453.6" stroke="#b4d0e9"/>
<path d="M236.8,453.7A185.35,185.35 0 0 1 236.1,453.3" stroke="#e1ecf7"/>
<path d="M236.2,453.4A185.35,185.35 0 0 1 235.5,453.0" stroke="#e6f0f9"/>
<path d="M235.6,453.1A185.35,185.35 0 0 1 234.9,452.7" stroke="#dbe9f5"/>
<path d="M235.1,452.8A185.35,185.35 0 0 1 234.3,452.4" stroke="#e3eef8"/>
<path d="M234.5,452.4A185.35,185.35 0 0 1 233.8,452.0" stroke="#e2edf8"/>
<path d="M233.9,452.1A185.35,185.35 0 0 1 233.2,451.7" stroke="#e7f1f9"/>
<path d="M233.3,451.8A185.35,185.35 0 0 1 232.6,451.4" stroke="#d9e8f5"/>
<path d="M232.8,451.5A185.35,185.35 0 0 1 232.1,451.0" stroke="#e0ecf7"/>
<path d="M232.2,451.1A185.35,185.35 0 0 1 231.5,450.7" stroke="#4880bf"/>
<path d="M231.7,450.8A185.35,185.35 0 0 1 231.0,450.4" stroke="#90b9dd"/>
<path d="M231.1,450.5A185.35,185.35 0 0 1 230.4,450.0" stroke="#94bbdf"/>
<path d="M230.5,450.1A185.35,185.35 0 0 1 229.8,449.7" stroke="#8bb5dc"/>
<path d="M230.0,449.8A185.35,185.35 0 0 1 229.3,449.3" stroke="#aecce7"/>
<path d="M229.4,449.4A185.35,185.35 0 0 1 228.7,449.0" stroke="#eaf3fa"/>
<path d="M228.9,449.1A185.35,185.35 0 0 1 228.2,448.7" stroke="#e3eef8"/>
<path d="M228.3,448.7A185.35,185.35 0 0 1 227.6,448.3" stroke="#e2edf8"/>
<path d="M227.8,448.4A185.35,185.35 0 0 1 227.1,448.0" stroke="#e0ecf7"/>
<path d="M227.2,448.0A185.35,185.35 0 0 1 226.5,447.6" stroke="#ecf3fa"/>
<path d="M226.6,447.7A185.35,185.35 0 0 1 226.0,447.2" stroke="#e6f0f9"/>
<path d="M226.1,447.3A185.35,185.35 0 0 1 225.4,446.9" stroke="#e9f2fa"/>
<path d="M225.5,447.0A185.35,185.35 0 0 1 224.9,446.5" stroke="#e8f1f9"/>
<path d="M225.0,446.6A185.35,185.35 0 0 1 224.3,446.2" stroke="#e6f0f9"/>
<path d="M224.5,446.3A185.35,185.35 0 0 1 223.8,445.8" stroke="#ecf3fa"/>
<path d="M223.9,445.9A185.35,185.35 0 0 1 223.2,445.4" stroke="#e5eff8"/>
<path d="M223.4,445.5A185.35,185.35 0 0 1 222.7,445.1" stroke="#e4eff8"/>
<path d="M222.8,445.2A185.35,185.35 0 0 1 222.1,444.7" stroke="#e9f2fa"/>
<path d="M222.3,444.8A185.35,185.35 0 0 1 221.6,444.3" stroke="#e4eff8"/>
<path d="M221.7,444.4A185.35,185.35 0 0 1 221.1,444.0" stroke="#e9f1fa"/>
<path d="M221.2,444.1A185.35,185.35 0 0 1 220.5,443.6" stroke="#e4eef8"/>
<path d="M220.7,443.7A185.35,185.35 0 0 1 220.0,443.2" stroke="#e9f2fa"/>
<path d="M220.1,443.3A185.35,185.35 0 0 1 219.5,442.8" stroke="#e6f0f9"/>
<path d="M219.6,442.9A185.35,185.35 0 0 1 218.9,442.5" stroke="#e0ecf7"/>
<path d="M219.1,442.6A185.35,185.35 0 0 1 218.4,442.1" stroke="#dfebf7"/>
<path d="M218.5,442.2A185.35,185.35 0 0 1 217.9,441.7" stroke="#e9f2fa"/>
<path d="M218.0,441.8A185.35,185.35 0 0 1 217.3,441.3" stroke="#d9e8f5"/>
<path d="M217.5,441.4A185.35,185.35 0 0 1 216.8,440.9" stroke="#e4eef8"/>
<path d="M216.9,441.0A185.35,185.35 0 0 1 216.3,440.5" stroke="#dbe9f6"/>
<path d="M216.4,440.6A185.35,185.35 0 0 1 215.8,440.2" stroke="#b6d1ea"/>
<path d="M215.9,440.2A185.35,185.35 0 0 1 215.2,439.8" stroke="#c5dbef"/>
<path d="M215.4,439.9A185.35,185.35 0 0 1 214.7,439.4" stroke="#d0e2f2"/>
<path d="M214.8,439.5A185.35,185.35 0 0 1 214.2,439.0" stroke="#cfe1f2"/>
<path d="M214.3,439.1A185.35,185.35 0 0 1 213.7,438.6" stroke="#d1e2f3"/>
<path d="M213.8,438.7A185.35,185.35 0 0 1 213.1,438.2" stroke="#93bade"/>
<path d="M213.3,438.3A185.35,185.35 0 0 1 212.6,437.8" stroke="#dce9f6"/>
<path d="M212.8,437.9A185.35,185.35 0 0 1 212.1,437.4" stroke="#dbe9f6"/>
<path d="M212.2,437.5A185.35,185.35 0 0 1 211.6,437.0" stroke="#cbdff1"/>
<path d="M211.7,437.1A185.35,185.35 0 0 1 211.2,436.7" stroke="#dbe9f6"/>
<path d="M202.3,429.1A185.35,185.35 0 0 1 201.7,428.6" stroke="#aecce7"/>
<path d="M201.9,428.7A185.35,185.35 0 0 1 201.3,428.1" stroke="#bad4eb"/>
<path d="M201.4,428.3A185.35,185.35 0 0 1 200.8,427.7" stroke="#9fc2e2"/>
<path d="M200.9,427.8A185.35,185.35 0 0 1 200.3,427.3" stroke="#a5c6e4"/>
<path d="M200.4,427.4A185.35,185.35 0 0 1 199.8,426.8" stroke="#adcbe7"/>
<path d="M200.0,426.9A185.35,185.35 0 0 1 199.4,426.4" stroke="#b2cfe9"/>
<path d="M199.5,426.5A185.35,185.35 0 0 1 198.9,425.9" stroke="#cadef1"/>
<path d="M199.0,426.0A185.35,185.35 0 0 1 198.4,425.5" stroke="#ccdff1"/>
<path d="M198.5,425.6A185.35,185.35 0 0 1 198.0,425.0" stroke="#bfd7ed"/>
<path d="M198.1,425.2A185.35,185.35 0 0 1 197.5,424.6" stroke="#93bade"/>
<path d="M197.6,424.7A185.35,185.35 0 0 1 197.0,424.1" stroke="#abcae6"/>
<path d="M197.1,424.3A185.35,185.35 0 0 1 196.6,423.7" stroke="#c0d8ed"/>
<path d="M196.7,423.8A185.35,185.35 0 0 1 196.1,423.2" stroke="#d2e3f3"/>
<path d="M196.2,423.3A185.35,185.35 0 0 1 195.7,422.8" stroke="#cbdff1"/>
<path d="M195.8,422.9A185.35,185.35 0 0 1 195.2,422.3" stroke="#c9def0"/>
<path d="M195.3,422.4A185.35,185.35 0 0 1 194.7,421.9" stroke="#d4e5f4"/>
<path d="M194.9,422.0A185.35,185.35 0 0 1 194.3,421.4" stroke="#d9e7f5"/>
<path d="M194.4,421.5A185.35,185.35 0 0 1 193.8,420.9" stroke="#d6e6f4"/>
<path d="M193.9,421.1A185.35,185.35 0 0 1 193.4,420.5" stroke="#e1edf7"/>
<path d="M193.5,420.6A185.35,185.35 0 0 1 192.9,420.0" stroke="#cee1f2"/>
<path d="M193.0,420.1A185.35,185.35 0 0 1 192.5,419.5" stroke="#d7e6f4"/>
<path d="M192.6,419.7A185.35,185.35 0 0 1 192.0,419.1" stroke="#deebf6"/>
<path d="M192.2,419.2A185.35,185.35 0 0 1 191.6,418.6" stroke="#deebf7"/>
<path d="M191.7,418.7A185.35,185.35 0 0 1 191.2,418.1" stroke="#a6c7e5"/>
<path d="M191.3,418.2A185.35,185.35 0 0 1 190.7,417.7" stroke="#b9d3eb"/>
<path d="M190.8,417.8A185.35,185.35 0 0 1 190.3,417.2" stroke="#dceaf6"/>
<path d="M190.4,417.3A185.35,185.35 0 0 1 189.8,416.7" stroke="#e3eef8"/>
<path d="M189.9,416.8A185.35,185.35 0 0 1 189.4,416.2" stroke="#d2e3f3"/>
<path d="M189.5,416.3A185.35,185.35 0 0 1 189.0,415.7" stroke="#e3eef8"/>
<path d="M189.1,415.9A185.35,185.35 0 0 1 188.5,415.3" stroke="#dfebf7"/>
<path d="M188.6,415.4A185.35,185.35 0 0 1 188.1,414.8" stroke="#dbe9f5"/>
<path d="M188.2,414.9A185.35,185.35 0 0 1 187.7,414.3" stroke="#d8e7f5"/>
<path d="M187.8,414.4A185.35,185.35 0 0 1 187.2,413.8" stroke="#dae8f5"/>
<path d="M187.4,413.9A185.35,185.35 0 0 1 186.8,413.3" stroke="#dbe9f5"/>
<path d="M186.9,413.4A185.35,185.35 0 0 1 186.4,412.8" stroke="#dbe9f6"/>
<path d="M186.5,413.0A185.35,185.35 0 0 1 186.0,412.3" stroke="#dae8f5"/>
<path d="M186.1,412.5A185.35,185.35 0 0 1 185.6,411.9" stroke="#a3c5e4"/>
<path d="M185.7,412.0A185.35,185.35 0 0 1 185.1,411.4" stroke="#e2edf7"/>
<path d="M185.2,411.5A185.35,185.35 0 0 1 184.7,410.9" stroke="#ddeaf6"/>
<path d="M184.8,411.0A185.35,185.35 0 0 1 184.3,410.4" stroke="#e6f0f9"/>
<path d="M184.4,410.5A185.35,185.35 0 0 1 183.9,409.9" stroke="#e1edf7"/>
<path d="M184.0,410.0A185.35,185.35 0 0 1 183.5,409.4" stroke="#e8f1f9"/>
<path d="M183.6,409.5A185.35,185.35 0 0 1 183.1,408.9" stroke="#e8f1f9"/>
<path d="M183.2,409.0A185.35,185.35 0 0 1 182.7,408.4" stroke="#ebf3fa"/>
<path d="M182.8,408.5A185.35,185.35 0 0 1 182.3,407.9" stroke="#e9f1f9"/>
<path d="M182.4,408.0A185.35,185.35 0 0 1 181.8,407.4" stroke="#ecf3fa"/>
<path d="M181.9,407.5A185.35,185.35 0 0 1 181.4,406.9" stroke="#e7f0f9"/>
<path d="M181.5,407.0A185.35,185.35 0 0 1 181.0,406.3" stroke="#ebf3fa"/>
<path d="M181.1,406.5A185.35,185.35 0 0 1 180.6,405.8" stroke="#edf4fb"/>
<path d="M180.7,406.0A185.35,185.35 0 0 1 180.2,405.3" stroke="#eaf3fa"/>
<path d="M180.3,405.5A185.35,185.35 0 0 1 179.8,404.8" stroke="#eff5fb"/>
<path d="M179.9,404.9A185.35,185.35 0 0 1 179.5,404.3" stroke="#edf4fb"/>
<path d="M179.6,404.4A185.35,185.35 0 0 1 179.1,403.8" stroke="#e8f1f9"/>
<path d="M179.2,403.9A185.35,185.35 0 0 1 178.7,403.3" stroke="#edf4fb"/>
<path d="M178.8,403.4A185.35,185.35 0 0 1 178.3,402.8" stroke="#d4e5f4"/>
<path d="M178.4,402.9A185.35,185.35 0 0 1 177.9,402.2" stroke="#e9f1fa"/>
<path d="M178.0,402.4A185.35,185.35 0 0 1 177.5,401.7" stroke="#e4eff8"/>
<path d="M177.6,401.9A185.35,185.35 0 0 1 177.1,401.2" stroke="#e7f1f9"/>
<path d="M177.2,401.3A185.35,185.35 0 0 1 176.7,400.7" stroke="#e7f0f9"/>
<path d="M176.8,400.8A185.35,185.35 0 0 1 176.4,400.2" stroke="#e3eef8"/>
<path d="M176.5,400.3A185.35,185.35 0 0 1 176.0,399.6" stroke="#e7f0f9"/>
<path d="M176.1,399.8A185.35,185.35 0 0 1 175.6,399.1" stroke="#e5eff9"/>
<path d="M175.7,399.2A185.35,185.35 0 0 1 175.2,398.6" stroke="#dfecf7"/>
<path d="M175.3,398.7A185.35,185.35 0 0 1 174.9,398.0" stroke="#e7f0f9"/>
<path d="M175.0,398.2A185.35,185.35 0 0 1 174.5,397.5" stroke="#e1edf7"/>
<path d="M174.6,397.6A185.35,185.35 0 0 1 174.1,397.0" stroke="#dceaf6"/>
<path d="M174.2,397.1A185.35,185.35 0 0 1 173.8,396.5" stroke="#d3e4f3"/>
<path d="M173.8,396.6A185.35,185.35 0 0 1 173.4,395.9" stroke="#dce9f6"/>
<path d="M173.5,396.0A185.35,185.35 0 0 1 173.0,395.4" stroke="#cfe1f2"/>
<path d="M173.1,395.5A185.35,185.35 0 0 1 172.7,394.8" stroke="#d7e6f4"/>
<path d="M172.8,395.0A185.35,185.35 0 0 1 172.3,394.3" stroke="#deebf6"/>
<path d="M172.4,394.4A185.35,185.35 0 0 1 172.0,393.8" stroke="#c9def0"/>
<path d="M172.0,393.9A185.35,185.35 0 0 1 171.6,393.2" stroke="#d3e4f3"/>
<path d="M171.7,393.4A185.35,185.35 0 0 1 171.2,392.7" stroke="#c8ddf0"/>
<path d="M171.3,392.8A185.35,185.35 0 0 1 170.9,392.1" stroke="#c8ddf0"/>
<path d="M171.0,392.3A185.35,185.35 0 0 1 170.5,391.6" stroke="#c3daee"/>
<path d="M170.6,391.7A185.35,185.35 0 0 1 170.2,391.1" stroke="#d9e8f5"/>
<path d="M170.3,391.2A185.35,185.35 0 0 1 169.8,390.5" stroke="#cee1f2"/>
<path d="M169.9,390.6A185.35,185.35 0 0 1 169.5,390.0" stroke="#d7e6f4"/>
<path d="M169.6,390.1A185.35,185.35 0 0 1 169.2,389.4" stroke="#c9ddf0"/>
<path d="M169.2,389.5A185.35,185.35 0 0 1 168.8,388.9" stroke="#d1e2f2"/>
<path d="M168.9,389.0A185.35,185.35 0 0 1 168.5,388.3" stroke="#95bcdf"/>
<path d="M168.6,388.4A185.35,185.35 0 0 1 168.1,387.8" stroke="#bfd7ed"/>
<path d="M168.2,387.9A185.35,185.35 0 0 1 167.9,387.3" stroke="#98bee0"/>
<path d="M162.2,377.2A185.35,185.35 0 0 1 161.8,376.5" stroke="#f0f6fc"/>
<path d="M161.9,376.6A185.35,185.35 0 0 1 161.5,375.9" stroke="#f1f7fc"/>
<path d="M161.6,376.0A185.35,185.35 0 0 1 161.2,375.3" stroke="#f2f7fc"/>
<path d="M161.3,375.4A185.35,185.35 0 0 1 160.9,374.7" stroke="#f3f8fc"/>
<path d="M161.0,374.9A185.35,185.35 0 0 1 160.6,374.1" stroke="#f1f7fc"/>
<path d="M160.7,374.3A185.35,185.35 0 0 1 160.4,373.6" stroke="#f1f7fc"/>
<path d="M160.4,373.7A185.35,185.35 0 0 1 160.1,373.0" stroke="#f3f8fd"/>
<path d="M160.1,373.1A185.35,185.35 0 0 1 159.8,372.4" stroke="#f0f6fc"/>
<path d="M159.9,372.5A185.35,185.35 0 0 1 159.5,371.8" stroke="#f3f8fc"/>
<path d="M159.6,371.9A185.35,185.35 0 0 1 159.2,371.2" stroke="#f0f6fc"/>
<path d="M159.3,371.4A185.35,185.35 0 0 1 158.9,370.6" stroke="#f0f6fc"/>
<path d="M159.0,370.8A185.35,185.35 0 0 1 158.7,370.0" stroke="#c7dcf0"/>
<path d="M158.7,370.2A185.35,185.35 0 0 1 158.4,369.4" stroke="#f1f6fc"/>
<path d="M158.5,369.6A185.35,185.35 0 0 1 158.1,368.8" stroke="#f0f6fc"/>
<path d="M158.2,369.0A185.35,185.35 0 0 1 157.8,368.3" stroke="#bcd5ec"/>
<path d="M157.9,368.4A185.35,185.35 0 0 1 157.6,367.7" stroke="#eef5fb"/>
<path d="M157.6,367.8A185.35,185.35 0 0 1 157.3,367.1" stroke="#eff5fb"/>
<path d="M157.4,367.2A185.35,185.35 0 0 1 157.0,366.5" stroke="#f1f7fc"/>
<path d="M157.1,366.6A185.35,185.35 0 0 1 156.8,365.9" stroke="#edf4fb"/>
<path d="M156.8,366.0A185.35,185.35 0 0 1 156.5,365.3" stroke="#eef5fb"/>
<path d="M156.6,365.4A185.35,185.35 0 0 1 156.3,364.7" stroke="#b9d3eb"/>
<path d="M156.3,364.8A185.35,185.35 0 0 1 156.0,364.1" stroke="#eaf3fa"/>
<path d="M156.1,364.2A185.35,185.35 0 0 1 155.8,363.5" stroke="#eaf2fa"/>
<path d="M155.8,363.6A185.35,185.35 0 0 1 155.5,362.9" stroke="#eef5fb"/>
<path d="M155.6,363.0A185.35,185.35 0 0 1 155.3,362.3" stroke="#e9f1fa"/>
<path d="M155.3,362.4A185.35,185.35 0 0 1 155.0,361.7" stroke="#e8f1f9"/>
<path d="M155.1,361.8A185.35,185.35 0 0 1 154.8,361.1" stroke="#edf4fb"/>
<path d="M154.8,361.2A185.35,185.35 0 0 1 154.5,360.5" stroke="#eef5fb"/>
<path d="M154.6,360.6A185.35,185.35 0 0 1 154.3,359.9" stroke="#e8f1f9"/>
<path d="M154.3,360.0A185.35,185.35 0 0 1 154.0,359.2" stroke="#e9f2fa"/>
<path d="M154.1,359.4A185.35,185.35 0 0 1 153.8,358.6" stroke="#eef5fb"/>
<path d="M153.9,358.8A185.35,185.35 0 0 1 153.6,358.0" stroke="#eef5fb"/>
<path d="M153.6,358.2A185.35,185.35 0 0 1 153.3,357.4" stroke="#edf4fb"/>
<path d="M153.4,357.6A185.35,185.35 0 0 1 153.1,356.8" stroke="#eff5fb"/>
<path d="M153.2,357.0A185.35,185.35 0 0 1 152.9,356.2" stroke="#ecf4fb"/>
<path d="M152.9,356.4A185.35,185.35 0 0 1 152.6,355.6" stroke="#eff5fb"/>
<path d="M152.7,355.7A185.35,185.35 0 0 1 152.4,355.0" stroke="#e7f1f9"/>
<path d="M152.5,355.1A185.35,185.35 0 0 1 152.2,354.4" stroke="#ecf4fb"/>
<path d="M152.3,354.5A185.35,185.35 0 0 1 152.0,353.8" stroke="#ebf3fa"/>
<path d="M152.0,353.9A185.35,185.35 0 0 1 151.8,353.1" stroke="#edf4fb"/>
<path d="M151.8,353.3A185.35,185.35 0 0 1 151.5,352.5" stroke="#e9f1fa"/>
<path d="M151.6,352.7A185.35,185.35 0 0 1 151.3,351.9" stroke="#c9def0"/>
<path d="M151.4,352.1A185.35,185.35 0 0 1 151.1,351.3" stroke="#dfecf7"/>
<path d="M151.2,351.4A185.35,185.35 0 0 1 150.9,350.7" stroke="#e3eef8"/>
<path d="M151.0,350.8A185.35,185.35 0 0 1 150.7,350.1" stroke="#dceaf6"/>
<path d="M150.8,350.2A185.35,185.35 0 0 1 150.5,349.4" stroke="#e2edf8"/>
<path d="M150.6,349.6A185.35,185.35 0 0 1 150.3,348.8" stroke="#e0ecf7"/>
<path d="M150.4,349.0A185.35,185.35 0 0 1 150.1,348.2" stroke="#e2eef8"/>
<path d="M150.2,348.4A185.35,185.35 0 0 1 149.9,347.6" stroke="#dce9f6"/>
<path d="M150.0,347.7A185.35,185.35 0 0 1 149.7,347.0" stroke="#dce9f6"/>
<path d="M149.8,347.1A185.35,185.35 0 0 1 149.5,346.3" stroke="#d5e5f4"/>
<path d="M149.6,346.5A185.35,185.35 0 0 1 149.3,345.7" stroke="#d0e2f2"/>
<path d="M149.4,345.9A185.35,185.35 0 0 1 149.1,345.1" stroke="#dbe9f6"/>
<path d="M149.2,345.2A185.35,185.35 0 0 1 148.9,344.5" stroke="#d6e6f4"/>
<path d="M149.0,344.6A185.35,185.35 0 0 1 148.8,343.8" stroke="#86b2da"/>
<path d="M148.8,344.0A185.35,185.35 0 0 1 148.6,343.2" stroke="#d7e7f5"/>
<path d="M148.6,343.4A185.35,185.35 0 0 1 148.4,342.6" stroke="#dceaf6"/>
<path d="M148.4,342.7A185.35,185.35 0 0 1 148.2,342.0" stroke="#d9e7f5"/>
<path d="M148.3,342.1A185.35,185.35 0 0 1 148.0,341.3" stroke="#d3e4f3"/>
<path d="M148.1,341.5A185.35,185.35 0 0 1 147.9,340.7" stroke="#bad4eb"/>
<path d="M147.9,340.9A185.35,185.35 0 0 1 147.7,340.1" stroke="#c8ddf0"/>
<path d="M147.7,340.2A185.35,185.35 0 0 1 147.5,339.4" stroke="#cbdff1"/>
<path d="M147.6,339.6A185.35,185.35 0 0 1 147.4,338.8" stroke="#ccdff1"/>
<path d="M147.4,339.0A185.35,185.35 0 0 1 147.2,338.2" stroke="#ccdff1"/>
<path d="M147.2,338.3A185.35,185.35 0 0 1 147.0,337.6" stroke="#d8e7f5"/>
<path d="M147.1,337.7A185.35,185.35 0 0 1 146.9,336.9" stroke="#d2e3f3"/>
<path d="M146.9,337.1A185.35,185.35 0 0 1 146.7,336.3" stroke="#bdd6ec"/>
<path d="M146.8,336.4A185.35,185.35 0 0 1 146.6,335.8" stroke="#cbdff1"/>
<path d="M144.2,324.7A185.35,185.35 0 0 1 144.1,323.9" stroke="#8ab5db"/>
<path d="M144.1,324.1A185.35,185.35 0 0 1 144.0,323.3" stroke="#84b0d9"/>
<path d="M144.0,323.5A185.35,185.35 0 0 1 143.9,322.7" stroke="#75a5d3"/>
<path d="M143.9,322.8A185.35,185.35 0 0 1 143.8,322.0" stroke="#94bbdf"/>
<path d="M143.8,322.2A185.35,185.35 0 0 1 143.7,321.4" stroke="#a9c9e6"/>
<path d="M143.7,321.6A185.35,185.35 0 0 1 143.6,320.8" stroke="#92bade"/>
<path d="M143.6,320.9A185.35,185.35 0 0 1 143.5,320.1" stroke="#87b2da"/>
<path d="M143.5,320.3A185.35,185.35 0 0 1 143.4,319.5" stroke="#99bee0"/>
<path d="M143.4,319.6A185.35,185.35 0 0 1 143.3,318.8" stroke="#c3d9ee"/>
<path d="M143.3,319.0A185.35,185.35 0 0 1 143.2,318.2" stroke="#92bade"/>
<path d="M143.2,318.4A185.35,185.35 0 0 1 143.1,317.6" stroke="#a6c7e5"/>
<path d="M143.1,317.7A185.35,185.35 0 0 1 143.0,316.9" stroke="#bed6ed"/>
<path d="M143.0,317.1A185.35,185.35 0 0 1 142.9,316.3" stroke="#84b1d9"/>
<path d="M142.9,316.4A185.35,185.35 0 0 1 142.8,315.6" stroke="#9dc1e2"/>
<path d="M142.8,315.8A185.35,185.35 0 0 1 142.7,315.0" stroke="#8eb7dd"/>
<path d="M142.8,315.2A185.35,185.35 0 0 1 142.7,314.3" stroke="#99bee0"/>
<path d="M142.7,314.5A185.35,185.35 0 0 1 142.6,313.7" stroke="#afcde8"/>
<path d="M142.6,313.9A185.35,185.35 0 0 1 142.5,313.1" stroke="#70a2d1"/>
<path d="M142.5,313.2A185.35,185.35 0 0 1 142.4,312.4" stroke="#97bde0"/>
<path d="M142.4,312.6A185.35,185.35 0 0 1 142.4,311.8" stroke="#ccdff1"/>
<path d="M142.4,311.9A185.35,185.35 0 0 1 142.3,311.1" stroke="#7eacd7"/>
<path d="M142.3,311.3A185.35,185.35 0 0 1 142.2,310.5" stroke="#cadef0"/>
<path d="M142.2,310.7A185.35,185.35 0 0 1 142.2,309.8" stroke="#c4daef"/>
<path d="M142.2,310.0A185.35,185.35 0 0 1 142.1,309.2" stroke="#6497cc"/>
<path d="M142.1,309.4A185.35,185.35 0 0 1 142.0,308.6" stroke="#b8d3eb"/>
<path d="M142.0,308.7A185.35,185.35 0 0 1 142.0,307.9" stroke="#9abfe1"/>
<path d="M142.0,308.1A185.35,185.35 0 0 1 141.9,307.3" stroke="#ccdff1"/>
<path d="M141.9,307.4A185.35,185.35 0 0 1 141.9,306.6" stroke="#b7d2ea"/>
<path d="M141.9,306.8A185.35,185.35 0 0 1 141.8,306.0" stroke="#a5c6e4"/>
<path d="M141.8,306.1A185.35,185.35 0 0 1 141.8,305.3" stroke="#9cc0e1"/>
<path d="M141.8,305.5A185.35,185.35 0 0 1 141.7,304.7" stroke="#76a6d4"/>
<path d="M141.7,304.9A185.35,185.35 0 0 1 141.7,304.0" stroke="#b8d3eb"/>
<path d="M141.7,304.2A185.35,185.35 0 0 1 141.6,303.4" stroke="#96bcdf"/>
<path d="M141.6,303.6A185.35,185.35 0 0 1 141.6,302.8" stroke="#6699cd"/>
<path d="M141.6,302.9A185.35,185.35 0 0 1 141.5,302.1" stroke="#a0c3e3"/>
<path d="M141.6,302.3A185.35,185.35 0 0 1 141.5,301.5" stroke="#b5d0ea"/>
<path d="M141.5,301.6A185.35,185.35 0 0 1 141.5,300.8" stroke="#b3cfe9"/>
<path d="M141.5,301.0A185.35,185.35 0 0 1 141.4,300.2" stroke="#a1c3e3"/>
<path d="M141.5,300.3A185.35,185.35 0 0 1 141.4,299.5" stroke="#c9def0"/>
<path d="M141.4,299.7A185.35,185.35 0 0 1 141.4,298.9" stroke="#d0e2f2"/>
<path d="M141.4,299.0A185.35,185.35 0 0 1 141.4,298.2" stroke="#c8ddf0"/>
<path d="M141.4,298.4A185.35,185.35 0 0 1 141.3,297.6" stroke="#d9e8f5"/>
<path d="M141.4,297.7A185.35,185.35 0 0 1 141.3,296.9" stroke="#d6e5f4"/>
<path d="M141.3,297.1A185.35,185.35 0 0 1 141.3,296.3" stroke="#d0e2f2"/>
<path d="M141.3,296.5A185.35,185.35 0 0 1 141.3,295.6" stroke="#e1ecf7"/>
<path d="M141.3,295.8A185.35,185.35 0 0 1 141.3,295.0" stroke="#e6f0f9"/>
<path d="M141.3,295.2A185.35,185.35 0 0 1 141.3,294.3" stroke="#e5eff8"/>
<path d="M141.3,294.5A185.35,185.35 0 0 1 141.3,293.7" stroke="#e3eef8"/>
<path d="M141.3,293.9A185.35,185.35 0 0 1 141.3,293.1" stroke="#e9f2fa"/>
<path d="M141.3,293.2A185.35,185.35 0 0 1 141.3,292.4" stroke="#e3eef8"/>
<path d="M141.3,292.6A185.35,185.35 0 0 1 141.3,291.8" stroke="#e1edf7"/>
<path d="M141.3,291.9A185.35,185.35 0 0 1 141.3,291.1" stroke="#eaf2fa"/>
<path d="M141.3,291.3A185.35,185.35 0 0 1 141.3,290.5" stroke="#e8f1f9"/>
<path d="M141.3,290.6A185.35,185.35 0 0 1 141.3,289.8" stroke="#ecf3fa"/>
<path d="M141.3,290.0A185.35,185.35 0 0 1 141.3,289.2" stroke="#ebf3fa"/>
<path d="M141.3,289.3A185.35,185.35 0 0 1 141.3,288.5" stroke="#e8f1f9"/>
<path d="M141.3,288.7A185.35,185.35 0 0 1 141.3,287.9" stroke="#ebf3fa"/>
<path d="M141.3,288.0A185.35,185.35 0 0 1 141.3,287.2" stroke="#ebf3fa"/>
<path d="M141.3,287.4A185.35,185.35 0 0 1 141.3,286.6" stroke="#b4d0e9"/>
<path d="M141.3,286.7A185.35,185.35 0 0 1 141.3,285.9" stroke="#bbd5ec"/>
<path d="M141.3,286.1A185.35,185.35 0 0 1 141.4,285.3" stroke="#e8f1f9"/>
<path d="M141.4,285.5A185.35,185.35 0 0 1 141.4,284.6" stroke="#f0f6fc"/>
<path d="M141.4,284.8A185.35,185.35 0 0 1 141.4,284.0" stroke="#eef5fb"/>
<path d="M141.4,284.2A185.35,185.35 0 0 1 141.4,283.4" stroke="#b7d2ea"/>
<path d="M141.4,283.5A185.35,185.35 0 0 1 141.5,282.7" stroke="#edf4fb"/>
<path d="M141.5,282.9A185.35,185.35 0 0 1 141.5,282.1" stroke="#ebf3fa"/>
<path d="M141.5,282.2A185.35,185.35 0 0 1 141.5,281.4" stroke="#f0f6fc"/>
<path d="M141.5,281.6A185.35,185.35 0 0 1 141.6,280.8" stroke="#c3daee"/>
<path d="M141.6,280.9A185.35,185.35 0 0 1 141.6,280.1" stroke="#eaf2fa"/>
<path d="M141.6,280.3A185.35,185.35 0 0 1 141.6,279.5" stroke="#eef5fb"/>
<path d="M141.6,279.6A185.35,185.35 0 0 1 141.7,278.8" stroke="#e6f0f9"/>
<path d="M141.7,279.0A185.35,185.35 0 0 1 141.7,278.2" stroke="#ecf3fa"/>
<path d="M141.7,278.3A185.35,185.35 0 0 1 141.8,277.5" stroke="#e2edf8"/>
<path d="M141.8,277.7A185.35,185.35 0 0 1 141.8,276.9" stroke="#e6f0f9"/>
<path d="M141.8,277.1A185.35,185.35 0 0 1 141.9,276.3" stroke="#ddeaf6"/>
<path d="M141.9,276.4A185.35,185.35 0 0 1 141.9,275.6" stroke="#e2edf8"/>
<path d="M141.9,275.8A185.35,185.35 0 0 1 142.0,275.0" stroke="#e0ecf7"/>
<path d="M142.0,275.1A185.35,185.35 0 0 1 142.1,274.3" stroke="#b6d1ea"/>
<path d="M142.0,274.5A185.35,185.35 0 0 1 142.1,273.7" stroke="#d8e7f5"/>
<path d="M142.1,273.8A185.35,185.35 0 0 1 142.2,273.0" stroke="#d5e5f4"/>
<path d="M142.2,273.2A185.35,185.35 0 0 1 142.2,272.4" stroke="#cfe1f2"/>
<path d="M142.2,272.5A185.35,185.35 0 0 1 142.3,271.9" stroke="#d8e7f5"/>
<path d="M143.9,260.4A185.35,185.35 0 0 1 144.0,259.6" stroke="#f5f9fd"/>
<path d="M144.0,259.7A185.35,185.35 0 0 1 144.2,258.9" stroke="#f6fafd"/>
<path d="M144.1,259.1A185.35,185.35 0 0 1 144.3,258.3" stroke="#f5f9fd"/>
<path d="M144.2,258.5A185.35,185.35 0 0 1 144.4,257.7" stroke="#e2edf8"/>
<path d="M144.4,257.8A185.35,185.35 0 0 1 144.5,257.0" stroke="#f5f9fd"/>
<path d="M144.5,257.2A185.35,185.35 0 0 1 144.6,256.4" stroke="#c5dbef"/>
<path d="M144.6,256.6A185.35,185.35 0 0 1 144.7,255.8" stroke="#f3f8fd"/>
<path d="M144.7,255.9A185.35,185.35 0 0 1 144.9,255.1" stroke="#f4f8fd"/>
<path d="M144.8,255.3A185.35,185.35 0 0 1 145.0,254.5" stroke="#f3f8fc"/>
<path d="M145.0,254.6A185.35,185.35 0 0 1 145.1,253.9" stroke="#f3f8fd"/>
<path d="M145.1,254.0A185.35,185.35 0 0 1 145.3,253.2" stroke="#f3f8fd"/>
<path d="M145.2,253.4A185.35,185.35 0 0 1 145.4,252.6" stroke="#f1f7fc"/>
<path d="M145.4,252.7A185.35,185.35 0 0 1 145.5,252.0" stroke="#f3f8fd"/>
<path d="M145.5,252.1A185.35,185.35 0 0 1 145.7,251.3" stroke="#f2f7fc"/>
<path d="M145.6,251.5A185.35,185.35 0 0 1 145.8,250.7" stroke="#f2f7fc"/>
<path d="M145.8,250.9A185.35,185.35 0 0 1 146.0,250.1" stroke="#f3f8fd"/>
<path d="M145.9,250.2A185.35,185.35 0 0 1 146.1,249.4" stroke="#f1f6fc"/>
<path d="M146.1,249.6A185.35,185.35 0 0 1 146.3,248.8" stroke="#eef5fb"/>
<path d="M146.2,249.0A185.35,185.35 0 0 1 146.4,248.2" stroke="#edf4fb"/>
<path d="M146.4,248.3A185.35,185.35 0 0 1 146.6,247.5" stroke="#eff5fb"/>
<path d="M146.5,247.7A185.35,185.35 0 0 1 146.7,246.9" stroke="#f2f7fc"/>
<path d="M146.7,247.1A185.35,185.35 0 0 1 146.9,246.3" stroke="#eef5fb"/>
<path d="M146.8,246.4A185.35,185.35 0 0 1 147.0,245.7" stroke="#eef5fb"/>
<path d="M147.0,245.8A185.35,185.35 0 0 1 147.2,245.0" stroke="#eff5fb"/>
<path d="M147.2,245.2A185.35,185.35 0 0 1 147.4,244.4" stroke="#f0f6fc"/>
<path d="M147.3,244.6A185.35,185.35 0 0 1 147.5,243.8" stroke="#d5e5f4"/>
<path d="M147.5,243.9A185.35,185.35 0 0 1 147.7,243.2" stroke="#edf4fb"/>
<path d="M147.6,243.3A185.35,185.35 0 0 1 147.9,242.5" stroke="#f1f7fc"/>
<path d="M147.8,242.7A185.35,185.35 0 0 1 148.0,241.9" stroke="#edf4fb"/>
<path d="M148.0,242.1A185.35,185.35 0 0 1 148.2,241.3" stroke="#e8f1f9"/>
<path d="M148.2,241.4A185.35,185.35 0 0 1 148.4,240.7" stroke="#e0ecf7"/>
<path d="M148.3,240.8A185.35,185.35 0 0 1 148.6,240.0" stroke="#e2edf8"/>
<path d="M148.5,240.2A185.35,185.35 0 0 1 148.7,239.4" stroke="#c8ddf0"/>
<path d="M148.7,239.6A185.35,185.35 0 0 1 148.9,238.8" stroke="#d7e6f4"/>
<path d="M148.9,239.0A185.35,185.35 0 0 1 149.1,238.2" stroke="#97bde0"/>
<path d="M149.1,238.3A185.35,185.35 0 0 1 149.3,237.6" stroke="#c8ddf0"/>
<path d="M149.3,237.7A185.35,185.35 0 0 1 149.5,236.9" stroke="#adcce7"/>
<path d="M149.4,237.1A185.35,185.35 0 0 1 149.7,236.3" stroke="#a9c9e6"/>
<path d="M149.6,236.5A185.35,185.35 0 0 1 149.9,235.7" stroke="#adcbe7"/>
<path d="M149.8,235.9A185.35,185.35 0 0 1 150.1,235.1" stroke="#cbdff1"/>
<path d="M150.0,235.2A185.35,185.35 0 0 1 150.3,234.5" stroke="#cbdff1"/>
<path d="M150.2,234.6A185.35,185.35 0 0 1 150.5,233.9" stroke="#93bade"/>
<path d="M150.4,234.0A185.35,185.35 0 0 1 150.7,233.2" stroke="#9ec1e2"/>
<path d="M150.6,233.4A185.35,185.35 0 0 1 150.9,232.6" stroke="#c9def0"/>
<path d="M150.8,232.8A185.35,185.35 0 0 1 151.1,232.0" stroke="#9dc1e2"/>
<path d="M151.0,232.2A185.35,185.35 0 0 1 151.3,231.4" stroke="#95bbdf"/>
<path d="M151.2,231.6A185.35,185.35 0 0 1 151.5,230.8" stroke="#c5dbef"/>
<path d="M151.5,231.0A185.35,185.35 0 0 1 151.7,230.2" stroke="#a8c8e5"/>
<path d="M151.7,230.3A185.35,185.35 0 0 1 151.9,229.6" stroke="#c7dcf0"/>
<path d="M151.9,229.7A185.35,185.35 0 0 1 152.2,229.0" stroke="#cbdff1"/>
<path d="M152.1,229.1A185.35,185.35 0 0 1 152.4,228.4" stroke="#79a9d6"/>
<path d="M152.3,228.5A185.35,185.35 0 0 1 152.6,227.8" stroke="#c1d8ee"/>
<path d="M152.5,227.9A185.35,185.35 0 0 1 152.8,227.1" stroke="#9bc0e1"/>
<path d="M152.8,227.3A185.35,185.35 0 0 1 153.0,226.5" stroke="#8db7dc"/>
<path d="M153.0,226.7A185.35,185.35 0 0 1 153.3,225.9" stroke="#8eb7dd"/>
<path d="M153.2,226.1A185.35,185.35 0 0 1 153.5,225.3" stroke="#8ab5db"/>
<path d="M153.4,225.5A185.35,185.35 0 0 1 153.7,224.7" stroke="#c3daee"/>
<path d="M153.7,224.9A185.35,185.35 0 0 1 154.0,224.1" stroke="#b5d1ea"/>
<path d="M153.9,224.3A185.35,185.35 0 0 1 154.2,223.5" stroke="#9bc0e1"/>
<path d="M154.1,223.7A185.35,185.35 0 0 1 154.4,222.9" stroke="#c6dcef"/>
<path d="M154.4,223.1A185.35,185.35 0 0 1 154.7,222.3" stroke="#97bde0"/>
<path d="M154.6,222.5A185.35,185.35 0 0 1 154.9,221.7" stroke="#6397cb"/>
<path d="M154.9,221.9A185.35,185.35 0 0 1 155.2,221.1" stroke="#c7ddf0"/>
<path d="M155.1,221.3A185.35,185.35 0 0 1 155.4,220.5" stroke="#92b9de"/>
<path d="M155.4,220.7A185.35,185.35 0 0 1 155.7,219.9" stroke="#88b3db"/>
<path d="M155.6,220.1A185.35,185.35 0 0 1 155.9,219.3" stroke="#bbd5ec"/>
<path d="M155.9,219.5A185.35,185.35 0 0 1 156.2,218.7" stroke="#adcbe7"/>
<path d="M156.1,218.9A185.35,185.35 0 0 1 156.4,218.1" stroke="#a2c4e3"/>
<path d="M156.4,218.3A185.35,185.35 0 0 1 156.7,217.5" stroke="#cbdff1"/>
<path d="M156.6,217.7A185.35,185.35 0 0 1 156.9,217.0" stroke="#91b9de"/>
<path d="M156.9,217.1A185.35,185.35 0 0 1 157.2,216.4" stroke="#a3c5e4"/>
<path d="M157.1,216.5A185.35,185.35 0 0 1 157.5,215.8" stroke="#99bee0"/>
<path d="M157.4,215.9A185.35,185.35 0 0 1 157.7,215.2" stroke="#c2d9ee"/>
<path d="M157.7,215.3A185.35,185.35 0 0 1 158.0,214.6" stroke="#a3c5e4"/>
<path d="M157.9,214.7A185.35,185.35 0 0 1 158.3,214.0" stroke="#8eb7dd"/>
<path d="M158.2,214.1A185.35,185.35 0 0 1 158.5,213.4" stroke="#cadef1"/>
<path d="M158.5,213.6A185.35,185.35 0 0 1 158.8,212.8" stroke="#c1d8ee"/>
<path d="M158.8,213.0A185.35,185.35 0 0 1 159.1,212.2" stroke="#87b2da"/>
<path d="M159.0,212.4A185.35,185.35 0 0 1 159.4,211.7" stroke="#c9ddf0"/>
<path d="M159.3,211.8A185.35,185.35 0 0 1 159.7,211.1" stroke="#8ab5db"/>
<path d="M159.6,211.2A185.35,185.35 0 0 1 159.9,210.5" stroke="#accbe7"/>
<path d="M159.9,210.6A185.35,185.35 0 0 1 160.2,209.9" stroke="#bed7ed"/>
<path d="M160.2,210.1A185.35,185.35 0 0 1 160.5,209.3" stroke="#abcae6"/>
<path d="M160.4,209.5A185.35,185.35 0 0 1 160.8,208.8" stroke="#70a1d1"/>
<path d="M160.7,208.9A185.35,185.35 0 0 1 161.1,208.2" stroke="#b9d3eb"/>
<path d="M161.0,208.3A185.35,185.35 0 0 1 161.4,207.6" stroke="#77a8d5"/>
<path d="M161.3,207.7A185.35,185.35 0 0 1 161.7,207.0" stroke="#adcbe7"/>
<path d="M161.6,207.2A185.35,185.35 0 0 1 162.0,206.4" stroke="#9bbfe1"/>
<path d="M161.9,206.6A185.35,185.35 0 0 1 162.3,205.9" stroke="#74a5d3"/>
<path d="M162.2,206.0A185.35,185.35 0 0 1 162.5,205.4" stroke="#7aaad6"/>
<path d="M168.6,194.8A185.35,185.35 0 0 1 169.0,194.1" stroke="#6094ca"/>
<path d="M168.9,194.2A185.35,185.35 0 0 1 169.3,193.5" stroke="#95bbdf"/>
<path d="M169.2,193.7A185.35,185.35 0 0 1 169.7,193.0" stroke="#b7d2ea"/>
<path d="M169.6,193.1A185.35,185.35 0 0 1 170.0,192.4" stroke="#bad4eb"/>
<path d="M169.9,192.6A185.35,185.35 0 0 1 170.4,191.9" stroke="#aacae6"/>
<path d="M170.3,192.0A185.35,185.35 0 0 1 170.7,191.3" stroke="#5e92c9"/>
<path d="M170.6,191.5A185.35,185.35 0 0 1 171.1,190.8" stroke="#a4c5e4"/>
<path d="M171.0,190.9A185.35,185.35 0 0 1 171.4,190.2" stroke="#a9c9e6"/>
<path d="M171.3,190.4A185.35,185.35 0 0 1 171.8,189.7" stroke="#b7d2ea"/>
<path d="M171.7,189.8A185.35,185.35 0 0 1 172.1,189.2" stroke="#cde0f1"/>
<path d="M172.0,189.3A185.35,185.35 0 0 1 172.5,188.6" stroke="#b1cee8"/>
<path d="M172.4,188.8A185.35,185.35 0 0 1 172.8,188.1" stroke="#bdd6ec"/>
<path d="M172.8,188.2A185.35,185.35 0 0 1 173.2,187.6" stroke="#bad4eb"/>
<path d="M173.1,187.7A185.35,185.35 0 0 1 173.6,187.0" stroke="#c8ddf0"/>
<path d="M173.5,187.2A185.35,185.35 0 0 1 173.9,186.5" stroke="#cee1f2"/>
<path d="M173.8,186.6A185.35,185.35 0 0 1 174.3,186.0" stroke="#a3c5e4"/>
<path d="M174.2,186.1A185.35,185.35 0 0 1 174.7,185.4" stroke="#d1e3f3"/>
<path d="M174.6,185.6A185.35,185.35 0 0 1 175.0,184.9" stroke="#cfe1f2"/>
<path d="M175.0,185.0A185.35,185.35 0 0 1 175.4,184.4" stroke="#d8e7f5"/>
<path d="M175.3,184.5A185.35,185.35 0 0 1 175.8,183.8" stroke="#d7e6f4"/>
<path d="M175.7,184.0A185.35,185.35 0 0 1 176.2,183.3" stroke="#e2edf7"/>
<path d="M176.1,183.4A185.35,185.35 0 0 1 176.6,182.8" stroke="#d9e8f5"/>
<path d="M176.5,182.9A185.35,185.35 0 0 1 176.9,182.3" stroke="#dae8f5"/>
<path d="M176.8,182.4A185.35,185.35 0 0 1 177.3,181.7" stroke="#c9def0"/>
<path d="M177.2,181.9A185.35,185.35 0 0 1 177.7,181.2" stroke="#e3eef8"/>
<path d="M177.6,181.3A185.35,185.35 0 0 1 178.1,180.7" stroke="#e1edf7"/>
<path d="M178.0,180.8A185.35,185.35 0 0 1 178.5,180.2" stroke="#e5eff9"/>
<path d="M178.4,180.3A185.35,185.35 0 0 1 178.9,179.7" stroke="#cde0f1"/>
<path d="M178.8,179.8A185.35,185.35 0 0 1 179.3,179.2" stroke="#e4eef8"/>
<path d="M179.2,179.3A185.35,185.35 0 0 1 179.7,178.6" stroke="#e7f0f9"/>
<path d="M179.6,178.8A185.35,185.35 0 0 1 180.0,178.1" stroke="#e6f0f9"/>
<path d="M179.9,178.3A185.35,185.35 0 0 1 180.4,177.6" stroke="#ebf3fa"/>
<path d="M180.3,177.7A185.35,185.35 0 0 1 180.8,177.1" stroke="#e0ecf7"/>
<path d="M180.7,177.2A185.35,185.35 0 0 1 181.2,176.6" stroke="#d3e4f3"/>
<path d="M181.1,176.7A185.35,185.35 0 0 1 181.6,176.1" stroke="#e8f1f9"/>
<path d="M181.5,176.2A185.35,185.35 0 0 1 182.0,175.6" stroke="#e9f2fa"/>
<path d="M181.9,175.7A185.35,185.35 0 0 1 182.5,175.1" stroke="#eaf2fa"/>
<path d="M182.4,175.2A185.35,185.35 0 0 1 182.9,174.6" stroke="#e1edf7"/>
<path d="M182.8,174.7A185.35,185.35 0 0 1 183.3,174.1" stroke="#eaf2fa"/>
<path d="M183.2,174.2A185.35,185.35 0 0 1 183.7,173.6" stroke="#e1edf7"/>
<path d="M183.6,173.7A185.35,185.35 0 0 1 184.1,173.1" stroke="#ecf3fa"/>
<path d="M184.0,173.2A185.35,185.35 0 0 1 184.5,172.6" stroke="#e3eef8"/>
<path d="M184.4,172.7A185.35,185.35 0 0 1 184.9,172.1" stroke="#ecf3fa"/>
<path d="M184.8,172.2A185.35,185.35 0 0 1 185.3,171.6" stroke="#e8f1f9"/>
<path d="M185.2,171.7A185.35,185.35 0 0 1 185.8,171.1" stroke="#e7f0f9"/>
<path d="M185.7,171.2A185.35,185.35 0 0 1 186.2,170.6" stroke="#ecf3fa"/>
<path d="M186.1,170.7A185.35,185.35 0 0 1 186.6,170.1" stroke="#e6f0f9"/>
<path d="M186.5,170.2A185.35,185.35 0 0 1 187.0,169.6" stroke="#eaf2fa"/>
<path d="M186.9,169.8A185.35,185.35 0 0 1 187.5,169.1" stroke="#cde0f1"/>
<path d="M187.4,169.3A185.35,185.35 0 0 1 187.9,168.7" stroke="#eef5fb"/>
<path d="M187.8,168.8A185.35,185.35 0 0 1 188.3,168.2" stroke="#ecf3fa"/>
<path d="M188.2,168.3A185.35,185.35 0 0 1 188.7,167.7" stroke="#e9f2fa"/>
<path d="M188.6,167.8A185.35,185.35 0 0 1 189.2,167.2" stroke="#b2cfe9"/>
<path d="M189.1,167.3A185.35,185.35 0 0 1 189.6,166.7" stroke="#eaf2fa"/>
<path d="M189.5,166.9A185.35,185.35 0 0 1 190.1,166.3" stroke="#eff5fb"/>
<path d="M189.9,166.4A185.35,185.35 0 0 1 190.5,165.8" stroke="#e9f2fa"/>
<path d="M190.4,165.9A185.35,185.35 0 0 1 190.9,165.3" stroke="#eff5fb"/>
<path d="M190.8,165.4A185.35,185.35 0 0 1 191.4,164.8" stroke="#eef5fb"/>
<path d="M191.3,165.0A185.35,185.35 0 0 1 191.8,164.4" stroke="#eff5fb"/>
<path d="M191.7,164.5A185.35,185.35 0 0 1 192.3,163.9" stroke="#ecf3fa"/>
<path d="M192.2,164.0A185.35,185.35 0 0 1 192.7,163.4" stroke="#eaf2fa"/>
<path d="M192.6,163.5A185.35,185.35 0 0 1 193.2,163.0" stroke="#e9f2fa"/>
<path d="M193.0,163.1A185.35,185.35 0 0 1 193.6,162.5" stroke="#ebf3fa"/>
<path d="M193.5,162.6A185.35,185.35 0 0 1 194.1,162.0" stroke="#ecf3fa"/>
<path d="M193.9,162.1A185.35,185.35 0 0 1 194.5,161.6" stroke="#e5eff9"/>
<path d="M194.4,161.7A185.35,185.35 0 0 1 195.0,161.1" stroke="#eaf2fa"/>
<path d="M194.9,161.2A185.35,185.35 0 0 1 195.4,160.7" stroke="#e0ecf7"/>
<path d="M195.3,160.8A185.35,185.35 0 0 1 195.9,160.2" stroke="#e8f1f9"/>
<path d="M195.8,160.3A185.35,185.35 0 0 1 196.3,159.7" stroke="#deebf6"/>
<path d="M196.2,159.9A185.35,185.35 0 0 1 196.8,159.3" stroke="#eaf2fa"/>
<path d="M196.7,159.4A185.35,185.35 0 0 1 197.3,158.8" stroke="#dfecf7"/>
<path d="M197.1,158.9A185.35,185.35 0 0 1 197.7,158.4" stroke="#e3eef8"/>
<path d="M197.6,158.5A185.35,185.35 0 0 1 198.2,157.9" stroke="#e4eef8"/>
<path d="M198.1,158.0A185.35,185.35 0 0 1 198.7,157.5" stroke="#d1e3f3"/>
<path d="M198.5,157.6A185.35,185.35 0 0 1 199.1,157.0" stroke="#e5eff9"/>
<path d="M199.0,157.2A185.35,185.35 0 0 1 199.6,156.6" stroke="#dbe9f6"/>
<path d="M199.5,156.7A185.35,185.35 0 0 1 200.1,156.2" stroke="#d2e3f3"/>
<path d="M200.0,156.3A185.35,185.35 0 0 1 200.5,155.7" stroke="#e2edf7"/>
<path d="M200.4,155.8A185.35,185.35 0 0 1 201.0,155.3" stroke="#d4e5f4"/>
<path d="M200.9,155.4A185.35,185.35 0 0 1 201.5,154.8" stroke="#a9c9e6"/>
<path d="M201.4,154.9A185.35,185.35 0 0 1 202.0,154.4" stroke="#deebf6"/>
<path d="M201.9,154.5A185.35,185.35 0 0 1 202.5,154.0" stroke="#d8e7f5"/>
<path d="M202.3,154.1A185.35,185.35 0 0 1 202.8,153.6" stroke="#dce9f6"/>
<path d="M212.2,145.7A185.35,185.35 0 0 1 212.9,145.2" stroke="#eff5fb"/>
<path d="M212.7,145.3A185.35,185.35 0 0 1 213.4,144.8" stroke="#ecf3fa"/>
<path d="M213.3,144.9A185.35,185.35 0 0 1 213.9,144.4" stroke="#c4dbef"/>
<path d="M213.8,144.5A185.35,185.35 0 0 1 214.4,144.0" stroke="#eef5fb"/>
<path d="M214.3,144.1A185.35,185.35 0 0 1 215.0,143.6" stroke="#f1f6fc"/>
<path d="M214.8,143.7A185.35,185.35 0 0 1 215.5,143.2" stroke="#eef5fb"/>
<path d="M215.4,143.3A185.35,185.35 0 0 1 216.0,142.9" stroke="#e9f2fa"/>
<path d="M215.9,143.0A185.35,185.35 0 0 1 216.5,142.5" stroke="#eef5fb"/>
<path d="M216.4,142.6A185.35,185.35 0 0 1 217.1,142.1" stroke="#edf4fb"/>
<path d="M216.9,142.2A185.35,185.35 0 0 1 217.6,141.7" stroke="#edf4fb"/>
<path d="M217.5,141.8A185.35,185.35 0 0 1 218.1,141.3" stroke="#e8f1f9"/>
<path d="M218.0,141.4A185.35,185.35 0 0 1 218.7,140.9" stroke="#ecf3fa"/>
<path d="M218.5,141.0A185.35,185.35 0 0 1 219.2,140.5" stroke="#ecf4fb"/>
<path d="M219.1,140.6A185.35,185.35 0 0 1 219.7,140.2" stroke="#ecf4fb"/>
<path d="M219.6,140.3A185.35,185.35 0 0 1 220.3,139.8" stroke="#e4eff8"/>
<path d="M220.1,139.9A185.35,185.35 0 0 1 220.8,139.4" stroke="#e5eff9"/>
<path d="M220.7,139.5A185.35,185.35 0 0 1 221.3,139.0" stroke="#eaf3fa"/>
<path d="M221.2,139.1A185.35,185.35 0 0 1 221.9,138.7" stroke="#e8f1f9"/>
<path d="M221.8,138.8A185.35,185.35 0 0 1 222.4,138.3" stroke="#ecf3fa"/>
<path d="M222.3,138.4A185.35,185.35 0 0 1 223.0,137.9" stroke="#e6f0f9"/>
<path d="M222.8,138.0A185.35,185.35 0 0 1 223.5,137.6" stroke="#e6f0f9"/>
<path d="M223.4,137.6A185.35,185.35 0 0 1 224.1,137.2" stroke="#e9f2fa"/>
<path d="M223.9,137.3A185.35,185.35 0 0 1 224.6,136.8" stroke="#e6f0f9"/>
<path d="M224.5,136.9A185.35,185.35 0 0 1 225.2,136.5" stroke="#deeaf6"/>
<path d="M225.0,136.6A185.35,185.35 0 0 1 225.7,136.1" stroke="#dce9f6"/>
<path d="M225.6,136.2A185.35,185.35 0 0 1 226.3,135.8" stroke="#cfe2f2"/>
<path d="M226.1,135.8A185.35,185.35 0 0 1 226.8,135.4" stroke="#90b8dd"/>
<path d="M226.7,135.5A185.35,185.35 0 0 1 227.4,135.1" stroke="#e3eef8"/>
<path d="M227.2,135.1A185.35,185.35 0 0 1 227.9,134.7" stroke="#e3eef8"/>
<path d="M227.8,134.8A185.35,185.35 0 0 1 228.5,134.4" stroke="#b0cde8"/>
<path d="M228.3,134.4A185.35,185.35 0 0 1 229.0,134.0" stroke="#cee1f2"/>
<path d="M228.9,134.1A185.35,185.35 0 0 1 229.6,133.7" stroke="#cee1f2"/>
<path d="M229.5,133.7A185.35,185.35 0 0 1 230.2,133.3" stroke="#e1edf7"/>
<path d="M230.0,133.4A185.35,185.35 0 0 1 230.7,133.0" stroke="#cee1f2"/>
<path d="M230.6,133.1A185.35,185.35 0 0 1 231.1,132.7" stroke="#e0ecf7"/>
<path d="M241.6,126.9A185.35,185.35 0 0 1 242.3,126.5" stroke="#f3f8fc"/>
<path d="M242.2,126.6A185.35,185.35 0 0 1 242.9,126.2" stroke="#bcd5ec"/>
<path d="M242.7,126.3A185.35,185.35 0 0 1 243.5,125.9" stroke="#f2f7fc"/>
<path d="M243.3,126.0A185.35,185.35 0 0 1 244.0,125.7" stroke="#f3f8fc"/>
<path d="M243.9,125.7A185.35,185.35 0 0 1 244.6,125.4" stroke="#f2f8fc"/>
<path d="M244.5,125.4A185.35,185.35 0 0 1 245.2,125.1" stroke="#f2f7fc"/>
<path d="M245.1,125.2A185.35,185.35 0 0 1 245.8,124.8" stroke="#f2f7fc"/>
<path d="M245.6,124.9A185.35,185.35 0 0 1 246.4,124.5" stroke="#eff5fb"/>
<path d="M246.2,124.6A185.35,185.35 0 0 1 247.0,124.2" stroke="#eff5fb"/>
<path d="M246.8,124.3A185.35,185.35 0 0 1 247.5,124.0" stroke="#eaf2fa"/>
<path d="M247.4,124.0A185.35,185.35 0 0 1 248.1,123.7" stroke="#eff5fb"/>
<path d="M248.0,123.8A185.35,185.35 0 0 1 248.7,123.4" stroke="#e9f1f9"/>
<path d="M248.6,123.5A185.35,185.35 0 0 1 249.3,123.1" stroke="#edf4fb"/>
<path d="M249.1,123.2A185.35,185.35 0 0 1 249.9,122.9" stroke="#dbe9f6"/>
<path d="M249.7,122.9A185.35,185.35 0 0 1 250.5,122.6" stroke="#e9f2fa"/>
<path d="M250.3,122.7A185.35,185.35 0 0 1 251.1,122.3" stroke="#e8f1f9"/>
<path d="M250.9,122.4A185.35,185.35 0 0 1 251.7,122.1" stroke="#edf4fb"/>
<path d="M251.5,122.1A185.35,185.35 0 0 1 252.2,121.8" stroke="#e5eff9"/>
<path d="M252.1,121.9A185.35,185.35 0 0 1 252.8,121.6" stroke="#e6f0f9"/>
<path d="M252.7,121.6A185.35,185.35 0 0 1 253.4,121.3" stroke="#e0ecf7"/>
<path d="M253.3,121.4A185.35,185.35 0 0 1 254.0,121.0" stroke="#e3eef8"/>
<path d="M253.9,121.1A185.35,185.35 0 0 1 254.6,120.8" stroke="#e8f1f9"/>
<path d="M254.5,120.9A185.35,185.35 0 0 1 255.2,120.5" stroke="#dfebf7"/>
<path d="M255.1,120.6A185.35,185.35 0 0 1 255.8,120.3" stroke="#e6f0f9"/>
<path d="M255.7,120.4A185.35,185.35 0 0 1 256.4,120.1" stroke="#eaf2fa"/>
<path d="M256.3,120.1A185.35,185.35 0 0 1 257.0,119.8" stroke="#ebf3fa"/>
<path d="M256.9,119.9A185.35,185.35 0 0 1 257.6,119.6" stroke="#deebf6"/>
<path d="M257.5,119.6A185.35,185.35 0 0 1 258.2,119.3" stroke="#e2edf7"/>
<path d="M258.1,119.4A185.35,185.35 0 0 1 258.8,119.1" stroke="#e6f0f9"/>
<path d="M258.7,119.1A185.35,185.35 0 0 1 259.4,118.9" stroke="#e7f0f9"/>
<path d="M259.3,118.9A185.35,185.35 0 0 1 260.0,118.6" stroke="#dae8f5"/>
<path d="M259.9,118.7A185.35,185.35 0 0 1 260.6,118.4" stroke="#e5eff9"/>
<path d="M260.5,118.4A185.35,185.35 0 0 1 261.2,118.2" stroke="#deebf7"/>
<path d="M261.1,118.2A185.35,185.35 0 0 1 261.8,117.9" stroke="#d7e7f4"/>
<path d="M261.7,118.0A185.35,185.35 0 0 1 262.4,117.7" stroke="#88b3db"/>
<path d="M262.3,117.8A185.35,185.35 0 0 1 263.1,117.5" stroke="#cadef1"/>
<path d="M262.9,117.5A185.35,185.35 0 0 1 263.7,117.3" stroke="#cee1f2"/>
<path d="M263.5,117.3A185.35,185.35 0 0 1 264.3,117.0" stroke="#d6e6f4"/>
<path d="M264.1,117.1A185.35,185.35 0 0 1 264.9,116.8" stroke="#c1d9ee"/>
<path d="M264.7,116.9A185.35,185.35 0 0 1 265.5,116.6" stroke="#bed6ed"/>
<path d="M265.3,116.7A185.35,185.35 0 0 1 266.1,116.4" stroke="#c4daef"/>
<path d="M266.0,116.5A185.35,185.35 0 0 1 266.7,116.2" stroke="#b7d2ea"/>
<path d="M266.6,116.2A185.35,185.35 0 0 1 267.3,116.0" stroke="#b6d1ea"/>
<path d="M267.2,116.0A185.35,185.35 0 0 1 267.9,115.8" stroke="#cbdff1"/>
<path d="M267.8,115.8A185.35,185.35 0 0 1 268.6,115.6" stroke="#c8ddf0"/>
<path d="M268.4,115.6A185.35,185.35 0 0 1 269.2,115.4" stroke="#b8d3eb"/>
<path d="M269.0,115.4A185.35,185.35 0 0 1 269.8,115.2" stroke="#b3d0e9"/>
<path d="M269.6,115.2A185.35,185.35 0 0 1 270.4,115.0" stroke="#c7dcf0"/>
<path d="M270.2,115.0A185.35,185.35 0 0 1 270.9,114.8" stroke="#96bcdf"/>
</g>
<g fill="none" stroke="#3a3a3a" stroke-width="0.9">
<path d="M292.2,98.4A196.2,196.2 0 0 1 343.4,96.1L341.5,117.7A174.5,174.5 0 0 0 296.0,119.8Z"/>
<path d="M355.6,97.6A196.2,196.2 0 0 1 396.9,108.4L389.1,128.7A174.5,174.5 0 0 0 352.4,119.0Z"/>
<path d="M408.6,113.4A196.2,196.2 0 0 1 460.4,148.1L445.6,164.0A174.5,174.5 0 0 0 399.5,133.1Z"/>
<path d="M469.4,157.0A196.2,196.2 0 0 1 507.9,216.5L487.8,224.8A174.5,174.5 0 0 0 453.6,171.9Z"/>
<path d="M512.3,228.4A196.2,196.2 0 0 1 522.7,285.1L501.0,285.8A174.5,174.5 0 0 0 491.8,235.4Z"/>
<path d="M522.7,297.8A196.2,196.2 0 0 1 519.2,329.0L497.9,324.9A174.5,174.5 0 0 0 501.0,297.1Z"/>
<path d="M516.4,341.4A196.2,196.2 0 0 1 487.7,403.6L469.9,391.2A174.5,174.5 0 0 0 495.4,335.9Z"/>
<path d="M480.1,413.7A196.2,196.2 0 0 1 428.8,459.1L417.5,440.5A174.5,174.5 0 0 0 463.2,400.2Z"/>
<path d="M417.5,465.5A196.2,196.2 0 0 1 349.5,486.5L347.0,464.9A174.5,174.5 0 0 0 407.4,446.2Z"/>
<path d="M337.2,487.5A196.2,196.2 0 0 1 268.1,478.9L274.6,458.2A174.5,174.5 0 0 0 336.0,465.8Z"/>
<path d="M256.6,474.9A196.2,196.2 0 0 1 204.5,445.1L218.0,428.2A174.5,174.5 0 0 0 264.3,454.6Z"/>
<path d="M195.1,437.2A196.2,196.2 0 0 1 158.6,392.9L177.2,381.7A174.5,174.5 0 0 0 209.6,421.1Z"/>
<path d="M152.6,382.2A196.2,196.2 0 0 1 136.1,338.4L157.1,333.2A174.5,174.5 0 0 0 171.8,372.2Z"/>
<path d="M133.6,326.7A196.2,196.2 0 0 1 131.5,270.8L153.1,273.1A174.5,174.5 0 0 0 154.9,322.8Z"/>
<path d="M133.2,258.5A196.2,196.2 0 0 1 152.9,200.4L172.1,210.5A174.5,174.5 0 0 0 154.6,262.2Z"/>
<path d="M159.3,189.1A196.2,196.2 0 0 1 195.6,145.6L210.1,161.7A174.5,174.5 0 0 0 177.8,200.4Z"/>
<path d="M205.5,137.2A196.2,196.2 0 0 1 225.5,123.4L236.7,142.0A174.5,174.5 0 0 0 218.9,154.3Z"/>
<path d="M236.6,117.3A196.2,196.2 0 0 1 267.6,104.5L274.1,125.2A174.5,174.5 0 0 0 246.6,136.5Z"/>
</g>
<defs><pattern id="hatch" width="2.2" height="2.2" patternUnits="userSpaceOnUse" patternTransform="rotate(35)"><rect width="2.2" height="2.2" fill="#e8e8e8"/><rect width="0.9" height="2.2" fill="#333"/></pattern></defs>
<path d="M279.0,101.3A196.2,196.2 0 0 1 281.3,100.7L286.3,121.8A174.5,174.5 0 0 0 284.2,122.3Z" fill="url(#hatch)" stroke="#333" stroke-width="0.8"/>
<g fill="#9b9b9b" stroke="#2e2e2e" stroke-width="0.9">
<path d="M285.3,59.9A235.3,235.3 0 0 1 346.7,57.2L344.9,78.4A214.0,214.0 0 0 0 289.1,80.9Z"/>
<path d="M361.4,58.9A235.3,235.3 0 0 1 410.9,71.9L403.3,91.8A214.0,214.0 0 0 0 358.2,80.0Z"/>
<path d="M424.9,77.8A235.3,235.3 0 0 1 487.1,119.5L472.5,135.1A214.0,214.0 0 0 0 416.0,97.2Z"/>
<path d="M497.8,130.2A235.3,235.3 0 0 1 544.0,201.6L524.3,209.7A214.0,214.0 0 0 0 482.3,144.8Z"/>
<path d="M549.3,215.8A235.3,235.3 0 0 1 561.8,283.8L540.5,284.5A214.0,214.0 0 0 0 529.2,222.6Z"/>
<path d="M561.8,299.0A235.3,235.3 0 0 1 557.6,336.5L536.7,332.4A214.0,214.0 0 0 0 540.5,298.3Z"/>
<path d="M554.2,351.3A235.3,235.3 0 0 1 519.8,425.9L502.3,413.7A214.0,214.0 0 0 0 533.6,345.9Z"/>
<path d="M510.7,438.1A235.3,235.3 0 0 1 449.2,492.4L438.1,474.3A214.0,214.0 0 0 0 494.1,424.8Z"/>
<path d="M435.6,500.1A235.3,235.3 0 0 1 354.1,525.3L351.6,504.1A214.0,214.0 0 0 0 425.7,481.2Z"/>
<path d="M339.3,526.6A235.3,235.3 0 0 1 256.4,516.2L262.8,495.9A214.0,214.0 0 0 0 338.2,505.3Z"/>
<path d="M242.7,511.4A235.3,235.3 0 0 1 180.1,475.7L193.4,459.1A214.0,214.0 0 0 0 250.3,491.5Z"/>
<path d="M168.8,466.2A235.3,235.3 0 0 1 125.1,413.1L143.4,402.1A214.0,214.0 0 0 0 183.1,450.4Z"/>
<path d="M117.9,400.2A235.3,235.3 0 0 1 98.1,347.7L118.8,342.6A214.0,214.0 0 0 0 136.8,390.4Z"/>
<path d="M95.1,333.7A235.3,235.3 0 0 1 92.6,266.6L113.8,268.9A214.0,214.0 0 0 0 116.0,329.9Z"/>
<path d="M94.7,252.0A235.3,235.3 0 0 1 118.3,182.2L137.1,192.1A214.0,214.0 0 0 0 115.7,255.5Z"/>
<path d="M126.0,168.7A235.3,235.3 0 0 1 169.5,116.5L183.7,132.3A214.0,214.0 0 0 0 144.1,179.8Z"/>
<path d="M181.4,106.4A235.3,235.3 0 0 1 205.4,89.9L216.4,108.2A214.0,214.0 0 0 0 194.6,123.2Z"/>
<path d="M218.7,82.5A235.3,235.3 0 0 1 255.8,67.2L262.2,87.5A214.0,214.0 0 0 0 228.4,101.4Z"/>
<path d="M270.5,63.1A235.3,235.3 0 0 1 271.3,62.9L276.3,83.6A214.0,214.0 0 0 0 275.6,83.8Z"/>
</g>
<g stroke="#222" stroke-width="0.8">
<line x1="289.1" y1="80.9" x2="290.3" y2="87.8"/>
<line x1="292.7" y1="80.3" x2="293.4" y2="84.2"/>
<line x1="296.4" y1="79.7" x2="296.9" y2="83.7"/>
<line x1="300.0" y1="79.3" x2="300.5" y2="83.2"/>
<line x1="303.7" y1="78.8" x2="304.1" y2="82.8"/>
<line x1="307.4" y1="78.5" x2="308.0" y2="85.4"/>
<line x1="311.1" y1="78.2" x2="311.4" y2="82.2"/>
<line x1="314.8" y1="77.9" x2="315.0" y2="81.9"/>
<line x1="318.5" y1="77.8" x2="318.6" y2="81.8"/>
<line x1="322.2" y1="77.6" x2="322.2" y2="81.6"/>
<line x1="325.9" y1="77.6" x2="325.9" y2="84.6"/>
<line x1="329.6" y1="77.6" x2="329.5" y2="81.6"/>
<line x1="333.2" y1="77.7" x2="333.1" y2="81.7"/>
<line x1="336.9" y1="77.9" x2="336.7" y2="81.8"/>
<line x1="340.6" y1="78.1" x2="340.4" y2="82.1"/>
<line x1="358.2" y1="80.0" x2="357.2" y2="86.9"/>
<line x1="361.9" y1="80.5" x2="361.2" y2="84.5"/>
<line x1="365.5" y1="81.2" x2="364.8" y2="85.1"/>
<line x1="369.2" y1="81.9" x2="368.4" y2="85.8"/>
<line x1="372.8" y1="82.6" x2="371.9" y2="86.5"/>
<line x1="376.4" y1="83.5" x2="374.7" y2="90.3"/>
<line x1="380.0" y1="84.4" x2="379.0" y2="88.2"/>
<line x1="383.5" y1="85.3" x2="382.5" y2="89.2"/>
<line x1="387.1" y1="86.3" x2="386.0" y2="90.2"/>
<line x1="390.6" y1="87.4" x2="389.4" y2="91.2"/>
<line x1="394.1" y1="88.5" x2="391.9" y2="95.2"/>
<line x1="397.6" y1="89.7" x2="396.3" y2="93.5"/>
<line x1="401.1" y1="91.0" x2="399.7" y2="94.7"/>
<line x1="416.0" y1="97.2" x2="413.1" y2="103.5"/>
<line x1="419.4" y1="98.8" x2="417.6" y2="102.4"/>
<line x1="422.7" y1="100.4" x2="420.9" y2="104.0"/>
<line x1="426.0" y1="102.1" x2="424.1" y2="105.6"/>
<line x1="429.2" y1="103.8" x2="427.3" y2="107.3"/>
<line x1="432.5" y1="105.6" x2="429.0" y2="111.7"/>
<line x1="435.7" y1="107.5" x2="433.6" y2="110.9"/>
<line x1="438.8" y1="109.4" x2="436.7" y2="112.8"/>
<line x1="442.0" y1="111.4" x2="439.8" y2="114.7"/>
<line x1="445.1" y1="113.4" x2="442.8" y2="116.7"/>
<line x1="448.1" y1="115.4" x2="444.1" y2="121.2"/>
<line x1="451.1" y1="117.6" x2="448.8" y2="120.8"/>
<line x1="454.1" y1="119.8" x2="451.7" y2="123.0"/>
<line x1="457.1" y1="122.0" x2="454.6" y2="125.2"/>
<line x1="460.0" y1="124.3" x2="457.5" y2="127.4"/>
<line x1="462.9" y1="126.6" x2="458.4" y2="132.0"/>
<line x1="465.7" y1="129.0" x2="463.1" y2="132.0"/>
<line x1="468.5" y1="131.4" x2="465.8" y2="134.4"/>
<line x1="471.2" y1="133.9" x2="468.5" y2="136.8"/>
<line x1="482.3" y1="144.8" x2="477.2" y2="149.6"/>
<line x1="484.9" y1="147.5" x2="481.9" y2="150.2"/>
<line x1="487.3" y1="150.3" x2="484.3" y2="152.9"/>
<line x1="489.7" y1="153.1" x2="486.7" y2="155.7"/>
<line x1="492.1" y1="155.9" x2="489.0" y2="158.5"/>
<line x1="494.4" y1="158.8" x2="488.9" y2="163.2"/>
<line x1="496.7" y1="161.7" x2="493.5" y2="164.2"/>
<line x1="498.9" y1="164.7" x2="495.7" y2="167.1"/>
<line x1="501.1" y1="167.7" x2="497.8" y2="170.0"/>
<line x1="503.2" y1="170.7" x2="499.9" y2="173.0"/>
<line x1="505.3" y1="173.8" x2="499.4" y2="177.7"/>
<line x1="507.3" y1="176.9" x2="503.9" y2="179.0"/>
<line x1="509.2" y1="180.0" x2="505.8" y2="182.1"/>
<line x1="511.1" y1="183.2" x2="507.7" y2="185.2"/>
<line x1="513.0" y1="186.4" x2="509.5" y2="188.4"/>
<line x1="514.8" y1="189.7" x2="508.6" y2="193.0"/>
<line x1="516.5" y1="192.9" x2="512.9" y2="194.8"/>
<line x1="518.2" y1="196.2" x2="514.6" y2="198.0"/>
<line x1="519.8" y1="199.5" x2="516.2" y2="201.3"/>
<line x1="521.3" y1="202.9" x2="517.7" y2="204.5"/>
<line x1="522.9" y1="206.3" x2="516.4" y2="209.1"/>
<line x1="524.3" y1="209.7" x2="520.6" y2="211.2"/>
<line x1="529.2" y1="222.6" x2="522.6" y2="224.9"/>
<line x1="530.3" y1="226.1" x2="526.5" y2="227.4"/>
<line x1="531.4" y1="229.7" x2="527.6" y2="230.8"/>
<line x1="532.5" y1="233.2" x2="528.6" y2="234.3"/>
<line x1="533.5" y1="236.8" x2="529.6" y2="237.8"/>
<line x1="534.4" y1="240.4" x2="527.6" y2="242.0"/>
<line x1="535.2" y1="244.0" x2="531.3" y2="244.9"/>
<line x1="536.0" y1="247.6" x2="532.1" y2="248.4"/>
<line x1="536.8" y1="251.2" x2="532.8" y2="252.0"/>
<line x1="537.4" y1="254.8" x2="533.5" y2="255.5"/>
<line x1="538.0" y1="258.5" x2="531.1" y2="259.6"/>
<line x1="538.6" y1="262.1" x2="534.6" y2="262.7"/>
<line x1="539.0" y1="265.8" x2="535.1" y2="266.3"/>
<line x1="539.5" y1="269.5" x2="535.5" y2="269.9"/>
<line x1="539.8" y1="273.2" x2="535.8" y2="273.5"/>
<line x1="540.1" y1="276.9" x2="533.1" y2="277.3"/>
<line x1="540.3" y1="280.5" x2="536.3" y2="280.8"/>
<line x1="540.5" y1="284.2" x2="536.5" y2="284.4"/>
<line x1="540.5" y1="298.3" x2="533.5" y2="298.1"/>
<line x1="540.3" y1="302.0" x2="536.4" y2="301.8"/>
<line x1="540.1" y1="305.7" x2="536.1" y2="305.4"/>
<line x1="539.9" y1="309.4" x2="535.9" y2="309.1"/>
<line x1="539.5" y1="313.1" x2="535.5" y2="312.7"/>
<line x1="539.1" y1="316.8" x2="532.2" y2="315.9"/>
<line x1="538.7" y1="320.4" x2="534.7" y2="319.9"/>
<line x1="538.1" y1="324.1" x2="534.2" y2="323.5"/>
<line x1="537.5" y1="327.7" x2="533.6" y2="327.1"/>
<line x1="536.9" y1="331.4" x2="532.9" y2="330.6"/>
<line x1="533.6" y1="345.9" x2="526.8" y2="344.1"/>
<line x1="532.6" y1="349.5" x2="528.8" y2="348.4"/>
<line x1="531.6" y1="353.0" x2="527.8" y2="351.9"/>
<line x1="530.5" y1="356.6" x2="526.7" y2="355.3"/>
<line x1="529.4" y1="360.1" x2="525.6" y2="358.8"/>
<line x1="528.1" y1="363.6" x2="521.5" y2="361.2"/>
<line x1="526.9" y1="367.0" x2="523.1" y2="365.6"/>
<line x1="525.5" y1="370.5" x2="521.8" y2="369.0"/>
<line x1="524.1" y1="373.9" x2="520.4" y2="372.4"/>
<line x1="522.7" y1="377.3" x2="519.0" y2="375.7"/>
<line x1="521.2" y1="380.7" x2="514.8" y2="377.8"/>
<line x1="519.6" y1="384.0" x2="516.0" y2="382.3"/>
<line x1="518.0" y1="387.4" x2="514.4" y2="385.6"/>
<line x1="516.3" y1="390.6" x2="512.8" y2="388.8"/>
<line x1="514.6" y1="393.9" x2="511.0" y2="392.0"/>
<line x1="512.8" y1="397.1" x2="506.7" y2="393.7"/>
<line x1="510.9" y1="400.3" x2="507.5" y2="398.3"/>
<line x1="509.0" y1="403.5" x2="505.6" y2="401.4"/>
<line x1="507.0" y1="406.6" x2="503.7" y2="404.5"/>
<line x1="505.0" y1="409.7" x2="501.7" y2="407.5"/>
<line x1="503.0" y1="412.8" x2="497.2" y2="408.8"/>
<line x1="494.1" y1="424.8" x2="488.6" y2="420.5"/>
<line x1="491.8" y1="427.7" x2="488.7" y2="425.1"/>
<line x1="489.4" y1="430.5" x2="486.3" y2="427.9"/>
<line x1="487.0" y1="433.3" x2="484.0" y2="430.7"/>
<line x1="484.5" y1="436.1" x2="481.5" y2="433.4"/>
<line x1="482.0" y1="438.8" x2="476.9" y2="434.0"/>
<line x1="479.4" y1="441.4" x2="476.5" y2="438.6"/>
<line x1="476.8" y1="444.1" x2="474.0" y2="441.2"/>
<line x1="474.1" y1="446.6" x2="471.4" y2="443.7"/>
<line x1="471.4" y1="449.2" x2="468.7" y2="446.2"/>
<line x1="468.7" y1="451.6" x2="464.0" y2="446.4"/>
<line x1="465.9" y1="454.1" x2="463.3" y2="451.0"/>
<line x1="463.1" y1="456.4" x2="460.5" y2="453.4"/>
<line x1="460.2" y1="458.8" x2="457.7" y2="455.7"/>
<line x1="457.3" y1="461.1" x2="454.8" y2="457.9"/>
<line x1="454.3" y1="463.3" x2="450.2" y2="457.7"/>
<line x1="451.4" y1="465.5" x2="449.0" y2="462.2"/>
<line x1="448.3" y1="467.6" x2="446.1" y2="464.3"/>
<line x1="445.3" y1="469.7" x2="443.1" y2="466.4"/>
<line x1="442.2" y1="471.7" x2="440.0" y2="468.3"/>
<line x1="425.7" y1="481.2" x2="422.5" y2="475.0"/>
<line x1="422.5" y1="482.9" x2="420.7" y2="479.4"/>
<line x1="419.1" y1="484.6" x2="417.4" y2="481.0"/>
<line x1="415.8" y1="486.1" x2="414.1" y2="482.5"/>
<line x1="412.4" y1="487.6" x2="410.8" y2="484.0"/>
<line x1="409.0" y1="489.1" x2="406.3" y2="482.6"/>
<line x1="405.6" y1="490.5" x2="404.1" y2="486.8"/>
<line x1="402.1" y1="491.8" x2="400.7" y2="488.1"/>
<line x1="398.7" y1="493.1" x2="397.3" y2="489.3"/>
<line x1="395.2" y1="494.3" x2="393.9" y2="490.5"/>
<line x1="391.7" y1="495.5" x2="389.5" y2="488.8"/>
<line x1="388.1" y1="496.6" x2="387.0" y2="492.7"/>
<line x1="384.6" y1="497.6" x2="383.5" y2="493.7"/>
<line x1="381.0" y1="498.6" x2="380.0" y2="494.7"/>
<line x1="377.4" y1="499.5" x2="376.5" y2="495.6"/>
<line x1="373.8" y1="500.3" x2="372.3" y2="493.5"/>
<line x1="370.2" y1="501.1" x2="369.4" y2="497.2"/>
<line x1="366.6" y1="501.8" x2="365.8" y2="497.9"/>
<line x1="363.0" y1="502.5" x2="362.3" y2="498.5"/>
<line x1="359.3" y1="503.1" x2="358.7" y2="499.1"/>
<line x1="355.6" y1="503.6" x2="354.7" y2="496.7"/>
<line x1="352.0" y1="504.1" x2="351.5" y2="500.1"/>
<line x1="338.2" y1="505.3" x2="337.8" y2="498.3"/>
<line x1="334.5" y1="505.5" x2="334.3" y2="501.5"/>
<line x1="330.8" y1="505.6" x2="330.7" y2="501.6"/>
<line x1="327.1" y1="505.6" x2="327.1" y2="501.6"/>
<line x1="323.4" y1="505.6" x2="323.4" y2="501.6"/>
<line x1="319.7" y1="505.5" x2="319.9" y2="498.5"/>
<line x1="316.0" y1="505.3" x2="316.2" y2="501.3"/>
<line x1="312.3" y1="505.1" x2="312.6" y2="501.1"/>
<line x1="308.6" y1="504.8" x2="309.0" y2="500.9"/>
<line x1="304.9" y1="504.5" x2="305.3" y2="500.5"/>
<line x1="301.3" y1="504.1" x2="302.1" y2="497.1"/>
<line x1="297.6" y1="503.6" x2="298.1" y2="499.7"/>
<line x1="293.9" y1="503.1" x2="294.5" y2="499.1"/>
<line x1="290.3" y1="502.5" x2="291.0" y2="498.6"/>
<line x1="286.6" y1="501.8" x2="287.4" y2="497.9"/>
<line x1="283.0" y1="501.1" x2="284.4" y2="494.3"/>
<line x1="279.4" y1="500.3" x2="280.3" y2="496.4"/>
<line x1="275.8" y1="499.5" x2="276.8" y2="495.6"/>
<line x1="272.2" y1="498.6" x2="273.2" y2="494.7"/>
<line x1="268.7" y1="497.6" x2="269.7" y2="493.8"/>
<line x1="265.1" y1="496.6" x2="267.1" y2="489.9"/>
<line x1="250.3" y1="491.5" x2="252.8" y2="485.0"/>
<line x1="246.8" y1="490.2" x2="248.3" y2="486.5"/>
<line x1="243.4" y1="488.8" x2="245.0" y2="485.1"/>
<line x1="240.0" y1="487.3" x2="241.6" y2="483.6"/>
<line x1="236.6" y1="485.8" x2="238.3" y2="482.1"/>
<line x1="233.3" y1="484.2" x2="236.3" y2="477.9"/>
<line x1="230.0" y1="482.5" x2="231.8" y2="479.0"/>
<line x1="226.7" y1="480.8" x2="228.6" y2="477.3"/>
<line x1="223.4" y1="479.1" x2="225.4" y2="475.6"/>
<line x1="220.2" y1="477.3" x2="222.2" y2="473.8"/>
<line x1="217.0" y1="475.4" x2="220.6" y2="469.4"/>
<line x1="213.9" y1="473.5" x2="216.0" y2="470.1"/>
<line x1="210.7" y1="471.5" x2="212.9" y2="468.2"/>
<line x1="207.6" y1="469.5" x2="209.9" y2="466.2"/>
<line x1="204.6" y1="467.4" x2="206.9" y2="464.1"/>
<line x1="201.6" y1="465.3" x2="205.7" y2="459.6"/>
<line x1="198.6" y1="463.1" x2="201.0" y2="459.9"/>
<line x1="195.6" y1="460.9" x2="198.1" y2="457.7"/>
<line x1="183.1" y1="450.4" x2="187.8" y2="445.2"/>
<line x1="180.4" y1="447.9" x2="183.1" y2="445.0"/>
<line x1="177.7" y1="445.3" x2="180.5" y2="442.5"/>
<line x1="175.1" y1="442.7" x2="177.9" y2="439.9"/>
<line x1="172.5" y1="440.1" x2="175.4" y2="437.3"/>
<line x1="170.0" y1="437.4" x2="175.1" y2="432.6"/>
<line x1="167.5" y1="434.7" x2="170.4" y2="432.0"/>
<line x1="165.0" y1="431.9" x2="168.0" y2="429.3"/>
<line x1="162.6" y1="429.1" x2="165.7" y2="426.5"/>
<line x1="160.3" y1="426.2" x2="163.4" y2="423.7"/>
<line x1="158.0" y1="423.4" x2="163.5" y2="419.0"/>
<line x1="155.7" y1="420.4" x2="158.9" y2="418.0"/>
<line x1="153.5" y1="417.4" x2="156.7" y2="415.1"/>
<line x1="151.4" y1="414.4" x2="154.6" y2="412.1"/>
<line x1="149.3" y1="411.4" x2="152.6" y2="409.2"/>
<line x1="147.2" y1="408.3" x2="153.1" y2="404.5"/>
<line x1="145.2" y1="405.2" x2="148.6" y2="403.1"/>
<line x1="136.8" y1="390.4" x2="143.0" y2="387.2"/>
<line x1="135.1" y1="387.1" x2="138.7" y2="385.3"/>
<line x1="133.5" y1="383.8" x2="137.1" y2="382.1"/>
<line x1="131.9" y1="380.4" x2="135.6" y2="378.8"/>
<line x1="130.4" y1="377.1" x2="134.1" y2="375.5"/>
<line x1="129.0" y1="373.7" x2="135.4" y2="371.0"/>
<line x1="127.6" y1="370.2" x2="131.3" y2="368.8"/>
<line x1="126.2" y1="366.8" x2="130.0" y2="365.4"/>
<line x1="125.0" y1="363.3" x2="128.7" y2="362.0"/>
<line x1="123.8" y1="359.8" x2="127.6" y2="358.5"/>
<line x1="122.6" y1="356.3" x2="129.3" y2="354.2"/>
<line x1="121.5" y1="352.8" x2="125.4" y2="351.6"/>
<line x1="120.5" y1="349.2" x2="124.4" y2="348.1"/>
<line x1="119.5" y1="345.7" x2="123.4" y2="344.6"/>
<line x1="116.0" y1="329.9" x2="122.9" y2="328.6"/>
<line x1="115.4" y1="326.2" x2="119.4" y2="325.6"/>
<line x1="114.9" y1="322.6" x2="118.8" y2="322.0"/>
<line x1="114.3" y1="318.9" x2="118.3" y2="318.4"/>
<line x1="113.9" y1="315.2" x2="117.9" y2="314.8"/>
<line x1="113.5" y1="311.6" x2="120.5" y2="310.9"/>
<line x1="113.2" y1="307.9" x2="117.2" y2="307.6"/>
<line x1="113.0" y1="304.2" x2="117.0" y2="303.9"/>
<line x1="112.8" y1="300.5" x2="116.8" y2="300.3"/>
<line x1="112.7" y1="296.8" x2="116.7" y2="296.7"/>
<line x1="112.6" y1="293.1" x2="119.6" y2="293.0"/>
<line x1="112.6" y1="289.4" x2="116.6" y2="289.4"/>
<line x1="112.7" y1="285.7" x2="116.7" y2="285.8"/>
<line x1="112.8" y1="282.0" x2="116.8" y2="282.2"/>
<line x1="113.0" y1="278.3" x2="117.0" y2="278.6"/>
<line x1="113.3" y1="274.6" x2="120.3" y2="275.2"/>
<line x1="113.6" y1="270.9" x2="117.6" y2="271.3"/>
<line x1="115.7" y1="255.5" x2="122.6" y2="256.7"/>
<line x1="116.3" y1="251.9" x2="120.2" y2="252.6"/>
<line x1="117.0" y1="248.3" x2="120.9" y2="249.1"/>
<line x1="117.8" y1="244.7" x2="121.7" y2="245.5"/>
<line x1="118.7" y1="241.1" x2="122.5" y2="242.0"/>
<line x1="119.6" y1="237.5" x2="126.3" y2="239.2"/>
<line x1="120.5" y1="233.9" x2="124.4" y2="235.0"/>
<line x1="121.6" y1="230.4" x2="125.4" y2="231.5"/>
<line x1="122.6" y1="226.8" x2="126.5" y2="228.0"/>
<line x1="123.8" y1="223.3" x2="127.6" y2="224.6"/>
<line x1="125.0" y1="219.8" x2="131.6" y2="222.2"/>
<line x1="126.3" y1="216.3" x2="130.0" y2="217.7"/>
<line x1="127.6" y1="212.9" x2="131.3" y2="214.4"/>
<line x1="129.0" y1="209.5" x2="132.7" y2="211.0"/>
<line x1="130.4" y1="206.1" x2="134.1" y2="207.7"/>
<line x1="131.9" y1="202.7" x2="138.3" y2="205.6"/>
<line x1="133.5" y1="199.3" x2="137.1" y2="201.1"/>
<line x1="135.1" y1="196.0" x2="138.7" y2="197.8"/>
<line x1="136.8" y1="192.7" x2="140.4" y2="194.6"/>
<line x1="144.1" y1="179.8" x2="150.1" y2="183.4"/>
<line x1="146.1" y1="176.6" x2="149.5" y2="178.8"/>
<line x1="148.1" y1="173.5" x2="151.4" y2="175.8"/>
<line x1="150.2" y1="170.5" x2="153.5" y2="172.7"/>
<line x1="152.3" y1="167.5" x2="155.6" y2="169.8"/>
<line x1="154.5" y1="164.5" x2="160.1" y2="168.6"/>
<line x1="156.7" y1="161.5" x2="159.9" y2="163.9"/>
<line x1="159.0" y1="158.6" x2="162.1" y2="161.1"/>
<line x1="161.3" y1="155.7" x2="164.4" y2="158.2"/>
<line x1="163.7" y1="152.9" x2="166.7" y2="155.5"/>
<line x1="166.1" y1="150.1" x2="171.3" y2="154.7"/>
<line x1="168.5" y1="147.3" x2="171.5" y2="150.0"/>
<line x1="171.1" y1="144.6" x2="174.0" y2="147.4"/>
<line x1="173.6" y1="142.0" x2="176.5" y2="144.7"/>
<line x1="176.2" y1="139.3" x2="179.0" y2="142.2"/>
<line x1="178.9" y1="136.8" x2="183.7" y2="141.8"/>
<line x1="181.6" y1="134.2" x2="184.3" y2="137.2"/>
<line x1="194.6" y1="123.2" x2="198.9" y2="128.7"/>
<line x1="197.5" y1="120.9" x2="199.9" y2="124.1"/>
<line x1="200.5" y1="118.7" x2="202.8" y2="122.0"/>
<line x1="203.5" y1="116.6" x2="205.8" y2="119.9"/>
<line x1="206.5" y1="114.5" x2="208.7" y2="117.8"/>
<line x1="209.6" y1="112.4" x2="213.4" y2="118.3"/>
<line x1="212.7" y1="110.4" x2="214.8" y2="113.8"/>
<line x1="215.8" y1="108.5" x2="217.9" y2="111.9"/>
<line x1="228.4" y1="101.4" x2="231.7" y2="107.7"/>
<line x1="231.7" y1="99.8" x2="233.5" y2="103.4"/>
<line x1="235.1" y1="98.2" x2="236.8" y2="101.8"/>
<line x1="238.4" y1="96.6" x2="240.1" y2="100.3"/>
<line x1="241.8" y1="95.1" x2="243.4" y2="98.8"/>
<line x1="245.2" y1="93.7" x2="247.9" y2="100.2"/>
<line x1="248.7" y1="92.3" x2="250.1" y2="96.0"/>
<line x1="252.1" y1="91.0" x2="253.5" y2="94.7"/>
<line x1="255.6" y1="89.7" x2="256.9" y2="93.5"/>
<line x1="259.1" y1="88.5" x2="260.3" y2="92.3"/>
<line x1="275.9" y1="83.7" x2="277.6" y2="90.5"/>
</g>
<g font-family="Liberation Sans, Arial, sans-serif" font-size="6.6" fill="#222" text-anchor="middle">
<text x="291.3" y="93.5" dy="2.3" transform="rotate(-10.1 291.3 93.5)">0</text>
<text x="308.5" y="91.2" dy="2.3" transform="rotate(-5.2 308.5 91.2)">25</text>
<text x="325.9" y="90.4" dy="2.3" transform="rotate(-0.2 325.9 90.4)">50</text>
<text x="356.3" y="92.6" dy="2.3" transform="rotate(8.5 356.3 92.6)">0</text>
<text x="373.4" y="95.9" dy="2.3" transform="rotate(13.4 373.4 95.9)">25</text>
<text x="390.1" y="100.7" dy="2.3" transform="rotate(18.4 390.1 100.7)">50</text>
<text x="410.7" y="108.8" dy="2.3" transform="rotate(24.7 410.7 108.8)">0</text>
<text x="426.1" y="116.7" dy="2.3" transform="rotate(29.6 426.1 116.7)">25</text>
<text x="440.9" y="126.0" dy="2.3" transform="rotate(34.6 440.9 126.0)">50</text>
<text x="454.7" y="136.5" dy="2.3" transform="rotate(39.5 454.7 136.5)">75</text>
<text x="473.0" y="153.6" dy="2.3" transform="rotate(46.7 473.0 153.6)">0</text>
<text x="484.4" y="166.8" dy="2.3" transform="rotate(51.7 484.4 166.8)">25</text>
<text x="494.6" y="180.8" dy="2.3" transform="rotate(56.6 494.6 180.8)">50</text>
<text x="503.5" y="195.7" dy="2.3" transform="rotate(61.6 503.5 195.7)">75</text>
<text x="511.1" y="211.4" dy="2.3" transform="rotate(66.5 511.1 211.4)">100</text>
<text x="517.1" y="226.8" dy="2.3" transform="rotate(71.2 517.1 226.8)">0</text>
<text x="522.0" y="243.4" dy="2.3" transform="rotate(76.2 522.0 243.4)">25</text>
<text x="525.4" y="260.5" dy="2.3" transform="rotate(81.1 525.4 260.5)">50</text>
<text x="527.3" y="277.7" dy="2.3" transform="rotate(86.1 527.3 277.7)">75</text>
<text x="527.7" y="297.9" dy="2.3" transform="rotate(-88.2 527.7 297.9)">0</text>
<text x="526.4" y="315.2" dy="2.3" transform="rotate(-83.2 526.4 315.2)">25</text>
<text x="521.2" y="342.7" dy="2.3" transform="rotate(-75.3 521.2 342.7)">0</text>
<text x="516.1" y="359.3" dy="2.3" transform="rotate(-70.3 516.1 359.3)">25</text>
<text x="509.5" y="375.4" dy="2.3" transform="rotate(-65.4 509.5 375.4)">50</text>
<text x="501.6" y="390.8" dy="2.3" transform="rotate(-60.4 501.6 390.8)">75</text>
<text x="492.4" y="405.6" dy="2.3" transform="rotate(-55.5 492.4 405.6)">100</text>
<text x="484.1" y="416.8" dy="2.3" transform="rotate(-51.5 484.1 416.8)">0</text>
<text x="472.7" y="430.0" dy="2.3" transform="rotate(-46.6 472.7 430.0)">25</text>
<text x="460.2" y="442.1" dy="2.3" transform="rotate(-41.6 460.2 442.1)">50</text>
<text x="446.7" y="453.0" dy="2.3" transform="rotate(-36.7 446.7 453.0)">75</text>
<text x="419.8" y="469.9" dy="2.3" transform="rotate(-27.6 419.8 469.9)">0</text>
<text x="404.1" y="477.3" dy="2.3" transform="rotate(-22.7 404.1 477.3)">25</text>
<text x="387.8" y="483.3" dy="2.3" transform="rotate(-17.7 387.8 483.3)">50</text>
<text x="371.0" y="487.8" dy="2.3" transform="rotate(-12.8 371.0 487.8)">75</text>
<text x="353.9" y="490.9" dy="2.3" transform="rotate(-7.8 353.9 490.9)">100</text>
<text x="337.5" y="492.5" dy="2.3" transform="rotate(-3.1 337.5 492.5)">0</text>
<text x="320.1" y="492.7" dy="2.3" transform="rotate(1.8 320.1 492.7)">25</text>
<text x="302.8" y="491.4" dy="2.3" transform="rotate(6.8 302.8 491.4)">50</text>
<text x="285.6" y="488.6" dy="2.3" transform="rotate(11.8 285.6 488.6)">75</text>
<text x="268.8" y="484.3" dy="2.3" transform="rotate(16.7 268.8 484.3)">100</text>
<text x="254.8" y="479.6" dy="2.3" transform="rotate(20.9 254.8 479.6)">0</text>
<text x="238.9" y="472.7" dy="2.3" transform="rotate(25.8 238.9 472.7)">25</text>
<text x="223.6" y="464.4" dy="2.3" transform="rotate(30.8 223.6 464.4)">50</text>
<text x="209.0" y="454.9" dy="2.3" transform="rotate(35.8 209.0 454.9)">75</text>
<text x="191.7" y="440.9" dy="2.3" transform="rotate(42.1 191.7 440.9)">0</text>
<text x="179.3" y="428.7" dy="2.3" transform="rotate(47.0 179.3 428.7)">25</text>
<text x="168.1" y="415.5" dy="2.3" transform="rotate(52.0 168.1 415.5)">50</text>
<text x="158.0" y="401.3" dy="2.3" transform="rotate(56.9 158.0 401.3)">75</text>
<text x="148.1" y="384.5" dy="2.3" transform="rotate(62.5 148.1 384.5)">0</text>
<text x="140.8" y="368.8" dy="2.3" transform="rotate(67.4 140.8 368.8)">25</text>
<text x="134.8" y="352.4" dy="2.3" transform="rotate(72.4 134.8 352.4)">50</text>
<text x="128.6" y="327.6" dy="2.3" transform="rotate(79.7 128.6 327.6)">0</text>
<text x="126.3" y="310.4" dy="2.3" transform="rotate(84.6 126.3 310.4)">25</text>
<text x="125.4" y="293.0" dy="2.3" transform="rotate(89.6 125.4 293.0)">50</text>
<text x="126.0" y="275.6" dy="2.3" transform="rotate(-85.4 126.0 275.6)">75</text>
<text x="128.3" y="257.7" dy="2.3" transform="rotate(-80.3 128.3 257.7)">0</text>
<text x="131.9" y="240.7" dy="2.3" transform="rotate(-75.4 131.9 240.7)">25</text>
<text x="137.1" y="224.1" dy="2.3" transform="rotate(-70.4 137.1 224.1)">50</text>
<text x="143.6" y="208.0" dy="2.3" transform="rotate(-65.4 143.6 208.0)">75</text>
<text x="155.0" y="186.5" dy="2.3" transform="rotate(-58.5 155.0 186.5)">0</text>
<text x="164.8" y="172.1" dy="2.3" transform="rotate(-53.6 164.8 172.1)">25</text>
<text x="175.7" y="158.5" dy="2.3" transform="rotate(-48.6 175.7 158.5)">50</text>
<text x="187.7" y="146.0" dy="2.3" transform="rotate(-43.6 187.7 146.0)">75</text>
<text x="202.5" y="133.3" dy="2.3" transform="rotate(-38.1 202.5 133.3)">0</text>
<text x="216.6" y="123.1" dy="2.3" transform="rotate(-33.2 216.6 123.1)">25</text>
<text x="234.3" y="112.8" dy="2.3" transform="rotate(-27.3 234.3 112.8)">0</text>
<text x="250.1" y="105.5" dy="2.3" transform="rotate(-22.4 250.1 105.5)">25</text>
<text x="278.9" y="96.1" dy="2.3" transform="rotate(-13.7 278.9 96.1)">0</text>
</g>
<g font-family="Liberation Sans, Arial, sans-serif" font-size="12" font-weight="bold" fill="#111" text-anchor="middle">
<text x="316.5" y="69.5" dy="4.3" transform="rotate(-2.6 316.5 69.5)">Chr01</text>
<text x="383.2" y="76.6" dy="4.3" transform="rotate(14.8 383.2 76.6)">Chr02</text>
<text x="450.4" y="107.0" dy="4.3" transform="rotate(33.9 450.4 107.0)">Chr03</text>
<text x="513.2" y="170.9" dy="4.3" transform="rotate(57.1 513.2 170.9)">Chr04</text>
<text x="545.3" y="251.7" dy="4.3" transform="rotate(79.7 545.3 251.7)">Chr05</text>
<text x="547.5" y="316.4" dy="4.3" transform="rotate(-83.6 547.5 316.4)">Chr06</text>
<text x="528.5" y="384.7" dy="4.3" transform="rotate(-65.2 528.5 384.7)">Chr07</text>
<text x="473.8" y="458.2" dy="4.3" transform="rotate(-41.4 473.8 458.2)">Chr08</text>
<text x="392.2" y="504.0" dy="4.3" transform="rotate(-17.1 392.2 504.0)">Chr09</text>
<text x="299.0" y="512.2" dy="4.3" transform="rotate(7.1 299.0 512.2)">Chr10</text>
<text x="216.5" y="484.7" dy="4.3" transform="rotate(29.7 216.5 484.7)">Chr11</text>
<text x="155.1" y="433.0" dy="4.3" transform="rotate(50.5 155.1 433.0)">Chr12</text>
<text x="118.6" y="370.0" dy="4.3" transform="rotate(69.3 118.6 370.0)">Chr13</text>
<text x="104.4" y="299.7" dy="4.3" transform="rotate(87.9 104.4 299.7)">Chr14</text>
<text x="116.0" y="220.3" dy="4.3" transform="rotate(-71.3 116.0 220.3)">Chr15</text>
<text x="155.8" y="149.3" dy="4.3" transform="rotate(-50.2 155.8 149.3)">Chr16</text>
<text x="200.5" y="108.5" dy="4.3" transform="rotate(-34.6 200.5 108.5)">Chr17</text>
<text x="241.9" y="86.1" dy="4.3" transform="rotate(-22.4 241.9 86.1)">Chr18</text>
<text x="274.1" y="76.4" dy="3" font-size="8.6" transform="rotate(-13.7 274.1 76.4)">g16.13</text>
</g>
<g stroke="#333" stroke-width="0.7" fill="none">
<path d="M366.7,59.7L369.6,45.3"/>
<path d="M395.4,66.6L378.8,47.1"/>
<path d="M396.2,66.8L387.0,49.0"/>
<path d="M396.6,66.9L395.5,51.3"/>
<path d="M397.4,67.2L402.6,53.4"/>
<path d="M399.3,67.8L410.9,56.2"/>
<path d="M402.8,69.0L419.4,59.5"/>
<path d="M433.8,82.1L440.9,69.2"/>
<path d="M441.4,86.2L448.6,73.4"/>
<path d="M484.4,117.0L494.5,106.4"/>
<path d="M519.5,156.8L531.6,148.5"/>
<path d="M550.1,218.1L564.4,214.3"/>
<path d="M561.7,302.3L576.3,302.9"/>
<path d="M557.7,336.1L571.9,339.7"/>
<path d="M551.3,361.6L565.0,367.0"/>
<path d="M540.5,389.6L554.1,395.3"/>
<path d="M505.5,444.4L517.0,453.6"/>
<path d="M460.9,484.8L475.7,492.3"/>
<path d="M460.9,484.8L468.7,497.3"/>
<path d="M376.3,521.6L381.1,535.6"/>
<path d="M369.1,523.0L372.6,537.3"/>
<path d="M369.1,523.0L364.4,538.7"/>
<path d="M269.7,519.9L274.6,536.1"/>
<path d="M269.7,519.9L267.4,534.5"/>
<path d="M269.7,519.9L259.4,532.4"/>
<path d="M135.0,428.2L123.1,436.8"/>
<path d="M127.3,416.6L114.8,424.4"/>
<path d="M127.3,416.6L110.5,417.4"/>
<path d="M93.8,326.0L80.6,335.9"/>
<path d="M93.8,326.0L79.2,327.3"/>
<path d="M91.5,302.3L76.9,302.9"/>
<path d="M106.1,209.6L92.3,204.5"/>
<path d="M114.0,190.7L99.5,187.1"/>
<path d="M116.6,185.5L102.9,180.1"/>
<path d="M133.9,156.6L120.8,149.6"/>
<path d="M153.7,132.0L142.9,122.1"/>
<path d="M182.4,105.7L173.7,93.8"/>
<path d="M252.7,68.2L242.7,56.1"/>
<path d="M253.5,67.9L250.6,53.4"/>
<path d="M270.5,63.1L259.8,50.7"/>
<path d="M270.5,63.1L267.0,48.8"/>
</g>
<g font-family="Liberation Sans, Arial, sans-serif" font-size="9.1">
<text x="369.7" y="44.9" dy="3.3" fill="#d65d65" text-anchor="start" transform="rotate(-80.1 369.7 44.9)">HbLhcb1.3</text>
<text x="378.9" y="46.7" dy="3.3" fill="#d65d65" text-anchor="start" transform="rotate(-78.0 378.9 46.7)">HbLhcb6.2</text>
<text x="387.1" y="48.6" dy="3.3" fill="#d65d65" text-anchor="start" transform="rotate(-76.0 387.1 48.6)">HbLhcb5.1</text>
<text x="395.6" y="50.9" dy="3.3" fill="#d65d65" text-anchor="start" transform="rotate(-74.0 395.6 50.9)">HbLhcb1.2</text>
<text x="402.7" y="53.1" dy="3.3" fill="#d65d65" text-anchor="start" transform="rotate(-72.3 402.7 53.1)">HbLhcb1.5</text>
<text x="411.0" y="55.9" dy="3.3" fill="#5d97d4" text-anchor="start" transform="rotate(-70.3 411.0 55.9)">HbELIP</text>
<text x="419.6" y="59.1" dy="3.3" fill="#74a8ba" text-anchor="start" transform="rotate(-68.2 419.6 59.1)">HbPsbS.1</text>
<text x="441.1" y="68.9" dy="3.3" fill="#d65d65" text-anchor="start" transform="rotate(-62.8 441.1 68.9)">HbLhcb4.2</text>
<text x="448.8" y="73.0" dy="3.3" fill="#d65d65" text-anchor="start" transform="rotate(-60.8 448.8 73.0)">HbLhcb4.1</text>
<text x="494.8" y="106.1" dy="3.3" fill="#eea85e" text-anchor="start" transform="rotate(-47.8 494.8 106.1)">HbLhca1.2</text>
<text x="531.9" y="148.2" dy="3.3" fill="#eea85e" text-anchor="start" transform="rotate(-34.9 531.9 148.2)">HbLhca1.1</text>
<text x="564.7" y="214.2" dy="3.3" fill="#d65d65" text-anchor="start" transform="rotate(-18.0 564.7 214.2)">HbLhcb3.2</text>
<text x="576.7" y="303.0" dy="3.3" fill="#7fbf68" text-anchor="start" transform="rotate(2.6 576.7 303.0)">HbSEP5</text>
<text x="572.3" y="339.8" dy="3.3" fill="#d65d65" text-anchor="start" transform="rotate(11.1 572.3 339.8)">HbLhcb7</text>
<text x="565.3" y="367.1" dy="3.3" fill="#74a8ba" text-anchor="start" transform="rotate(17.5 565.3 367.1)">HbFCII2</text>
<text x="554.5" y="395.4" dy="3.3" fill="#eea85e" text-anchor="start" transform="rotate(24.5 554.5 395.4)">HbLhca5</text>
<text x="517.3" y="453.9" dy="3.3" fill="#d65d65" text-anchor="start" transform="rotate(40.4 517.3 453.9)">HbLhcb5.2</text>
<text x="475.9" y="492.6" dy="3.3" fill="#5d97d4" text-anchor="start" transform="rotate(53.4 475.9 492.6)">HbOHP1</text>
<text x="469.0" y="497.6" dy="3.3" fill="#eea85e" text-anchor="start" transform="rotate(55.3 469.0 497.6)">HbLhca2</text>
<text x="381.2" y="536.0" dy="3.3" fill="#5d97d4" text-anchor="start" transform="rotate(77.4 381.2 536.0)">HbOHP2.2</text>
<text x="372.7" y="537.7" dy="3.3" fill="#7fbf68" text-anchor="start" transform="rotate(79.4 372.7 537.7)">HbSEP2.2</text>
<text x="364.5" y="539.1" dy="3.3" fill="#d65d65" text-anchor="start" transform="rotate(81.3 364.5 539.1)">HbLhcb1.1</text>
<text x="274.5" y="536.5" dy="3.3" fill="#5d97d4" text-anchor="end" transform="rotate(-78.0 274.5 536.5)">HbOHP2.3</text>
<text x="267.3" y="534.9" dy="3.3" fill="#7fbf68" text-anchor="end" transform="rotate(-76.3 267.3 534.9)">HbSEP2.1</text>
<text x="259.3" y="532.8" dy="3.3" fill="#d65d65" text-anchor="end" transform="rotate(-74.4 259.3 532.8)">HbLhcb6.1</text>
<text x="122.7" y="437.0" dy="3.3" fill="#d65d65" text-anchor="end" transform="rotate(-35.5 122.7 437.0)">HbLhcb3.1</text>
<text x="114.5" y="424.7" dy="3.3" fill="#74a8ba" text-anchor="end" transform="rotate(-32.1 114.5 424.7)">HbPsbS.2</text>
<text x="110.2" y="417.6" dy="3.3" fill="#eea85e" text-anchor="end" transform="rotate(-30.2 110.2 417.6)">HbLhca3</text>
<text x="80.2" y="335.9" dy="3.3" fill="#7fbf68" text-anchor="end" transform="rotate(-10.2 80.2 335.9)">HbSEP3.1</text>
<text x="78.8" y="327.3" dy="3.3" fill="#7fbf68" text-anchor="end" transform="rotate(-8.2 78.8 327.3)">HbSEP3.2</text>
<text x="76.5" y="303.0" dy="3.3" fill="#5d97d4" text-anchor="end" transform="rotate(-2.6 76.5 303.0)">HbOHP2.1</text>
<text x="91.9" y="204.3" dy="3.3" fill="#74a8ba" text-anchor="end" transform="rotate(20.4 91.9 204.3)">HbFCII3</text>
<text x="99.1" y="187.0" dy="3.3" fill="#eea85e" text-anchor="end" transform="rotate(24.7 99.1 187.0)">HbLhca1.3</text>
<text x="102.5" y="179.9" dy="3.3" fill="#d65d65" text-anchor="end" transform="rotate(26.5 102.5 179.9)">HbLhcb1.4</text>
<text x="120.5" y="149.4" dy="3.3" fill="#d65d65" text-anchor="end" transform="rotate(34.6 120.5 149.4)">HbLhcb2.1</text>
<text x="142.6" y="121.8" dy="3.3" fill="#d65d65" text-anchor="end" transform="rotate(42.7 142.6 121.8)">HbLhcb2.3</text>
<text x="173.5" y="93.5" dy="3.3" fill="#d65d65" text-anchor="end" transform="rotate(52.3 173.5 93.5)">HbLhcb2.2</text>
<text x="242.6" y="55.7" dy="3.3" fill="#d65d65" text-anchor="end" transform="rotate(70.4 242.6 55.7)">HbLhcb8</text>
<text x="250.5" y="53.1" dy="3.3" fill="#7fbf68" text-anchor="end" transform="rotate(72.3 250.5 53.1)">HbSEP4</text>
<text x="259.7" y="50.3" dy="3.3" fill="#74a8ba" text-anchor="end" transform="rotate(74.5 259.7 50.3)">HbFCII1</text>
<text x="266.9" y="48.4" dy="3.3" fill="#eea85e" text-anchor="end" transform="rotate(76.2 266.9 48.4)">HbLhca4</text>
</g>
<g fill="none" stroke="#3b6db3" stroke-width="1.6">
<path d="M271.9,125.9Q326.6,291.6 377.4,124.7"/>
<path d="M273.7,125.3Q326.6,291.6 378.5,125.0"/>
<path d="M284.8,122.2Q326.6,291.6 162.8,231.3"/>
<path d="M284.8,122.2Q326.6,291.6 358.0,463.2"/>
<path d="M382.6,126.3Q326.6,291.6 170.5,213.5"/>
<path d="M405.5,135.9Q326.6,291.6 181.7,194.4"/>
<path d="M411.2,139.0Q326.6,291.6 170.5,213.5"/>
<path d="M162.8,231.3Q326.6,291.6 358.0,463.2"/>
<path d="M152.2,298.1Q326.6,295.6 498.0,324.5"/>
<path d="M285.1,461.1Q326.6,295.6 493.5,342.4"/>
<path d="M153.9,316.8L237.2,305.5"/>
<path d="M178.9,384.6L249.4,340.2"/>
<path d="M285.1,461.1L304.9,379.9"/>
</g>
</g>
<g id="syn" fill="none" stroke="#eeeeee" stroke-width="1.7">
<path d="M547.8,620.5C547.8,667.9 552.8,667.9 552.8,715.2"/>
<path d="M601.6,620.5C601.6,667.9 631.9,667.9 631.9,715.2"/>
<path d="M658.1,620.5C658.1,667.9 160.8,667.9 160.8,715.2"/>
<path d="M196.9,620.5C196.9,667.9 89.2,667.9 89.2,715.2"/>
<path d="M562.5,620.5C562.5,667.9 219.9,667.9 219.9,715.2"/>
<path d="M589.7,620.5C589.7,667.9 77.2,667.9 77.2,715.2"/>
<path d="M254.2,620.5C254.2,667.9 549.8,667.9 549.8,715.2"/>
<path d="M662.7,620.5C662.7,667.9 626.8,667.9 626.8,715.2"/>
<path d="M359.4,620.5C359.4,667.9 126.4,667.9 126.4,715.2"/>
<path d="M351.2,620.5C351.2,667.9 680.0,667.9 680.0,715.2"/>
<path d="M132.2,620.5C132.2,667.9 395.7,667.9 395.7,715.2"/>
<path d="M610.9,620.5C610.9,667.9 128.8,667.9 128.8,715.2"/>
<path d="M92.0,620.5C92.0,667.9 354.9,667.9 354.9,715.2"/>
<path d="M150.4,620.5C150.4,667.9 43.3,667.9 43.3,715.2"/>
<path d="M101.1,620.5C101.1,667.9 471.0,667.9 471.0,715.2"/>
<path d="M642.8,620.5C642.8,667.9 319.5,667.9 319.5,715.2"/>
<path d="M344.6,620.5C344.6,667.9 521.8,667.9 521.8,715.2"/>
<path d="M57.2,620.5C57.2,667.9 153.8,667.9 153.8,715.2"/>
<path d="M537.6,620.5C537.6,667.9 221.2,667.9 221.2,715.2"/>
<path d="M237.0,620.5C237.0,667.9 271.9,667.9 271.9,715.2"/>
<path d="M233.9,620.5C233.9,667.9 461.7,667.9 461.7,715.2"/>
<path d="M566.2,620.5C566.2,667.9 44.3,667.9 44.3,715.2"/>
<path d="M612.3,620.5C612.3,667.9 43.2,667.9 43.2,715.2"/>
<path d="M567.1,620.5C567.1,667.9 154.3,667.9 154.3,715.2"/>
<path d="M210.7,620.5C210.7,667.9 311.1,667.9 311.1,715.2"/>
<path d="M614.6,620.5C614.6,667.9 354.9,667.9 354.9,715.2"/>
<path d="M51.4,620.5C51.4,667.9 285.9,667.9 285.9,715.2"/>
<path d="M348.0,620.5C348.0,667.9 545.1,667.9 545.1,715.2"/>
<path d="M629.1,620.5C629.1,667.9 190.8,667.9 190.8,715.2"/>
<path d="M257.3,620.5C257.3,667.9 361.2,667.9 361.2,715.2"/>
<path d="M607.2,620.5C607.2,667.9 246.9,667.9 246.9,715.2"/>
<path d="M602.2,620.5C602.2,667.9 485.2,667.9 485.2,715.2"/>
<path d="M591.2,620.5C591.2,667.9 74.7,667.9 74.7,715.2"/>
<path d="M106.6,620.5C106.6,667.9 317.0,667.9 317.0,715.2"/>
<path d="M457.6,620.5C457.6,667.9 588.3,667.9 588.3,715.2"/>
<path d="M291.2,620.5C291.2,667.9 118.9,667.9 118.9,715.2"/>
<path d="M502.4,620.5C502.4,667.9 122.4,667.9 122.4,715.2"/>
<path d="M271.0,620.5C271.0,667.9 122.1,667.9 122.1,715.2"/>
<path d="M456.4,620.5C456.4,667.9 76.8,667.9 76.8,715.2"/>
<path d="M362.2,620.5C362.2,667.9 184.5,667.9 184.5,715.2"/>
<path d="M286.9,620.5C286.9,667.9 393.2,667.9 393.2,715.2"/>
<path d="M638.6,620.5C638.6,667.9 188.6,667.9 188.6,715.2"/>
<path d="M101.7,620.5C101.7,667.9 435.3,667.9 435.3,715.2"/>
<path d="M42.4,620.5C42.4,667.9 127.0,667.9 127.0,715.2"/>
<path d="M343.4,620.5C343.4,667.9 117.7,667.9 117.7,715.2"/>
<path d="M618.3,620.5C618.3,667.9 98.2,667.9 98.2,715.2"/>
<path d="M275.9,620.5C275.9,667.9 385.4,667.9 385.4,715.2"/>
<path d="M553.0,620.5C553.0,667.9 526.7,667.9 526.7,715.2"/>
<path d="M152.5,620.5C152.5,667.9 50.7,667.9 50.7,715.2"/>
<path d="M475.7,620.5C475.7,667.9 50.4,667.9 50.4,715.2"/>
<path d="M51.5,620.5C51.5,667.9 169.6,667.9 169.6,715.2"/>
<path d="M527.4,620.5C527.4,667.9 486.8,667.9 486.8,715.2"/>
<path d="M626.7,620.5C626.7,667.9 561.9,667.9 561.9,715.2"/>
<path d="M107.4,620.5C107.4,667.9 622.5,667.9 622.5,715.2"/>
<path d="M592.0,620.5C592.0,667.9 43.6,667.9 43.6,715.2"/>
<path d="M104.6,620.5C104.6,667.9 587.2,667.9 587.2,715.2"/>
<path d="M87.7,620.5C87.7,667.9 189.3,667.9 189.3,715.2"/>
<path d="M245.0,620.5C245.0,667.9 393.2,667.9 393.2,715.2"/>
<path d="M493.3,620.5C493.3,667.9 289.3,667.9 289.3,715.2"/>
<path d="M332.6,620.5C332.6,667.9 523.0,667.9 523.0,715.2"/>
<path d="M285.7,620.5C285.7,667.9 464.8,667.9 464.8,715.2"/>
<path d="M333.7,620.5C333.7,667.9 187.8,667.9 187.8,715.2"/>
<path d="M132.6,620.5C132.6,667.9 331.9,667.9 331.9,715.2"/>
<path d="M98.5,620.5C98.5,667.9 334.6,667.9 334.6,715.2"/>
<path d="M476.2,620.5C476.2,667.9 632.3,667.9 632.3,715.2"/>
<path d="M378.7,620.5C378.7,667.9 549.7,667.9 549.7,715.2"/>
<path d="M76.0,620.5C76.0,667.9 91.7,667.9 91.7,715.2"/>
<path d="M365.7,620.5C365.7,667.9 358.1,667.9 358.1,715.2"/>
<path d="M585.6,620.5C585.6,667.9 187.1,667.9 187.1,715.2"/>
<path d="M189.5,620.5C189.5,667.9 317.0,667.9 317.0,715.2"/>
<path d="M276.3,620.5C276.3,667.9 160.8,667.9 160.8,715.2"/>
<path d="M645.2,620.5C645.2,667.9 442.7,667.9 442.7,715.2"/>
<path d="M209.1,620.5C209.1,667.9 587.2,667.9 587.2,715.2"/>
<path d="M138.4,620.5C138.4,667.9 673.4,667.9 673.4,715.2"/>
<path d="M212.2,620.5C212.2,667.9 430.6,667.9 430.6,715.2"/>
<path d="M630.7,620.5C630.7,667.9 214.6,667.9 214.6,715.2"/>
<path d="M196.5,620.5C196.5,667.9 462.1,667.9 462.1,715.2"/>
<path d="M448.7,620.5C448.7,667.9 46.2,667.9 46.2,715.2"/>
<path d="M645.0,620.5C645.0,667.9 638.7,667.9 638.7,715.2"/>
<path d="M356.2,620.5C356.2,667.9 245.1,667.9 245.1,715.2"/>
<path d="M67.5,620.5C67.5,667.9 488.2,667.9 488.2,715.2"/>
<path d="M362.7,620.5C362.7,667.9 383.1,667.9 383.1,715.2"/>
<path d="M85.2,620.5C85.2,667.9 116.8,667.9 116.8,715.2"/>
<path d="M363.9,620.5C363.9,667.9 323.4,667.9 323.4,715.2"/>
<path d="M68.2,620.5C68.2,667.9 125.8,667.9 125.8,715.2"/>
<path d="M62.2,620.5C62.2,667.9 393.9,667.9 393.9,715.2"/>
<path d="M239.6,620.5C239.6,667.9 640.9,667.9 640.9,715.2"/>
<path d="M662.5,620.5C662.5,667.9 564.4,667.9 564.4,715.2"/>
<path d="M505.3,620.5C505.3,667.9 133.3,667.9 133.3,715.2"/>
<path d="M497.6,620.5C497.6,667.9 360.3,667.9 360.3,715.2"/>
<path d="M643.7,620.5C643.7,667.9 632.7,667.9 632.7,715.2"/>
<path d="M607.8,620.5C607.8,667.9 487.4,667.9 487.4,715.2"/>
<path d="M603.3,620.5C603.3,667.9 191.6,667.9 191.6,715.2"/>
<path d="M609.4,620.5C609.4,667.9 585.6,667.9 585.6,715.2"/>
<path d="M594.5,620.5C594.5,667.9 50.4,667.9 50.4,715.2"/>
<path d="M110.0,620.5C110.0,667.9 86.9,667.9 86.9,715.2"/>
<path d="M500.1,620.5C500.1,667.9 161.5,667.9 161.5,715.2"/>
<path d="M194.1,620.5C194.1,667.9 667.4,667.9 667.4,715.2"/>
<path d="M459.4,620.5C459.4,667.9 594.1,667.9 594.1,715.2"/>
<path d="M353.6,620.5C353.6,667.9 595.1,667.9 595.1,715.2"/>
<path d="M64.6,620.5C64.6,667.9 56.1,667.9 56.1,715.2"/>
<path d="M265.7,620.5C265.7,667.9 40.0,667.9 40.0,715.2"/>
<path d="M212.3,620.5C212.3,667.9 354.1,667.9 354.1,715.2"/>
<path d="M336.7,620.5C336.7,667.9 582.8,667.9 582.8,715.2"/>
<path d="M595.3,620.5C595.3,667.9 635.1,667.9 635.1,715.2"/>
<path d="M265.6,620.5C265.6,667.9 502.7,667.9 502.7,715.2"/>
<path d="M541.8,620.5C541.8,667.9 217.9,667.9 217.9,715.2"/>
<path d="M643.6,620.5C643.6,667.9 626.5,667.9 626.5,715.2"/>
<path d="M641.1,620.5C641.1,667.9 185.7,667.9 185.7,715.2"/>
<path d="M395.2,620.5C395.2,667.9 391.8,667.9 391.8,715.2"/>
<path d="M211.2,620.5C211.2,667.9 268.9,667.9 268.9,715.2"/>
<path d="M286.7,620.5C286.7,667.9 189.7,667.9 189.7,715.2"/>
<path d="M349.5,620.5C349.5,667.9 523.7,667.9 523.7,715.2"/>
<path d="M500.0,620.5C500.0,667.9 185.4,667.9 185.4,715.2"/>
<path d="M52.2,620.5C52.2,667.9 441.3,667.9 441.3,715.2"/>
<path d="M325.3,620.5C325.3,667.9 635.3,667.9 635.3,715.2"/>
<path d="M359.7,620.5C359.7,667.9 266.3,667.9 266.3,715.2"/>
<path d="M435.2,620.5C435.2,667.9 94.2,667.9 94.2,715.2"/>
<path d="M632.0,620.5C632.0,667.9 584.0,667.9 584.0,715.2"/>
<path d="M199.6,620.5C199.6,667.9 224.8,667.9 224.8,715.2"/>
<path d="M397.4,620.5C397.4,667.9 162.9,667.9 162.9,715.2"/>
<path d="M293.7,620.5C293.7,667.9 543.9,667.9 543.9,715.2"/>
<path d="M82.3,620.5C82.3,667.9 552.2,667.9 552.2,715.2"/>
<path d="M353.2,620.5C353.2,667.9 415.4,667.9 415.4,715.2"/>
<path d="M150.0,620.5C150.0,667.9 214.9,667.9 214.9,715.2"/>
<path d="M380.7,620.5C380.7,667.9 486.4,667.9 486.4,715.2"/>
<path d="M599.3,620.5C599.3,667.9 638.6,667.9 638.6,715.2"/>
<path d="M394.4,620.5C394.4,667.9 475.6,667.9 475.6,715.2"/>
<path d="M243.4,620.5C243.4,667.9 396.9,667.9 396.9,715.2"/>
<path d="M339.8,620.5C339.8,667.9 165.6,667.9 165.6,715.2"/>
<path d="M278.3,620.5C278.3,667.9 462.2,667.9 462.2,715.2"/>
<path d="M393.2,620.5C393.2,667.9 437.2,667.9 437.2,715.2"/>
<path d="M232.3,620.5C232.3,667.9 207.2,667.9 207.2,715.2"/>
<path d="M341.8,620.5C341.8,667.9 153.8,667.9 153.8,715.2"/>
<path d="M403.1,620.5C403.1,667.9 78.5,667.9 78.5,715.2"/>
<path d="M345.0,620.5C345.0,667.9 475.6,667.9 475.6,715.2"/>
<path d="M591.0,620.5C591.0,667.9 643.0,667.9 643.0,715.2"/>
<path d="M265.6,620.5C265.6,667.9 488.2,667.9 488.2,715.2"/>
<path d="M54.6,620.5C54.6,667.9 165.5,667.9 165.5,715.2"/>
<path d="M354.4,620.5C354.4,667.9 623.0,667.9 623.0,715.2"/>
<path d="M259.6,620.5C259.6,667.9 41.2,667.9 41.2,715.2"/>
<path d="M339.5,620.5C339.5,667.9 390.4,667.9 390.4,715.2"/>
<path d="M622.7,620.5C622.7,667.9 633.9,667.9 633.9,715.2"/>
<path d="M123.1,620.5C123.1,667.9 128.5,667.9 128.5,715.2"/>
<path d="M90.1,620.5C90.1,667.9 214.4,667.9 214.4,715.2"/>
<path d="M283.0,620.5C283.0,667.9 671.0,667.9 671.0,715.2"/>
<path d="M95.8,620.5C95.8,667.9 592.0,667.9 592.0,715.2"/>
<path d="M621.1,620.5C621.1,667.9 354.6,667.9 354.6,715.2"/>
<path d="M358.0,620.5C358.0,667.9 325.3,667.9 325.3,715.2"/>
<path d="M374.0,620.5C374.0,667.9 350.5,667.9 350.5,715.2"/>
<path d="M252.6,620.5C252.6,667.9 215.0,667.9 215.0,715.2"/>
<path d="M427.3,620.5C427.3,667.9 395.5,667.9 395.5,715.2"/>
<path d="M115.7,620.5C115.7,667.9 378.3,667.9 378.3,715.2"/>
<path d="M235.0,620.5C235.0,667.9 587.1,667.9 587.1,715.2"/>
<path d="M191.8,620.5C191.8,667.9 168.7,667.9 168.7,715.2"/>
<path d="M440.9,620.5C440.9,667.9 292.4,667.9 292.4,715.2"/>
<path d="M46.2,620.5C46.2,667.9 513.9,667.9 513.9,715.2"/>
<path d="M283.6,620.5C283.6,667.9 430.3,667.9 430.3,715.2"/>
<path d="M87.1,620.5C87.1,667.9 189.2,667.9 189.2,715.2"/>
<path d="M508.6,620.5C508.6,667.9 511.6,667.9 511.6,715.2"/>
<path d="M660.2,620.5C660.2,667.9 191.5,667.9 191.5,715.2"/>
<path d="M213.5,620.5C213.5,667.9 161.7,667.9 161.7,715.2"/>
<path d="M384.7,620.5C384.7,667.9 422.9,667.9 422.9,715.2"/>
<path d="M648.0,620.5C648.0,667.9 261.2,667.9 261.2,715.2"/>
<path d="M208.1,620.5C208.1,667.9 291.3,667.9 291.3,715.2"/>
<path d="M285.6,620.5C285.6,667.9 90.2,667.9 90.2,715.2"/>
<path d="M75.0,620.5C75.0,667.9 502.8,667.9 502.8,715.2"/>
<path d="M53.0,620.5C53.0,667.9 663.1,667.9 663.1,715.2"/>
<path d="M159.0,620.5C159.0,667.9 218.2,667.9 218.2,715.2"/>
<path d="M358.0,620.5C358.0,667.9 421.1,667.9 421.1,715.2"/>
<path d="M359.0,620.5C359.0,667.9 190.6,667.9 190.6,715.2"/>
<path d="M144.5,620.5C144.5,667.9 561.2,667.9 561.2,715.2"/>
<path d="M662.3,620.5C662.3,667.9 255.5,667.9 255.5,715.2"/>
<path d="M349.7,620.5C349.7,667.9 186.8,667.9 186.8,715.2"/>
<path d="M614.3,620.5C614.3,667.9 674.4,667.9 674.4,715.2"/>
<path d="M234.8,620.5C234.8,667.9 431.8,667.9 431.8,715.2"/>
<path d="M549.2,620.5C549.2,667.9 128.4,667.9 128.4,715.2"/>
<path d="M503.1,620.5C503.1,667.9 603.6,667.9 603.6,715.2"/>
<path d="M463.8,620.5C463.8,667.9 40.8,667.9 40.8,715.2"/>
<path d="M289.2,620.5C289.2,667.9 131.8,667.9 131.8,715.2"/>
<path d="M526.9,620.5C526.9,667.9 383.6,667.9 383.6,715.2"/>
<path d="M211.3,620.5C211.3,667.9 385.7,667.9 385.7,715.2"/>
<path d="M81.8,620.5C81.8,667.9 555.5,667.9 555.5,715.2"/>
<path d="M353.9,620.5C353.9,667.9 355.7,667.9 355.7,715.2"/>
<path d="M231.7,620.5C231.7,667.9 627.1,667.9 627.1,715.2"/>
<path d="M388.7,620.5C388.7,667.9 46.0,667.9 46.0,715.2"/>
<path d="M506.2,620.5C506.2,667.9 264.4,667.9 264.4,715.2"/>
<path d="M385.9,620.5C385.9,667.9 660.2,667.9 660.2,715.2"/>
<path d="M636.5,620.5C636.5,667.9 207.7,667.9 207.7,715.2"/>
<path d="M550.0,620.5C550.0,667.9 360.0,667.9 360.0,715.2"/>
<path d="M244.7,620.5C244.7,667.9 660.3,667.9 660.3,715.2"/>
<path d="M400.9,620.5C400.9,667.9 503.8,667.9 503.8,715.2"/>
<path d="M612.4,620.5C612.4,667.9 658.6,667.9 658.6,715.2"/>
<path d="M75.4,620.5C75.4,667.9 168.1,667.9 168.1,715.2"/>
<path d="M43.0,620.5C43.0,667.9 184.6,667.9 184.6,715.2"/>
<path d="M455.9,620.5C455.9,667.9 291.1,667.9 291.1,715.2"/>
<path d="M615.5,620.5C615.5,667.9 551.4,667.9 551.4,715.2"/>
<path d="M386.8,620.5C386.8,667.9 393.5,667.9 393.5,715.2"/>
<path d="M491.8,620.5C491.8,667.9 132.1,667.9 132.1,715.2"/>
<path d="M93.3,620.5C93.3,667.9 439.7,667.9 439.7,715.2"/>
<path d="M543.1,620.5C543.1,667.9 564.7,667.9 564.7,715.2"/>
<path d="M108.1,620.5C108.1,667.9 53.9,667.9 53.9,715.2"/>
<path d="M556.4,620.5C556.4,667.9 185.8,667.9 185.8,715.2"/>
<path d="M298.2,620.5C298.2,667.9 479.1,667.9 479.1,715.2"/>
<path d="M333.2,620.5C333.2,667.9 515.9,667.9 515.9,715.2"/>
<path d="M401.2,620.5C401.2,667.9 85.6,667.9 85.6,715.2"/>
<path d="M79.3,620.5C79.3,667.9 190.1,667.9 190.1,715.2"/>
<path d="M289.3,620.5C289.3,667.9 542.5,667.9 542.5,715.2"/>
<path d="M554.3,620.5C554.3,667.9 80.9,667.9 80.9,715.2"/>
<path d="M207.5,620.5C207.5,667.9 259.9,667.9 259.9,715.2"/>
<path d="M651.0,620.5C651.0,667.9 626.6,667.9 626.6,715.2"/>
<path d="M287.3,620.5C287.3,667.9 463.4,667.9 463.4,715.2"/>
<path d="M370.7,620.5C370.7,667.9 667.9,667.9 667.9,715.2"/>
<path d="M358.1,620.5C358.1,667.9 486.2,667.9 486.2,715.2"/>
<path d="M373.7,620.5C373.7,667.9 127.0,667.9 127.0,715.2"/>
<path d="M231.6,620.5C231.6,667.9 270.7,667.9 270.7,715.2"/>
<path d="M564.1,620.5C564.1,667.9 638.2,667.9 638.2,715.2"/>
<path d="M125.6,620.5C125.6,667.9 295.6,667.9 295.6,715.2"/>
<path d="M553.7,620.5C553.7,667.9 560.9,667.9 560.9,715.2"/>
<path d="M509.3,620.5C509.3,667.9 215.1,667.9 215.1,715.2"/>
<path d="M327.9,620.5C327.9,667.9 624.7,667.9 624.7,715.2"/>
<path d="M608.8,620.5C608.8,667.9 657.8,667.9 657.8,715.2"/>
<path d="M656.0,620.5C656.0,667.9 43.1,667.9 43.1,715.2"/>
<path d="M279.2,620.5C279.2,667.9 124.0,667.9 124.0,715.2"/>
<path d="M650.9,620.5C650.9,667.9 167.9,667.9 167.9,715.2"/>
<path d="M431.8,620.5C431.8,667.9 676.7,667.9 676.7,715.2"/>
<path d="M316.7,620.5C316.7,667.9 254.7,667.9 254.7,715.2"/>
<path d="M141.8,620.5C141.8,667.9 547.0,667.9 547.0,715.2"/>
<path d="M622.5,620.5C622.5,667.9 584.3,667.9 584.3,715.2"/>
<path d="M343.1,620.5C343.1,667.9 460.4,667.9 460.4,715.2"/>
<path d="M403.7,620.5C403.7,667.9 124.2,667.9 124.2,715.2"/>
<path d="M198.6,620.5C198.6,667.9 478.8,667.9 478.8,715.2"/>
<path d="M125.1,620.5C125.1,667.9 55.0,667.9 55.0,715.2"/>
<path d="M454.7,620.5C454.7,667.9 161.0,667.9 161.0,715.2"/>
<path d="M151.6,620.5C151.6,667.9 269.3,667.9 269.3,715.2"/>
<path d="M219.4,620.5C219.4,667.9 486.9,667.9 486.9,715.2"/>
<path d="M399.8,620.5C399.8,667.9 475.2,667.9 475.2,715.2"/>
<path d="M73.1,620.5C73.1,667.9 253.5,667.9 253.5,715.2"/>
<path d="M82.7,620.5C82.7,667.9 325.3,667.9 325.3,715.2"/>
<path d="M354.7,620.5C354.7,667.9 460.9,667.9 460.9,715.2"/>
<path d="M256.6,620.5C256.6,667.9 189.3,667.9 189.3,715.2"/>
<path d="M206.9,620.5C206.9,667.9 459.2,667.9 459.2,715.2"/>
<path d="M507.3,620.5C507.3,667.9 118.3,667.9 118.3,715.2"/>
<path d="M60.1,620.5C60.1,667.9 160.6,667.9 160.6,715.2"/>
<path d="M84.3,620.5C84.3,667.9 526.2,667.9 526.2,715.2"/>
<path d="M259.5,620.5C259.5,667.9 190.5,667.9 190.5,715.2"/>
<path d="M491.0,620.5C491.0,667.9 518.3,667.9 518.3,715.2"/>
<path d="M510.4,620.5C510.4,667.9 401.4,667.9 401.4,715.2"/>
<path d="M261.0,620.5C261.0,667.9 622.3,667.9 622.3,715.2"/>
<path d="M331.8,620.5C331.8,667.9 358.1,667.9 358.1,715.2"/>
<path d="M112.5,620.5C112.5,667.9 257.5,667.9 257.5,715.2"/>
<path d="M388.4,620.5C388.4,667.9 211.4,667.9 211.4,715.2"/>
<path d="M668.4,620.5C668.4,667.9 662.1,667.9 662.1,715.2"/>
<path d="M630.7,620.5C630.7,667.9 188.5,667.9 188.5,715.2"/>
<path d="M297.7,620.5C297.7,667.9 643.0,667.9 643.0,715.2"/>
<path d="M250.5,620.5C250.5,667.9 50.8,667.9 50.8,715.2"/>
<path d="M274.1,620.5C274.1,667.9 185.8,667.9 185.8,715.2"/>
<path d="M622.9,620.5C622.9,667.9 384.8,667.9 384.8,715.2"/>
<path d="M338.7,620.5C338.7,667.9 160.9,667.9 160.9,715.2"/>
<path d="M213.5,620.5C213.5,667.9 669.4,667.9 669.4,715.2"/>
<path d="M112.9,620.5C112.9,667.9 315.2,667.9 315.2,715.2"/>
<path d="M368.5,620.5C368.5,667.9 168.6,667.9 168.6,715.2"/>
<path d="M77.3,620.5C77.3,667.9 422.0,667.9 422.0,715.2"/>
<path d="M617.8,620.5C617.8,667.9 209.8,667.9 209.8,715.2"/>
<path d="M659.8,620.5C659.8,667.9 542.9,667.9 542.9,715.2"/>
<path d="M274.8,620.5C274.8,667.9 186.3,667.9 186.3,715.2"/>
<path d="M510.7,620.5C510.7,667.9 42.3,667.9 42.3,715.2"/>
<path d="M488.9,620.5C488.9,667.9 188.1,667.9 188.1,715.2"/>
<path d="M114.1,620.5C114.1,667.9 213.3,667.9 213.3,715.2"/>
<path d="M216.4,620.5C216.4,667.9 377.8,667.9 377.8,715.2"/>
<path d="M134.0,620.5C134.0,667.9 187.1,667.9 187.1,715.2"/>
<path d="M508.4,620.5C508.4,667.9 589.8,667.9 589.8,715.2"/>
<path d="M669.4,620.5C669.4,667.9 521.6,667.9 521.6,715.2"/>
<path d="M551.3,620.5C551.3,667.9 561.9,667.9 561.9,715.2"/>
<path d="M541.8,620.5C541.8,667.9 162.7,667.9 162.7,715.2"/>
<path d="M614.8,620.5C614.8,667.9 631.0,667.9 631.0,715.2"/>
<path d="M81.5,620.5C81.5,667.9 80.4,667.9 80.4,715.2"/>
<path d="M668.1,620.5C668.1,667.9 476.4,667.9 476.4,715.2"/>
<path d="M393.5,620.5C393.5,667.9 121.6,667.9 121.6,715.2"/>
<path d="M455.4,620.5C455.4,667.9 488.0,667.9 488.0,715.2"/>
<path d="M522.5,620.5C522.5,667.9 641.1,667.9 641.1,715.2"/>
<path d="M612.5,620.5C612.5,667.9 487.0,667.9 487.0,715.2"/>
<path d="M170.3,620.5C170.3,667.9 440.0,667.9 440.0,715.2"/>
<path d="M503.1,620.5C503.1,667.9 210.7,667.9 210.7,715.2"/>
<path d="M503.5,620.5C503.5,667.9 118.2,667.9 118.2,715.2"/>
<path d="M200.6,620.5C200.6,667.9 670.1,667.9 670.1,715.2"/>
<path d="M419.6,620.5C419.6,667.9 293.8,667.9 293.8,715.2"/>
<path d="M82.1,620.5C82.1,667.9 126.0,667.9 126.0,715.2"/>
<path d="M540.3,620.5C540.3,667.9 462.4,667.9 462.4,715.2"/>
<path d="M605.4,620.5C605.4,667.9 350.6,667.9 350.6,715.2"/>
<path d="M342.4,620.5C342.4,667.9 583.9,667.9 583.9,715.2"/>
<path d="M549.7,620.5C549.7,667.9 251.0,667.9 251.0,715.2"/>
<path d="M65.2,620.5C65.2,667.9 441.0,667.9 441.0,715.2"/>
<path d="M62.1,620.5C62.1,667.9 661.3,667.9 661.3,715.2"/>
<path d="M208.2,620.5C208.2,667.9 90.8,667.9 90.8,715.2"/>
<path d="M379.5,620.5C379.5,667.9 400.9,667.9 400.9,715.2"/>
<path d="M392.3,620.5C392.3,667.9 186.5,667.9 186.5,715.2"/>
<path d="M481.0,620.5C481.0,667.9 210.7,667.9 210.7,715.2"/>
<path d="M325.7,620.5C325.7,667.9 250.2,667.9 250.2,715.2"/>
<path d="M243.1,620.5C243.1,667.9 359.8,667.9 359.8,715.2"/>
<path d="M386.5,620.5C386.5,667.9 640.6,667.9 640.6,715.2"/>
<path d="M632.1,620.5C632.1,667.9 361.0,667.9 361.0,715.2"/>
<path d="M261.7,620.5C261.7,667.9 314.3,667.9 314.3,715.2"/>
<path d="M100.1,620.5C100.1,667.9 126.0,667.9 126.0,715.2"/>
<path d="M590.7,620.5C590.7,667.9 71.8,667.9 71.8,715.2"/>
<path d="M610.5,620.5C610.5,667.9 321.7,667.9 321.7,715.2"/>
<path d="M592.0,620.5C592.0,667.9 362.2,667.9 362.2,715.2"/>
<path d="M214.4,620.5C214.4,667.9 329.7,667.9 329.7,715.2"/>
<path d="M64.0,620.5C64.0,667.9 191.8,667.9 191.8,715.2"/>
<path d="M120.9,620.5C120.9,667.9 458.2,667.9 458.2,715.2"/>
<path d="M428.4,620.5C428.4,667.9 128.7,667.9 128.7,715.2"/>
<path d="M343.5,620.5C343.5,667.9 602.6,667.9 602.6,715.2"/>
<path d="M611.1,620.5C611.1,667.9 637.6,667.9 637.6,715.2"/>
<path d="M600.1,620.5C600.1,667.9 208.2,667.9 208.2,715.2"/>
<path d="M454.4,620.5C454.4,667.9 555.0,667.9 555.0,715.2"/>
<path d="M384.9,620.5C384.9,667.9 288.6,667.9 288.6,715.2"/>
<path d="M604.5,620.5C604.5,667.9 587.4,667.9 587.4,715.2"/>
<path d="M253.8,620.5C253.8,667.9 88.6,667.9 88.6,715.2"/>
<path d="M223.3,620.5C223.3,667.9 50.4,667.9 50.4,715.2"/>
<path d="M494.2,620.5C494.2,667.9 332.8,667.9 332.8,715.2"/>
<path d="M49.1,620.5C49.1,667.9 218.6,667.9 218.6,715.2"/>
<path d="M638.1,620.5C638.1,667.9 292.6,667.9 292.6,715.2"/>
<path d="M80.3,620.5C80.3,667.9 92.2,667.9 92.2,715.2"/>
<path d="M653.0,620.5C653.0,667.9 330.5,667.9 330.5,715.2"/>
<path d="M432.6,620.5C432.6,667.9 625.5,667.9 625.5,715.2"/>
<path d="M337.1,620.5C337.1,667.9 599.9,667.9 599.9,715.2"/>
<path d="M657.5,620.5C657.5,667.9 80.9,667.9 80.9,715.2"/>
<path d="M473.5,620.5C473.5,667.9 263.4,667.9 263.4,715.2"/>
<path d="M56.4,620.5C56.4,667.9 185.0,667.9 185.0,715.2"/>
<path d="M496.8,620.5C496.8,667.9 71.7,667.9 71.7,715.2"/>
<path d="M551.4,620.5C551.4,667.9 184.5,667.9 184.5,715.2"/>
<path d="M611.7,620.5C611.7,667.9 526.4,667.9 526.4,715.2"/>
<path d="M128.5,620.5C128.5,667.9 289.0,667.9 289.0,715.2"/>
<path d="M111.8,620.5C111.8,667.9 290.3,667.9 290.3,715.2"/>
<path d="M161.6,620.5C161.6,667.9 423.9,667.9 423.9,715.2"/>
<path d="M604.3,620.5C604.3,667.9 214.8,667.9 214.8,715.2"/>
<path d="M136.1,620.5C136.1,667.9 216.2,667.9 216.2,715.2"/>
<path d="M558.1,620.5C558.1,667.9 253.6,667.9 253.6,715.2"/>
<path d="M67.8,620.5C67.8,667.9 422.1,667.9 422.1,715.2"/>
<path d="M659.1,620.5C659.1,667.9 585.7,667.9 585.7,715.2"/>
<path d="M253.5,620.5C253.5,667.9 355.9,667.9 355.9,715.2"/>
<path d="M566.7,620.5C566.7,667.9 225.4,667.9 225.4,715.2"/>
<path d="M247.5,620.5C247.5,667.9 504.0,667.9 504.0,715.2"/>
<path d="M347.3,620.5C347.3,667.9 326.8,667.9 326.8,715.2"/>
<path d="M600.9,620.5C600.9,667.9 324.0,667.9 324.0,715.2"/>
<path d="M670.3,620.5C670.3,667.9 250.2,667.9 250.2,715.2"/>
<path d="M320.1,620.5C320.1,667.9 419.0,667.9 419.0,715.2"/>
<path d="M268.1,620.5C268.1,667.9 153.9,667.9 153.9,715.2"/>
<path d="M389.6,620.5C389.6,667.9 544.1,667.9 544.1,715.2"/>
<path d="M467.7,620.5C467.7,667.9 636.0,667.9 636.0,715.2"/>
<path d="M350.0,620.5C350.0,667.9 291.1,667.9 291.1,715.2"/>
<path d="M203.7,620.5C203.7,667.9 184.1,667.9 184.1,715.2"/>
<path d="M351.5,620.5C351.5,667.9 595.6,667.9 595.6,715.2"/>
<path d="M244.9,620.5C244.9,667.9 662.7,667.9 662.7,715.2"/>
<path d="M518.2,620.5C518.2,667.9 190.9,667.9 190.9,715.2"/>
<path d="M362.6,620.5C362.6,667.9 551.7,667.9 551.7,715.2"/>
<path d="M496.1,620.5C496.1,667.9 421.5,667.9 421.5,715.2"/>
<path d="M347.9,620.5C347.9,667.9 246.3,667.9 246.3,715.2"/>
<path d="M137.3,620.5C137.3,667.9 596.3,667.9 596.3,715.2"/>
<path d="M373.7,620.5C373.7,667.9 137.0,667.9 137.0,715.2"/>
<path d="M249.5,620.5C249.5,667.9 434.3,667.9 434.3,715.2"/>
<path d="M335.9,620.5C335.9,667.9 313.2,667.9 313.2,715.2"/>
<path d="M437.3,620.5C437.3,667.9 581.5,667.9 581.5,715.2"/>
<path d="M557.4,620.5C557.4,667.9 356.2,667.9 356.2,715.2"/>
<path d="M334.7,620.5C334.7,667.9 464.3,667.9 464.3,715.2"/>
<path d="M226.2,620.5C226.2,667.9 291.5,667.9 291.5,715.2"/>
<path d="M395.7,620.5C395.7,667.9 187.7,667.9 187.7,715.2"/>
<path d="M377.4,620.5C377.4,667.9 663.9,667.9 663.9,715.2"/>
<path d="M157.7,620.5C157.7,667.9 159.5,667.9 159.5,715.2"/>
<path d="M158.9,620.5C158.9,667.9 312.3,667.9 312.3,715.2"/>
<path d="M545.0,620.5C545.0,667.9 355.9,667.9 355.9,715.2"/>
<path d="M393.8,620.5C393.8,667.9 116.5,667.9 116.5,715.2"/>
<path d="M343.8,620.5C343.8,667.9 431.3,667.9 431.3,715.2"/>
<path d="M387.5,620.5C387.5,667.9 220.3,667.9 220.3,715.2"/>
<path d="M510.7,620.5C510.7,667.9 415.9,667.9 415.9,715.2"/>
<path d="M273.5,620.5C273.5,667.9 90.0,667.9 90.0,715.2"/>
<path d="M510.3,620.5C510.3,667.9 122.3,667.9 122.3,715.2"/>
<path d="M549.9,620.5C549.9,667.9 487.8,667.9 487.8,715.2"/>
<path d="M425.2,620.5C425.2,667.9 189.3,667.9 189.3,715.2"/>
<path d="M342.4,620.5C342.4,667.9 428.7,667.9 428.7,715.2"/>
<path d="M59.2,620.5C59.2,667.9 250.2,667.9 250.2,715.2"/>
<path d="M375.5,620.5C375.5,667.9 291.5,667.9 291.5,715.2"/>
<path d="M675.6,620.5C675.6,667.9 43.7,667.9 43.7,715.2"/>
<path d="M545.3,620.5C545.3,667.9 658.5,667.9 658.5,715.2"/>
<path d="M666.6,620.5C666.6,667.9 383.1,667.9 383.1,715.2"/>
<path d="M155.5,620.5C155.5,667.9 396.9,667.9 396.9,715.2"/>
<path d="M264.9,620.5C264.9,667.9 227.7,667.9 227.7,715.2"/>
<path d="M204.6,620.5C204.6,667.9 603.3,667.9 603.3,715.2"/>
<path d="M347.9,620.5C347.9,667.9 354.6,667.9 354.6,715.2"/>
<path d="M630.5,620.5C630.5,667.9 289.7,667.9 289.7,715.2"/>
<path d="M289.9,620.5C289.9,667.9 190.9,667.9 190.9,715.2"/>
<path d="M146.6,620.5C146.6,667.9 351.6,667.9 351.6,715.2"/>
<path d="M495.4,620.5C495.4,667.9 580.9,667.9 580.9,715.2"/>
<path d="M665.0,620.5C665.0,667.9 581.3,667.9 581.3,715.2"/>
<path d="M350.3,620.5C350.3,667.9 465.9,667.9 465.9,715.2"/>
<path d="M347.7,620.5C347.7,667.9 381.1,667.9 381.1,715.2"/>
<path d="M281.5,620.5C281.5,667.9 188.4,667.9 188.4,715.2"/>
<path d="M514.5,620.5C514.5,667.9 188.8,667.9 188.8,715.2"/>
<path d="M386.2,620.5C386.2,667.9 185.4,667.9 185.4,715.2"/>
<path d="M646.5,620.5C646.5,667.9 292.9,667.9 292.9,715.2"/>
<path d="M101.3,620.5C101.3,667.9 186.0,667.9 186.0,715.2"/>
<path d="M352.3,620.5C352.3,667.9 470.0,667.9 470.0,715.2"/>
<path d="M192.2,620.5C192.2,667.9 167.6,667.9 167.6,715.2"/>
<path d="M218.9,620.5C218.9,667.9 680.0,667.9 680.0,715.2"/>
<path d="M92.5,620.5C92.5,667.9 54.5,667.9 54.5,715.2"/>
<path d="M444.9,620.5C444.9,667.9 123.0,667.9 123.0,715.2"/>
<path d="M334.9,620.5C334.9,667.9 522.0,667.9 522.0,715.2"/>
<path d="M620.3,620.5C620.3,667.9 258.6,667.9 258.6,715.2"/>
<path d="M236.5,620.5C236.5,667.9 162.6,667.9 162.6,715.2"/>
<path d="M393.3,620.5C393.3,667.9 505.2,667.9 505.2,715.2"/>
<path d="M393.6,620.5C393.6,667.9 325.4,667.9 325.4,715.2"/>
<path d="M217.5,620.5C217.5,667.9 466.5,667.9 466.5,715.2"/>
<path d="M195.8,620.5C195.8,667.9 253.1,667.9 253.1,715.2"/>
<path d="M364.7,620.5C364.7,667.9 184.3,667.9 184.3,715.2"/>
<path d="M374.6,620.5C374.6,667.9 42.7,667.9 42.7,715.2"/>
<path d="M440.2,620.5C440.2,667.9 272.0,667.9 272.0,715.2"/>
<path d="M491.3,620.5C491.3,667.9 511.2,667.9 511.2,715.2"/>
<path d="M620.9,620.5C620.9,667.9 78.0,667.9 78.0,715.2"/>
<path d="M645.4,620.5C645.4,667.9 318.0,667.9 318.0,715.2"/>
<path d="M391.9,620.5C391.9,667.9 555.6,667.9 555.6,715.2"/>
<path d="M76.8,725.6C76.8,772.9 93.6,772.9 93.6,820.1"/>
<path d="M659.4,725.6C659.4,772.9 124.1,772.9 124.1,820.1"/>
<path d="M53.0,725.6C53.0,772.9 297.9,772.9 297.9,820.1"/>
<path d="M542.3,725.6C542.3,772.9 238.2,772.9 238.2,820.1"/>
<path d="M415.3,725.6C415.3,772.9 511.6,772.9 511.6,820.1"/>
<path d="M294.5,725.6C294.5,772.9 660.8,772.9 660.8,820.1"/>
<path d="M359.9,725.6C359.9,772.9 619.3,772.9 619.3,820.1"/>
<path d="M168.7,725.6C168.7,772.9 465.8,772.9 465.8,820.1"/>
<path d="M508.6,725.6C508.6,772.9 548.3,772.9 548.3,820.1"/>
<path d="M185.6,725.6C185.6,772.9 424.2,772.9 424.2,820.1"/>
<path d="M635.8,725.6C635.8,772.9 369.1,772.9 369.1,820.1"/>
<path d="M550.5,725.6C550.5,772.9 298.1,772.9 298.1,820.1"/>
<path d="M391.6,725.6C391.6,772.9 308.1,772.9 308.1,820.1"/>
<path d="M210.4,725.6C210.4,772.9 647.9,772.9 647.9,820.1"/>
<path d="M358.4,725.6C358.4,772.9 189.4,772.9 189.4,820.1"/>
<path d="M185.0,725.6C185.0,772.9 353.7,772.9 353.7,820.1"/>
<path d="M39.6,725.6C39.6,772.9 505.6,772.9 505.6,820.1"/>
<path d="M158.8,725.6C158.8,772.9 527.8,772.9 527.8,820.1"/>
<path d="M242.7,725.6C242.7,772.9 188.1,772.9 188.1,820.1"/>
<path d="M162.9,725.6C162.9,772.9 362.3,772.9 362.3,820.1"/>
<path d="M291.2,725.6C291.2,772.9 674.8,772.9 674.8,820.1"/>
<path d="M312.7,725.6C312.7,772.9 432.5,772.9 432.5,820.1"/>
<path d="M398.9,725.6C398.9,772.9 365.6,772.9 365.6,820.1"/>
<path d="M42.1,725.6C42.1,772.9 615.4,772.9 615.4,820.1"/>
<path d="M77.9,725.6C77.9,772.9 557.2,772.9 557.2,820.1"/>
<path d="M562.3,725.6C562.3,772.9 606.5,772.9 606.5,820.1"/>
<path d="M155.6,725.6C155.6,772.9 667.8,772.9 667.8,820.1"/>
<path d="M552.4,725.6C552.4,772.9 466.5,772.9 466.5,820.1"/>
<path d="M473.5,725.6C473.5,772.9 419.6,772.9 419.6,820.1"/>
<path d="M86.9,725.6C86.9,772.9 69.4,772.9 69.4,820.1"/>
<path d="M552.6,725.6C552.6,772.9 548.9,772.9 548.9,820.1"/>
<path d="M99.2,725.6C99.2,772.9 198.3,772.9 198.3,820.1"/>
<path d="M401.7,725.6C401.7,772.9 665.4,772.9 665.4,820.1"/>
<path d="M264.3,725.6C264.3,772.9 515.4,772.9 515.4,820.1"/>
<path d="M189.9,725.6C189.9,772.9 454.2,772.9 454.2,820.1"/>
<path d="M224.8,725.6C224.8,772.9 620.2,772.9 620.2,820.1"/>
<path d="M190.5,725.6C190.5,772.9 135.4,772.9 135.4,820.1"/>
<path d="M312.6,725.6C312.6,772.9 80.1,772.9 80.1,820.1"/>
<path d="M324.2,725.6C324.2,772.9 363.1,772.9 363.1,820.1"/>
<path d="M656.9,725.6C656.9,772.9 404.5,772.9 404.5,820.1"/>
<path d="M335.5,725.6C335.5,772.9 238.6,772.9 238.6,820.1"/>
<path d="M667.0,725.6C667.0,772.9 484.7,772.9 484.7,820.1"/>
<path d="M134.2,725.6C134.2,772.9 83.5,772.9 83.5,820.1"/>
<path d="M679.5,725.6C679.5,772.9 148.9,772.9 148.9,820.1"/>
<path d="M190.4,725.6C190.4,772.9 177.7,772.9 177.7,820.1"/>
<path d="M99.1,725.6C99.1,772.9 272.9,772.9 272.9,820.1"/>
<path d="M160.3,725.6C160.3,772.9 558.4,772.9 558.4,820.1"/>
<path d="M563.4,725.6C563.4,772.9 115.5,772.9 115.5,820.1"/>
<path d="M258.2,725.6C258.2,772.9 377.7,772.9 377.7,820.1"/>
<path d="M259.0,725.6C259.0,772.9 411.3,772.9 411.3,820.1"/>
<path d="M394.2,725.6C394.2,772.9 626.0,772.9 626.0,820.1"/>
<path d="M263.1,725.6C263.1,772.9 209.1,772.9 209.1,820.1"/>
<path d="M221.5,725.6C221.5,772.9 451.4,772.9 451.4,820.1"/>
<path d="M313.9,725.6C313.9,772.9 368.5,772.9 368.5,820.1"/>
<path d="M423.9,725.6C423.9,772.9 96.5,772.9 96.5,820.1"/>
<path d="M264.3,725.6C264.3,772.9 377.5,772.9 377.5,820.1"/>
<path d="M507.3,725.6C507.3,772.9 141.1,772.9 141.1,820.1"/>
<path d="M511.8,725.6C511.8,772.9 559.0,772.9 559.0,820.1"/>
<path d="M545.3,725.6C545.3,772.9 155.7,772.9 155.7,820.1"/>
<path d="M429.8,725.6C429.8,772.9 406.0,772.9 406.0,820.1"/>
<path d="M158.2,725.6C158.2,772.9 331.1,772.9 331.1,820.1"/>
<path d="M131.4,725.6C131.4,772.9 458.8,772.9 458.8,820.1"/>
<path d="M591.1,725.6C591.1,772.9 657.9,772.9 657.9,820.1"/>
<path d="M290.7,725.6C290.7,772.9 128.6,772.9 128.6,820.1"/>
<path d="M383.6,725.6C383.6,772.9 476.0,772.9 476.0,820.1"/>
<path d="M318.4,725.6C318.4,772.9 643.7,772.9 643.7,820.1"/>
<path d="M285.9,725.6C285.9,772.9 352.0,772.9 352.0,820.1"/>
<path d="M320.8,725.6C320.8,772.9 308.3,772.9 308.3,820.1"/>
<path d="M162.4,725.6C162.4,772.9 132.7,772.9 132.7,820.1"/>
<path d="M244.8,725.6C244.8,772.9 348.0,772.9 348.0,820.1"/>
<path d="M52.5,725.6C52.5,772.9 616.7,772.9 616.7,820.1"/>
<path d="M51.5,725.6C51.5,772.9 195.1,772.9 195.1,820.1"/>
<path d="M419.9,725.6C419.9,772.9 513.0,772.9 513.0,820.1"/>
<path d="M100.3,725.6C100.3,772.9 96.4,772.9 96.4,820.1"/>
<path d="M471.4,725.6C471.4,772.9 264.6,772.9 264.6,820.1"/>
<path d="M169.7,725.6C169.7,772.9 158.5,772.9 158.5,820.1"/>
<path d="M482.4,725.6C482.4,772.9 258.7,772.9 258.7,820.1"/>
<path d="M257.1,725.6C257.1,772.9 197.3,772.9 197.3,820.1"/>
<path d="M165.5,725.6C165.5,772.9 111.5,772.9 111.5,820.1"/>
<path d="M327.9,725.6C327.9,772.9 660.1,772.9 660.1,820.1"/>
<path d="M160.6,725.6C160.6,772.9 173.7,772.9 173.7,820.1"/>
<path d="M442.3,725.6C442.3,772.9 45.1,772.9 45.1,820.1"/>
<path d="M516.0,725.6C516.0,772.9 531.6,772.9 531.6,820.1"/>
<path d="M158.5,725.6C158.5,772.9 520.0,772.9 520.0,820.1"/>
<path d="M128.9,725.6C128.9,772.9 204.2,772.9 204.2,820.1"/>
<path d="M632.7,725.6C632.7,772.9 308.8,772.9 308.8,820.1"/>
<path d="M288.4,725.6C288.4,772.9 414.6,772.9 414.6,820.1"/>
<path d="M259.9,725.6C259.9,772.9 199.3,772.9 199.3,820.1"/>
<path d="M545.3,725.6C545.3,772.9 149.5,772.9 149.5,820.1"/>
<path d="M625.2,725.6C625.2,772.9 562.2,772.9 562.2,820.1"/>
<path d="M518.2,725.6C518.2,772.9 677.5,772.9 677.5,820.1"/>
<path d="M523.5,725.6C523.5,772.9 242.2,772.9 242.2,820.1"/>
<path d="M165.4,725.6C165.4,772.9 656.6,772.9 656.6,820.1"/>
<path d="M356.6,725.6C356.6,772.9 62.3,772.9 62.3,820.1"/>
<path d="M588.5,725.6C588.5,772.9 522.2,772.9 522.2,820.1"/>
<path d="M83.1,725.6C83.1,772.9 298.5,772.9 298.5,820.1"/>
<path d="M324.6,725.6C324.6,772.9 625.0,772.9 625.0,820.1"/>
<path d="M399.2,725.6C399.2,772.9 264.8,772.9 264.8,820.1"/>
<path d="M678.8,725.6C678.8,772.9 574.9,772.9 574.9,820.1"/>
<path d="M160.0,725.6C160.0,772.9 305.6,772.9 305.6,820.1"/>
<path d="M316.5,725.6C316.5,772.9 131.6,772.9 131.6,820.1"/>
<path d="M591.0,725.6C591.0,772.9 606.8,772.9 606.8,820.1"/>
<path d="M544.9,725.6C544.9,772.9 326.8,772.9 326.8,820.1"/>
<path d="M76.4,725.6C76.4,772.9 417.6,772.9 417.6,820.1"/>
<path d="M483.2,725.6C483.2,772.9 594.4,772.9 594.4,820.1"/>
<path d="M415.9,725.6C415.9,772.9 364.1,772.9 364.1,820.1"/>
<path d="M291.5,725.6C291.5,772.9 517.8,772.9 517.8,820.1"/>
<path d="M46.2,725.6C46.2,772.9 574.5,772.9 574.5,820.1"/>
<path d="M51.8,725.6C51.8,772.9 380.6,772.9 380.6,820.1"/>
<path d="M442.8,725.6C442.8,772.9 656.3,772.9 656.3,820.1"/>
<path d="M352.7,725.6C352.7,772.9 549.2,772.9 549.2,820.1"/>
<path d="M217.0,725.6C217.0,772.9 525.5,772.9 525.5,820.1"/>
<path d="M416.5,725.6C416.5,772.9 121.4,772.9 121.4,820.1"/>
<path d="M331.6,725.6C331.6,772.9 421.3,772.9 421.3,820.1"/>
<path d="M426.6,725.6C426.6,772.9 316.9,772.9 316.9,820.1"/>
<path d="M155.0,725.6C155.0,772.9 272.8,772.9 272.8,820.1"/>
<path d="M377.2,725.6C377.2,772.9 211.6,772.9 211.6,820.1"/>
<path d="M358.0,725.6C358.0,772.9 96.8,772.9 96.8,820.1"/>
<path d="M581.1,725.6C581.1,772.9 549.9,772.9 549.9,820.1"/>
<path d="M191.3,725.6C191.3,772.9 617.5,772.9 617.5,820.1"/>
<path d="M259.6,725.6C259.6,772.9 86.6,772.9 86.6,820.1"/>
<path d="M592.0,725.6C592.0,772.9 614.0,772.9 614.0,820.1"/>
<path d="M119.9,725.6C119.9,772.9 132.1,772.9 132.1,820.1"/>
<path d="M186.9,725.6C186.9,772.9 476.8,772.9 476.8,820.1"/>
<path d="M160.8,725.6C160.8,772.9 669.1,772.9 669.1,820.1"/>
<path d="M169.0,725.6C169.0,772.9 370.5,772.9 370.5,820.1"/>
<path d="M673.3,725.6C673.3,772.9 647.4,772.9 647.4,820.1"/>
<path d="M358.6,725.6C358.6,772.9 611.6,772.9 611.6,820.1"/>
<path d="M245.0,725.6C245.0,772.9 366.0,772.9 366.0,820.1"/>
<path d="M156.1,725.6C156.1,772.9 313.2,772.9 313.2,820.1"/>
<path d="M98.1,725.6C98.1,772.9 404.7,772.9 404.7,820.1"/>
<path d="M594.2,725.6C594.2,772.9 671.6,772.9 671.6,820.1"/>
<path d="M638.3,725.6C638.3,772.9 137.2,772.9 137.2,820.1"/>
<path d="M223.3,725.6C223.3,772.9 354.4,772.9 354.4,820.1"/>
<path d="M438.8,725.6C438.8,772.9 603.7,772.9 603.7,820.1"/>
<path d="M636.3,725.6C636.3,772.9 472.7,772.9 472.7,820.1"/>
<path d="M550.6,725.6C550.6,772.9 551.7,772.9 551.7,820.1"/>
<path d="M468.2,725.6C468.2,772.9 660.6,772.9 660.6,820.1"/>
<path d="M319.9,725.6C319.9,772.9 418.6,772.9 418.6,820.1"/>
<path d="M334.5,725.6C334.5,772.9 309.7,772.9 309.7,820.1"/>
<path d="M255.2,725.6C255.2,772.9 549.4,772.9 549.4,820.1"/>
<path d="M227.9,725.6C227.9,772.9 517.0,772.9 517.0,820.1"/>
<path d="M583.1,725.6C583.1,772.9 208.5,772.9 208.5,820.1"/>
<path d="M164.5,725.6C164.5,772.9 528.0,772.9 528.0,820.1"/>
<path d="M101.0,725.6C101.0,772.9 367.1,772.9 367.1,820.1"/>
<path d="M668.1,725.6C668.1,772.9 455.8,772.9 455.8,820.1"/>
<path d="M438.3,725.6C438.3,772.9 123.0,772.9 123.0,820.1"/>
<path d="M185.6,725.6C185.6,772.9 274.1,772.9 274.1,820.1"/>
<path d="M418.5,725.6C418.5,772.9 261.6,772.9 261.6,820.1"/>
<path d="M434.9,725.6C434.9,772.9 351.2,772.9 351.2,820.1"/>
<path d="M357.6,725.6C357.6,772.9 678.2,772.9 678.2,820.1"/>
<path d="M157.6,725.6C157.6,772.9 48.8,772.9 48.8,820.1"/>
<path d="M328.0,725.6C328.0,772.9 305.0,772.9 305.0,820.1"/>
<path d="M185.9,725.6C185.9,772.9 124.2,772.9 124.2,820.1"/>
<path d="M359.8,725.6C359.8,772.9 508.4,772.9 508.4,820.1"/>
<path d="M463.0,725.6C463.0,772.9 528.2,772.9 528.2,820.1"/>
<path d="M128.4,725.6C128.4,772.9 649.0,772.9 649.0,820.1"/>
<path d="M318.7,725.6C318.7,772.9 432.1,772.9 432.1,820.1"/>
<path d="M433.8,725.6C433.8,772.9 510.7,772.9 510.7,820.1"/>
<path d="M558.3,725.6C558.3,772.9 372.6,772.9 372.6,820.1"/>
<path d="M627.6,725.6C627.6,772.9 655.6,772.9 655.6,820.1"/>
<path d="M286.5,725.6C286.5,772.9 507.2,772.9 507.2,820.1"/>
<path d="M122.9,725.6C122.9,772.9 44.7,772.9 44.7,820.1"/>
<path d="M156.7,725.6C156.7,772.9 358.1,772.9 358.1,820.1"/>
<path d="M184.3,725.6C184.3,772.9 615.5,772.9 615.5,820.1"/>
<path d="M184.0,725.6C184.0,772.9 551.6,772.9 551.6,820.1"/>
<path d="M633.3,725.6C633.3,772.9 416.9,772.9 416.9,820.1"/>
<path d="M207.6,725.6C207.6,772.9 655.8,772.9 655.8,820.1"/>
<path d="M606.8,725.6C606.8,772.9 646.8,772.9 646.8,820.1"/>
<path d="M187.7,725.6C187.7,772.9 144.0,772.9 144.0,820.1"/>
<path d="M49.5,725.6C49.5,772.9 506.6,772.9 506.6,820.1"/>
<path d="M353.3,725.6C353.3,772.9 267.0,772.9 267.0,820.1"/>
<path d="M191.7,725.6C191.7,772.9 213.4,772.9 213.4,820.1"/>
<path d="M50.4,725.6C50.4,772.9 575.3,772.9 575.3,820.1"/>
<path d="M400.2,725.6C400.2,772.9 147.6,772.9 147.6,820.1"/>
<path d="M227.6,725.6C227.6,772.9 45.1,772.9 45.1,820.1"/>
<path d="M360.7,725.6C360.7,772.9 62.8,772.9 62.8,820.1"/>
<path d="M190.5,725.6C190.5,772.9 664.7,772.9 664.7,820.1"/>
<path d="M116.0,725.6C116.0,772.9 156.5,772.9 156.5,820.1"/>
<path d="M271.6,725.6C271.6,772.9 253.7,772.9 253.7,820.1"/>
<path d="M382.0,725.6C382.0,772.9 397.8,772.9 397.8,820.1"/>
<path d="M288.6,725.6C288.6,772.9 557.9,772.9 557.9,820.1"/>
<path d="M389.7,725.6C389.7,772.9 363.1,772.9 363.1,820.1"/>
<path d="M296.0,725.6C296.0,772.9 403.8,772.9 403.8,820.1"/>
<path d="M185.5,725.6C185.5,772.9 468.9,772.9 468.9,820.1"/>
<path d="M381.1,725.6C381.1,772.9 615.1,772.9 615.1,820.1"/>
<path d="M326.1,725.6C326.1,772.9 554.7,772.9 554.7,820.1"/>
<path d="M42.7,725.6C42.7,772.9 238.3,772.9 238.3,820.1"/>
<path d="M628.9,725.6C628.9,772.9 650.5,772.9 650.5,820.1"/>
<path d="M95.0,725.6C95.0,772.9 506.7,772.9 506.7,820.1"/>
<path d="M627.1,725.6C627.1,772.9 237.3,772.9 237.3,820.1"/>
<path d="M679.9,725.6C679.9,772.9 370.6,772.9 370.6,820.1"/>
<path d="M136.8,725.6C136.8,772.9 434.5,772.9 434.5,820.1"/>
<path d="M522.6,725.6C522.6,772.9 250.6,772.9 250.6,820.1"/>
<path d="M253.6,725.6C253.6,772.9 316.6,772.9 316.6,820.1"/>
<path d="M126.8,725.6C126.8,772.9 41.8,772.9 41.8,820.1"/>
<path d="M82.9,725.6C82.9,772.9 131.4,772.9 131.4,820.1"/>
<path d="M208.9,725.6C208.9,772.9 242.5,772.9 242.5,820.1"/>
<path d="M607.8,725.6C607.8,772.9 359.2,772.9 359.2,820.1"/>
<path d="M184.9,725.6C184.9,772.9 654.6,772.9 654.6,820.1"/>
<path d="M77.3,725.6C77.3,772.9 206.0,772.9 206.0,820.1"/>
<path d="M295.5,725.6C295.5,772.9 674.7,772.9 674.7,820.1"/>
<path d="M550.8,725.6C550.8,772.9 647.5,772.9 647.5,820.1"/>
<path d="M314.6,725.6C314.6,772.9 157.7,772.9 157.7,820.1"/>
<path d="M434.5,725.6C434.5,772.9 125.8,772.9 125.8,820.1"/>
<path d="M218.9,725.6C218.9,772.9 315.3,772.9 315.3,820.1"/>
<path d="M675.8,725.6C675.8,772.9 480.1,772.9 480.1,820.1"/>
<path d="M627.4,725.6C627.4,772.9 115.1,772.9 115.1,820.1"/>
<path d="M285.9,725.6C285.9,772.9 332.0,772.9 332.0,820.1"/>
<path d="M625.8,725.6C625.8,772.9 369.5,772.9 369.5,820.1"/>
<path d="M158.3,725.6C158.3,772.9 560.4,772.9 560.4,820.1"/>
<path d="M593.3,725.6C593.3,772.9 241.9,772.9 241.9,820.1"/>
<path d="M608.4,725.6C608.4,772.9 64.3,772.9 64.3,820.1"/>
<path d="M474.8,725.6C474.8,772.9 301.7,772.9 301.7,820.1"/>
<path d="M214.8,725.6C214.8,772.9 278.6,772.9 278.6,820.1"/>
<path d="M43.4,725.6C43.4,772.9 474.2,772.9 474.2,820.1"/>
<path d="M126.6,725.6C126.6,772.9 189.1,772.9 189.1,820.1"/>
<path d="M212.6,725.6C212.6,772.9 58.3,772.9 58.3,820.1"/>
<path d="M665.3,725.6C665.3,772.9 459.8,772.9 459.8,820.1"/>
<path d="M380.6,725.6C380.6,772.9 214.6,772.9 214.6,820.1"/>
<path d="M513.3,725.6C513.3,772.9 560.4,772.9 560.4,820.1"/>
<path d="M400.6,725.6C400.6,772.9 459.1,772.9 459.1,820.1"/>
<path d="M216.3,725.6C216.3,772.9 531.9,772.9 531.9,820.1"/>
<path d="M359.5,725.6C359.5,772.9 654.4,772.9 654.4,820.1"/>
<path d="M670.3,725.6C670.3,772.9 206.1,772.9 206.1,820.1"/>
<path d="M383.6,725.6C383.6,772.9 141.2,772.9 141.2,820.1"/>
<path d="M45.7,725.6C45.7,772.9 507.3,772.9 507.3,820.1"/>
<path d="M635.6,725.6C635.6,772.9 590.8,772.9 590.8,820.1"/>
<path d="M591.4,725.6C591.4,772.9 472.7,772.9 472.7,820.1"/>
<path d="M543.4,725.6C543.4,772.9 364.6,772.9 364.6,820.1"/>
<path d="M581.5,725.6C581.5,772.9 218.7,772.9 218.7,820.1"/>
<path d="M324.7,725.6C324.7,772.9 43.7,772.9 43.7,820.1"/>
<path d="M78.5,725.6C78.5,772.9 427.0,772.9 427.0,820.1"/>
<path d="M315.9,725.6C315.9,772.9 609.5,772.9 609.5,820.1"/>
<path d="M511.3,725.6C511.3,772.9 93.7,772.9 93.7,820.1"/>
<path d="M604.9,725.6C604.9,772.9 186.7,772.9 186.7,820.1"/>
<path d="M632.5,725.6C632.5,772.9 264.5,772.9 264.5,820.1"/>
<path d="M561.1,725.6C561.1,772.9 624.9,772.9 624.9,820.1"/>
<path d="M294.6,725.6C294.6,772.9 652.9,772.9 652.9,820.1"/>
<path d="M359.9,725.6C359.9,772.9 178.5,772.9 178.5,820.1"/>
<path d="M588.6,725.6C588.6,772.9 237.3,772.9 237.3,820.1"/>
<path d="M56.7,725.6C56.7,772.9 603.5,772.9 603.5,820.1"/>
<path d="M486.7,725.6C486.7,772.9 623.0,772.9 623.0,820.1"/>
<path d="M208.1,725.6C208.1,772.9 328.1,772.9 328.1,820.1"/>
<path d="M353.3,725.6C353.3,772.9 566.9,772.9 566.9,820.1"/>
<path d="M336.1,725.6C336.1,772.9 565.6,772.9 565.6,820.1"/>
<path d="M84.5,725.6C84.5,772.9 425.9,772.9 425.9,820.1"/>
<path d="M49.7,725.6C49.7,772.9 475.2,772.9 475.2,820.1"/>
<path d="M586.3,725.6C586.3,772.9 655.8,772.9 655.8,820.1"/>
<path d="M55.4,725.6C55.4,772.9 481.5,772.9 481.5,820.1"/>
<path d="M288.3,725.6C288.3,772.9 569.2,772.9 569.2,820.1"/>
<path d="M188.0,725.6C188.0,772.9 363.6,772.9 363.6,820.1"/>
<path d="M206.2,725.6C206.2,772.9 321.2,772.9 321.2,820.1"/>
<path d="M158.9,725.6C158.9,772.9 91.7,772.9 91.7,820.1"/>
<path d="M356.6,725.6C356.6,772.9 564.8,772.9 564.8,820.1"/>
<path d="M560.4,725.6C560.4,772.9 351.2,772.9 351.2,820.1"/>
<path d="M257.9,725.6C257.9,772.9 452.4,772.9 452.4,820.1"/>
<path d="M167.5,725.6C167.5,772.9 505.5,772.9 505.5,820.1"/>
<path d="M627.2,725.6C627.2,772.9 277.4,772.9 277.4,820.1"/>
<path d="M422.0,725.6C422.0,772.9 361.2,772.9 361.2,820.1"/>
<path d="M377.7,725.6C377.7,772.9 357.6,772.9 357.6,820.1"/>
<path d="M666.3,725.6C666.3,772.9 431.5,772.9 431.5,820.1"/>
<path d="M606.6,725.6C606.6,772.9 117.1,772.9 117.1,820.1"/>
<path d="M514.5,725.6C514.5,772.9 425.6,772.9 425.6,820.1"/>
<path d="M675.6,725.6C675.6,772.9 529.6,772.9 529.6,820.1"/>
<path d="M325.9,725.6C325.9,772.9 434.4,772.9 434.4,820.1"/>
<path d="M623.7,725.6C623.7,772.9 209.1,772.9 209.1,820.1"/>
<path d="M89.8,725.6C89.8,772.9 199.0,772.9 199.0,820.1"/>
<path d="M331.1,725.6C331.1,772.9 567.8,772.9 567.8,820.1"/>
<path d="M383.2,725.6C383.2,772.9 592.2,772.9 592.2,820.1"/>
<path d="M85.1,725.6C85.1,772.9 433.6,772.9 433.6,820.1"/>
<path d="M585.4,725.6C585.4,772.9 328.7,772.9 328.7,820.1"/>
<path d="M87.9,725.6C87.9,772.9 54.4,772.9 54.4,820.1"/>
<path d="M562.6,725.6C562.6,772.9 415.8,772.9 415.8,820.1"/>
<path d="M290.2,725.6C290.2,772.9 599.7,772.9 599.7,820.1"/>
<path d="M503.3,725.6C503.3,772.9 663.3,772.9 663.3,820.1"/>
<path d="M286.3,725.6C286.3,772.9 465.8,772.9 465.8,820.1"/>
<path d="M460.3,725.6C460.3,772.9 424.4,772.9 424.4,820.1"/>
<path d="M156.9,725.6C156.9,772.9 273.7,772.9 273.7,820.1"/>
<path d="M608.6,725.6C608.6,772.9 379.4,772.9 379.4,820.1"/>
<path d="M159.0,725.6C159.0,772.9 51.6,772.9 51.6,820.1"/>
<path d="M634.1,725.6C634.1,772.9 657.4,772.9 657.4,820.1"/>
<path d="M249.9,725.6C249.9,772.9 144.7,772.9 144.7,820.1"/>
<path d="M547.0,725.6C547.0,772.9 607.0,772.9 607.0,820.1"/>
<path d="M552.4,725.6C552.4,772.9 263.4,772.9 263.4,820.1"/>
<path d="M524.8,725.6C524.8,772.9 569.1,772.9 569.1,820.1"/>
<path d="M559.4,725.6C559.4,772.9 623.5,772.9 623.5,820.1"/>
<path d="M557.7,725.6C557.7,772.9 624.2,772.9 624.2,820.1"/>
<path d="M485.3,725.6C485.3,772.9 146.3,772.9 146.3,820.1"/>
<path d="M353.0,725.6C353.0,772.9 574.0,772.9 574.0,820.1"/>
<path d="M552.4,725.6C552.4,772.9 601.8,772.9 601.8,820.1"/>
<path d="M128.3,725.6C128.3,772.9 655.4,772.9 655.4,820.1"/>
<path d="M458.6,725.6C458.6,772.9 410.0,772.9 410.0,820.1"/>
<path d="M508.8,725.6C508.8,772.9 558.2,772.9 558.2,820.1"/>
<path d="M467.3,725.6C467.3,772.9 269.0,772.9 269.0,820.1"/>
<path d="M503.7,725.6C503.7,772.9 549.0,772.9 549.0,820.1"/>
<path d="M267.4,725.6C267.4,772.9 399.7,772.9 399.7,820.1"/>
<path d="M395.4,725.6C395.4,772.9 560.9,772.9 560.9,820.1"/>
<path d="M329.0,725.6C329.0,772.9 515.6,772.9 515.6,820.1"/>
<path d="M228.2,725.6C228.2,772.9 208.5,772.9 208.5,820.1"/>
<path d="M397.0,725.6C397.0,772.9 530.9,772.9 530.9,820.1"/>
<path d="M330.3,725.6C330.3,772.9 365.7,772.9 365.7,820.1"/>
<path d="M589.3,725.6C589.3,772.9 620.3,772.9 620.3,820.1"/>
<path d="M599.1,725.6C599.1,772.9 329.4,772.9 329.4,820.1"/>
<path d="M519.7,725.6C519.7,772.9 139.9,772.9 139.9,820.1"/>
<path d="M553.0,725.6C553.0,772.9 532.1,772.9 532.1,820.1"/>
<path d="M56.7,725.6C56.7,772.9 362.4,772.9 362.4,820.1"/>
<path d="M73.8,725.6C73.8,772.9 316.0,772.9 316.0,820.1"/>
<path d="M221.4,725.6C221.4,772.9 252.4,772.9 252.4,820.1"/>
<path d="M314.6,725.6C314.6,772.9 562.5,772.9 562.5,820.1"/>
<path d="M49.2,725.6C49.2,772.9 421.7,772.9 421.7,820.1"/>
<path d="M190.2,725.6C190.2,772.9 623.2,772.9 623.2,820.1"/>
<path d="M288.0,725.6C288.0,772.9 45.6,772.9 45.6,820.1"/>
<path d="M130.5,725.6C130.5,772.9 81.7,772.9 81.7,820.1"/>
<path d="M311.4,725.6C311.4,772.9 79.1,772.9 79.1,820.1"/>
<path d="M51.4,725.6C51.4,772.9 327.7,772.9 327.7,820.1"/>
<path d="M261.0,725.6C261.0,772.9 371.6,772.9 371.6,820.1"/>
<path d="M397.1,725.6C397.1,772.9 273.4,772.9 273.4,820.1"/>
<path d="M377.1,725.6C377.1,772.9 555.4,772.9 555.4,820.1"/>
<path d="M642.7,725.6C642.7,772.9 260.1,772.9 260.1,820.1"/>
<path d="M380.2,725.6C380.2,772.9 374.7,772.9 374.7,820.1"/>
<path d="M506.7,725.6C506.7,772.9 216.1,772.9 216.1,820.1"/>
<path d="M216.4,725.6C216.4,772.9 567.2,772.9 567.2,820.1"/>
<path d="M265.4,725.6C265.4,772.9 377.6,772.9 377.6,820.1"/>
<path d="M291.0,725.6C291.0,772.9 52.1,772.9 52.1,820.1"/>
<path d="M96.8,725.6C96.8,772.9 645.4,772.9 645.4,820.1"/>
<path d="M678.7,725.6C678.7,772.9 44.3,772.9 44.3,820.1"/>
<path d="M89.2,725.6C89.2,772.9 473.7,772.9 473.7,820.1"/>
<path d="M460.0,725.6C460.0,772.9 131.0,772.9 131.0,820.1"/>
<path d="M218.3,725.6C218.3,772.9 77.5,772.9 77.5,820.1"/>
<path d="M377.8,725.6C377.8,772.9 303.8,772.9 303.8,820.1"/>
<path d="M45.8,725.6C45.8,772.9 347.5,772.9 347.5,820.1"/>
<path d="M353.8,725.6C353.8,772.9 39.7,772.9 39.7,820.1"/>
<path d="M355.2,725.6C355.2,772.9 185.7,772.9 185.7,820.1"/>
<path d="M156.2,725.6C156.2,772.9 133.4,772.9 133.4,820.1"/>
<path d="M625.9,725.6C625.9,772.9 529.1,772.9 529.1,820.1"/>
<path d="M558.4,725.6C558.4,772.9 511.0,772.9 511.0,820.1"/>
<path d="M469.2,725.6C469.2,772.9 313.1,772.9 313.1,820.1"/>
<path d="M634.0,725.6C634.0,772.9 248.2,772.9 248.2,820.1"/>
<path d="M353.8,725.6C353.8,772.9 76.4,772.9 76.4,820.1"/>
<path d="M90.0,725.6C90.0,772.9 315.1,772.9 315.1,820.1"/>
<path d="M440.1,725.6C440.1,772.9 523.4,772.9 523.4,820.1"/>
<path d="M436.5,725.6C436.5,772.9 453.4,772.9 453.4,820.1"/>
<path d="M633.6,725.6C633.6,772.9 575.2,772.9 575.2,820.1"/>
<path d="M244.3,725.6C244.3,772.9 259.4,772.9 259.4,820.1"/>
<path d="M390.3,725.6C390.3,772.9 519.8,772.9 519.8,820.1"/>
<path d="M97.1,725.6C97.1,772.9 514.2,772.9 514.2,820.1"/>
<path d="M128.1,725.6C128.1,772.9 111.9,772.9 111.9,820.1"/>
<path d="M190.3,725.6C190.3,772.9 666.0,772.9 666.0,820.1"/>
<path d="M160.8,725.6C160.8,772.9 419.3,772.9 419.3,820.1"/>
<path d="M670.5,725.6C670.5,772.9 567.3,772.9 567.3,820.1"/>
<path d="M126.6,725.6C126.6,772.9 265.7,772.9 265.7,820.1"/>
<path d="M270.4,725.6C270.4,772.9 611.0,772.9 611.0,820.1"/>
<path d="M401.6,725.6C401.6,772.9 613.6,772.9 613.6,820.1"/>
<path d="M43.4,725.6C43.4,772.9 625.2,772.9 625.2,820.1"/>
<path d="M121.5,725.6C121.5,772.9 308.1,772.9 308.1,820.1"/>
<path d="M668.9,725.6C668.9,772.9 597.6,772.9 597.6,820.1"/>
<path d="M266.7,725.6C266.7,772.9 651.2,772.9 651.2,820.1"/>
<path d="M206.9,725.6C206.9,772.9 80.9,772.9 80.9,820.1"/>
<path d="M190.2,725.6C190.2,772.9 591.8,772.9 591.8,820.1"/>
<path d="M225.9,725.6C225.9,772.9 626.4,772.9 626.4,820.1"/>
<path d="M396.9,725.6C396.9,772.9 649.8,772.9 649.8,820.1"/>
<path d="M163.5,725.6C163.5,772.9 592.3,772.9 592.3,820.1"/>
<path d="M354.8,725.6C354.8,772.9 600.1,772.9 600.1,820.1"/>
<path d="M215.1,725.6C215.1,772.9 626.8,772.9 626.8,820.1"/>
<path d="M292.3,725.6C292.3,772.9 329.8,772.9 329.8,820.1"/>
<path d="M117.5,725.6C117.5,772.9 205.7,772.9 205.7,820.1"/>
<path d="M467.0,725.6C467.0,772.9 616.8,772.9 616.8,820.1"/>
<path d="M486.8,725.6C486.8,772.9 364.5,772.9 364.5,820.1"/>
<path d="M83.7,725.6C83.7,772.9 558.3,772.9 558.3,820.1"/>
<path d="M627.2,725.6C627.2,772.9 112.6,772.9 112.6,820.1"/>
<path d="M431.1,725.6C431.1,772.9 402.7,772.9 402.7,820.1"/>
<path d="M210.3,725.6C210.3,772.9 67.8,772.9 67.8,820.1"/>
<path d="M290.7,725.6C290.7,772.9 478.6,772.9 478.6,820.1"/>
<path d="M128.4,725.6C128.4,772.9 46.3,772.9 46.3,820.1"/>
<path d="M472.5,725.6C472.5,772.9 420.3,772.9 420.3,820.1"/>
<path d="M223.0,725.6C223.0,772.9 674.4,772.9 674.4,820.1"/>
<path d="M438.9,725.6C438.9,772.9 186.0,772.9 186.0,820.1"/>
<path d="M98.1,725.6C98.1,772.9 274.9,772.9 274.9,820.1"/>
<path d="M462.6,725.6C462.6,772.9 644.9,772.9 644.9,820.1"/>
<path d="M391.7,725.6C391.7,772.9 73.2,772.9 73.2,820.1"/>
<path d="M288.9,725.6C288.9,772.9 255.6,772.9 255.6,820.1"/>
<path d="M507.3,725.6C507.3,772.9 610.2,772.9 610.2,820.1"/>
<path d="M119.8,725.6C119.8,772.9 526.4,772.9 526.4,820.1"/>
<path d="M506.0,725.6C506.0,772.9 568.4,772.9 568.4,820.1"/>
<path d="M159.8,725.6C159.8,772.9 462.0,772.9 462.0,820.1"/>
<path d="M42.9,725.6C42.9,772.9 379.8,772.9 379.8,820.1"/>
<path d="M525.2,725.6C525.2,772.9 571.3,772.9 571.3,820.1"/>
<path d="M356.8,725.6C356.8,772.9 595.6,772.9 595.6,820.1"/>
<path d="M482.7,725.6C482.7,772.9 379.4,772.9 379.4,820.1"/>
<path d="M168.2,725.6C168.2,772.9 54.1,772.9 54.1,820.1"/>
<path d="M353.7,725.6C353.7,772.9 144.3,772.9 144.3,820.1"/>
<path d="M220.0,725.6C220.0,772.9 373.9,772.9 373.9,820.1"/>
<path d="M162.6,725.6C162.6,772.9 146.3,772.9 146.3,820.1"/>
<path d="M432.1,725.6C432.1,772.9 626.5,772.9 626.5,820.1"/>
<path d="M336.5,725.6C336.5,772.9 475.9,772.9 475.9,820.1"/>
<path d="M185.9,725.6C185.9,772.9 472.3,772.9 472.3,820.1"/>
<path d="M190.1,725.6C190.1,772.9 593.0,772.9 593.0,820.1"/>
<path d="M316.2,725.6C316.2,772.9 558.4,772.9 558.4,820.1"/>
<path d="M322.4,725.6C322.4,772.9 54.0,772.9 54.0,820.1"/>
<path d="M429.6,725.6C429.6,772.9 552.9,772.9 552.9,820.1"/>
<path d="M316.0,725.6C316.0,772.9 521.2,772.9 521.2,820.1"/>
<path d="M41.5,725.6C41.5,772.9 643.3,772.9 643.3,820.1"/>
<path d="M392.8,725.6C392.8,772.9 489.3,772.9 489.3,820.1"/>
<path d="M40.6,725.6C40.6,772.9 675.9,772.9 675.9,820.1"/>
<path d="M584.9,725.6C584.9,772.9 483.9,772.9 483.9,820.1"/>
<path d="M509.1,725.6C509.1,772.9 515.3,772.9 515.3,820.1"/>
<path d="M394.9,725.6C394.9,772.9 471.2,772.9 471.2,820.1"/>
<path d="M191.2,725.6C191.2,772.9 626.8,772.9 626.8,820.1"/>
<path d="M245.9,725.6C245.9,772.9 552.1,772.9 552.1,820.1"/>
<path d="M84.1,725.6C84.1,772.9 198.7,772.9 198.7,820.1"/>
<path d="M259.4,725.6C259.4,772.9 604.1,772.9 604.1,820.1"/>
<path d="M82.5,725.6C82.5,772.9 46.9,772.9 46.9,820.1"/>
<path d="M328.4,725.6C328.4,772.9 516.9,772.9 516.9,820.1"/>
<path d="M442.2,725.6C442.2,772.9 76.0,772.9 76.0,820.1"/>
<path d="M48.0,725.6C48.0,772.9 112.7,772.9 112.7,820.1"/>
<path d="M225.1,725.6C225.1,772.9 198.0,772.9 198.0,820.1"/>
<path d="M184.6,725.6C184.6,772.9 672.5,772.9 672.5,820.1"/>
<path d="M441.5,725.6C441.5,772.9 370.6,772.9 370.6,820.1"/>
<path d="M440.5,725.6C440.5,772.9 522.1,772.9 522.1,820.1"/>
</g>
<g fill="none" stroke="#3535cf" stroke-width="0.95">
<path d="M38.8,620.5C38.8,667.9 520.0,667.9 520.0,715.2"/>
<path d="M39.2,620.5C39.2,667.9 557.0,667.9 557.0,715.2"/>
<path d="M39.6,620.5C39.6,667.9 600.0,667.9 600.0,715.2"/>
<path d="M40.0,620.5C40.0,667.9 672.8,667.9 672.8,715.2"/>
<path d="M133.6,620.5C133.6,667.9 518.0,667.9 518.0,715.2"/>
<path d="M148.0,620.5C148.0,667.9 521.0,667.9 521.0,715.2"/>
<path d="M201.7,620.5C201.7,667.9 556.0,667.9 556.0,715.2"/>
<path d="M224.8,620.5C224.8,667.9 517.0,667.9 517.0,715.2"/>
<path d="M287.9,620.5C287.9,667.9 430.0,667.9 430.0,715.2"/>
<path d="M355.8,620.5C355.8,667.9 558.0,667.9 558.0,715.2"/>
<path d="M362.3,620.5C362.3,667.9 429.0,667.9 429.0,715.2"/>
<path d="M470.0,620.5C470.0,667.9 518.5,667.9 518.5,715.2"/>
<path d="M479.3,620.5C479.3,667.9 169.7,667.9 169.7,715.2"/>
<path d="M501.6,620.5C501.6,667.9 363.6,667.9 363.6,715.2"/>
<path d="M628.3,620.5C628.3,667.9 566.0,667.9 566.0,715.2"/>
<path d="M654.0,620.5C654.0,667.9 521.6,667.9 521.6,715.2"/>
<path d="M664.7,620.5C664.7,667.9 430.0,667.9 430.0,715.2"/>
<path d="M311.2,725.6C311.2,772.9 620.4,772.9 620.4,820.1"/>
<path d="M527.6,725.6C527.6,772.9 617.6,772.9 617.6,820.1"/>
<path d="M561.4,725.6C561.4,772.9 565.3,772.9 565.3,820.1"/>
</g>
<g font-family="Liberation Sans, Arial, sans-serif" font-size="8" text-anchor="middle">
<rect x="37.6" y="610.7" width="134.8" height="9.5" rx="3.6" fill="#fff" stroke="#a07a98" stroke-width="0.9"/>
<rect x="43.6" y="612.6" width="122.8" height="5.7" rx="2.8" fill="#763460"/>
<rect x="90.7" y="609.5" width="58" height="1.9" fill="#fff" fill-opacity="0.75"/>
<text x="102.7" y="609.3" fill="#8a5a80">Chr05</text>
<rect x="184.7" y="610.7" width="116.5" height="9.5" rx="3.6" fill="#fff" stroke="#a07a98" stroke-width="0.9"/>
<rect x="190.7" y="612.6" width="104.5" height="5.7" rx="2.8" fill="#763460"/>
<rect x="228.5" y="609.5" width="58" height="1.9" fill="#fff" fill-opacity="0.75"/>
<text x="240.5" y="609.3" fill="#8a5a80">Chr03</text>
<rect x="313.0" y="610.7" width="92.9" height="9.5" rx="3.6" fill="#fff" stroke="#a07a98" stroke-width="0.9"/>
<rect x="319.0" y="612.6" width="80.9" height="5.7" rx="2.8" fill="#763460"/>
<rect x="345.7" y="609.5" width="58" height="1.9" fill="#fff" fill-opacity="0.75"/>
<text x="357.7" y="609.3" fill="#8a5a80">Chr04</text>
<rect x="417.5" y="610.7" width="152.2" height="9.5" rx="3.6" fill="#fff" stroke="#a07a98" stroke-width="0.9"/>
<rect x="423.5" y="612.6" width="140.2" height="5.7" rx="2.8" fill="#763460"/>
<rect x="478.7" y="609.5" width="58" height="1.9" fill="#fff" fill-opacity="0.75"/>
<text x="490.7" y="609.3" fill="#8a5a80">Chr01</text>
<rect x="581.8" y="610.7" width="97.7" height="9.5" rx="3.6" fill="#fff" stroke="#a07a98" stroke-width="0.9"/>
<rect x="587.8" y="612.6" width="85.7" height="5.7" rx="2.8" fill="#763460"/>
<rect x="621.8" y="609.5" width="58" height="1.9" fill="#fff" fill-opacity="0.75"/>
<text x="633.8" y="609.3" fill="#8a5a80">Chr02</text>
<rect x="37.4" y="715.4" width="22.1" height="10.0" rx="4.5" fill="#fff" stroke="#b2e89c" stroke-width="0.9"/>
<rect x="38.8" y="717.1" width="19.3" height="5.8" rx="2.9" fill="#90e866"/>
<text x="48.5" y="714.2" fill="#88dc66">Chr13</text>
<rect x="69.6" y="715.4" width="33.6" height="10.0" rx="4.5" fill="#fff" stroke="#b2e89c" stroke-width="0.9"/>
<rect x="71.0" y="717.1" width="30.8" height="5.8" rx="2.9" fill="#90e866"/>
<text x="86.4" y="714.2" fill="#88dc66">Chr09</text>
<rect x="114.0" y="715.4" width="26.8" height="10.0" rx="4.5" fill="#fff" stroke="#b2e89c" stroke-width="0.9"/>
<rect x="115.4" y="717.1" width="24.0" height="5.8" rx="2.9" fill="#90e866"/>
<text x="127.4" y="714.2" fill="#88dc66">Chr05</text>
<rect x="151.6" y="715.4" width="20.1" height="10.0" rx="4.5" fill="#fff" stroke="#b2e89c" stroke-width="0.9"/>
<rect x="153.0" y="717.1" width="17.3" height="5.8" rx="2.9" fill="#90e866"/>
<text x="161.6" y="714.2" fill="#88dc66">Chr02</text>
<rect x="181.8" y="715.4" width="12.1" height="10.0" rx="4.5" fill="#fff" stroke="#b2e89c" stroke-width="0.9"/>
<rect x="183.2" y="717.1" width="9.3" height="5.8" rx="2.9" fill="#90e866"/>
<text x="187.9" y="714.2" fill="#88dc66">Chr17</text>
<rect x="203.6" y="715.4" width="26.9" height="10.0" rx="4.5" fill="#fff" stroke="#b2e89c" stroke-width="0.9"/>
<rect x="205.0" y="717.1" width="24.1" height="5.8" rx="2.9" fill="#90e866"/>
<text x="217.1" y="714.2" fill="#88dc66">Chr14</text>
<rect x="240.1" y="715.4" width="34.2" height="10.0" rx="4.5" fill="#fff" stroke="#b2e89c" stroke-width="0.9"/>
<rect x="241.5" y="717.1" width="31.4" height="5.8" rx="2.9" fill="#90e866"/>
<text x="257.2" y="714.2" fill="#88dc66">Chr10</text>
<rect x="283.7" y="715.4" width="15.1" height="10.0" rx="4.5" fill="#fff" stroke="#b2e89c" stroke-width="0.9"/>
<rect x="285.1" y="717.1" width="12.3" height="5.8" rx="2.9" fill="#90e866"/>
<text x="291.2" y="714.2" fill="#88dc66">Chr06</text>
<rect x="308.9" y="715.4" width="29.6" height="10.0" rx="4.5" fill="#fff" stroke="#b2e89c" stroke-width="0.9"/>
<rect x="310.3" y="717.1" width="26.8" height="5.8" rx="2.9" fill="#90e866"/>
<text x="323.7" y="714.2" fill="#88dc66">Chr03</text>
<rect x="348.2" y="715.4" width="16.1" height="10.0" rx="4.5" fill="#fff" stroke="#b2e89c" stroke-width="0.9"/>
<rect x="349.6" y="717.1" width="13.3" height="5.8" rx="2.9" fill="#90e866"/>
<text x="356.2" y="714.2" fill="#88dc66">Chr18</text>
<rect x="374.4" y="715.4" width="29.5" height="10.0" rx="4.5" fill="#fff" stroke="#b2e89c" stroke-width="0.9"/>
<rect x="375.8" y="717.1" width="26.7" height="5.8" rx="2.9" fill="#90e866"/>
<text x="389.1" y="714.2" fill="#88dc66">Chr11</text>
<rect x="413.0" y="715.4" width="32.9" height="10.0" rx="4.5" fill="#fff" stroke="#b2e89c" stroke-width="0.9"/>
<rect x="414.4" y="717.1" width="30.1" height="5.8" rx="2.9" fill="#90e866"/>
<text x="429.4" y="714.2" fill="#88dc66">Chr07</text>
<rect x="456.1" y="715.4" width="34.7" height="10.0" rx="4.5" fill="#fff" stroke="#b2e89c" stroke-width="0.9"/>
<rect x="457.5" y="717.1" width="31.9" height="5.8" rx="2.9" fill="#90e866"/>
<text x="473.5" y="714.2" fill="#88dc66">Chr04</text>
<rect x="500.1" y="715.4" width="30.0" height="10.0" rx="4.5" fill="#fff" stroke="#b2e89c" stroke-width="0.9"/>
<rect x="501.5" y="717.1" width="27.2" height="5.8" rx="2.9" fill="#90e866"/>
<text x="515.1" y="714.2" fill="#88dc66">Chr15</text>
<rect x="540.1" y="715.4" width="27.6" height="10.0" rx="4.5" fill="#fff" stroke="#b2e89c" stroke-width="0.9"/>
<rect x="541.5" y="717.1" width="24.8" height="5.8" rx="2.9" fill="#90e866"/>
<text x="553.9" y="714.2" fill="#88dc66">Chr12</text>
<rect x="577.7" y="715.4" width="33.3" height="10.0" rx="4.5" fill="#fff" stroke="#b2e89c" stroke-width="0.9"/>
<rect x="579.1" y="717.1" width="30.5" height="5.8" rx="2.9" fill="#90e866"/>
<text x="594.4" y="714.2" fill="#88dc66">Chr08</text>
<rect x="619.9" y="715.4" width="25.1" height="10.0" rx="4.5" fill="#fff" stroke="#b2e89c" stroke-width="0.9"/>
<rect x="621.3" y="717.1" width="22.3" height="5.8" rx="2.9" fill="#90e866"/>
<text x="632.5" y="714.2" fill="#88dc66">Chr01</text>
<rect x="654.6" y="715.4" width="27.5" height="10.0" rx="4.5" fill="#fff" stroke="#b2e89c" stroke-width="0.9"/>
<rect x="656.0" y="717.1" width="24.7" height="5.8" rx="2.9" fill="#90e866"/>
<text x="668.4" y="714.2" fill="#88dc66">Chr16</text>
<rect x="36.8" y="820.3" width="62.0" height="8.4" rx="4.5" fill="#fff" stroke="#dcd8b4" stroke-width="0.9"/>
<rect x="39.8" y="822.0" width="56.0" height="5.2" rx="2.6" fill="#c9c58f"/>
<text x="67.8" y="818.4" fill="#c4bd8c" font-size="7.5">Chr01</text>
<rect x="109.3" y="820.3" width="51.2" height="8.4" rx="4.5" fill="#fff" stroke="#dcd8b4" stroke-width="0.9"/>
<rect x="112.3" y="822.0" width="45.2" height="5.2" rx="2.6" fill="#c9c58f"/>
<text x="134.9" y="818.4" fill="#c4bd8c" font-size="7.5">Chr03</text>
<rect x="171.0" y="820.3" width="51.1" height="8.4" rx="4.5" fill="#fff" stroke="#dcd8b4" stroke-width="0.9"/>
<rect x="174.0" y="822.0" width="45.1" height="5.2" rx="2.6" fill="#c9c58f"/>
<text x="196.6" y="818.4" fill="#c4bd8c" font-size="7.5">Chr02</text>
<rect x="233.3" y="820.3" width="49.1" height="8.4" rx="4.5" fill="#fff" stroke="#dcd8b4" stroke-width="0.9"/>
<rect x="236.3" y="822.0" width="43.1" height="5.2" rx="2.6" fill="#c9c58f"/>
<text x="257.9" y="818.4" fill="#c4bd8c" font-size="7.5">Chr04</text>
<rect x="293.6" y="820.3" width="41.3" height="8.4" rx="4.5" fill="#fff" stroke="#dcd8b4" stroke-width="0.9"/>
<rect x="296.6" y="822.0" width="35.3" height="5.2" rx="2.6" fill="#c9c58f"/>
<text x="314.2" y="818.4" fill="#c4bd8c" font-size="7.5">Chr11</text>
<rect x="345.4" y="820.3" width="38.6" height="8.4" rx="4.5" fill="#fff" stroke="#dcd8b4" stroke-width="0.9"/>
<rect x="348.4" y="822.0" width="32.6" height="5.2" rx="2.6" fill="#c9c58f"/>
<text x="364.7" y="818.4" fill="#c4bd8c" font-size="7.5">Chr12</text>
<rect x="395.2" y="820.3" width="41.3" height="8.4" rx="4.5" fill="#fff" stroke="#dcd8b4" stroke-width="0.9"/>
<rect x="398.2" y="822.0" width="35.3" height="5.2" rx="2.6" fill="#c9c58f"/>
<text x="415.9" y="818.4" fill="#c4bd8c" font-size="7.5">Chr05</text>
<rect x="447.8" y="820.3" width="43.8" height="8.4" rx="4.5" fill="#fff" stroke="#dcd8b4" stroke-width="0.9"/>
<rect x="450.8" y="822.0" width="37.8" height="5.2" rx="2.6" fill="#c9c58f"/>
<text x="469.7" y="818.4" fill="#c4bd8c" font-size="7.5">Chr06</text>
<rect x="502.1" y="820.3" width="32.2" height="8.4" rx="4.5" fill="#fff" stroke="#dcd8b4" stroke-width="0.9"/>
<rect x="505.1" y="822.0" width="26.2" height="5.2" rx="2.6" fill="#c9c58f"/>
<text x="518.2" y="818.4" fill="#c4bd8c" font-size="7.5">Chr09</text>
<rect x="545.6" y="820.3" width="31.8" height="8.4" rx="4.5" fill="#fff" stroke="#dcd8b4" stroke-width="0.9"/>
<rect x="548.6" y="822.0" width="25.8" height="5.2" rx="2.6" fill="#c9c58f"/>
<text x="561.5" y="818.4" fill="#c4bd8c" font-size="7.5">Chr10</text>
<rect x="588.7" y="820.3" width="41.3" height="8.4" rx="4.5" fill="#fff" stroke="#dcd8b4" stroke-width="0.9"/>
<rect x="591.7" y="822.0" width="35.3" height="5.2" rx="2.6" fill="#c9c58f"/>
<text x="609.4" y="818.4" fill="#c4bd8c" font-size="7.5">Chr07</text>
<rect x="641.2" y="820.3" width="39.6" height="8.4" rx="4.5" fill="#fff" stroke="#dcd8b4" stroke-width="0.9"/>
<rect x="644.2" y="822.0" width="33.6" height="5.2" rx="2.6" fill="#c9c58f"/>
<text x="661.0" y="818.4" fill="#c4bd8c" font-size="7.5">Chr08</text>
</g>
<g font-family="Liberation Sans, Arial, sans-serif" font-weight="bold" font-size="16">
<text x="2" y="616.6" fill="#712d60">At</text>
<text x="1.8" y="725.6" fill="#8ee466" font-size="15">Hb</text>
<text x="1.5" y="829.6" fill="#c9c28e" font-size="15">Os</text>
</g>
<g font-family="Liberation Sans, Arial, sans-serif" font-size="23" fill="#000">
<text x="10.2" y="37.7">A</text>
<text x="10.8" y="578.9">B</text>
</g>
</svg>
</body></html>
